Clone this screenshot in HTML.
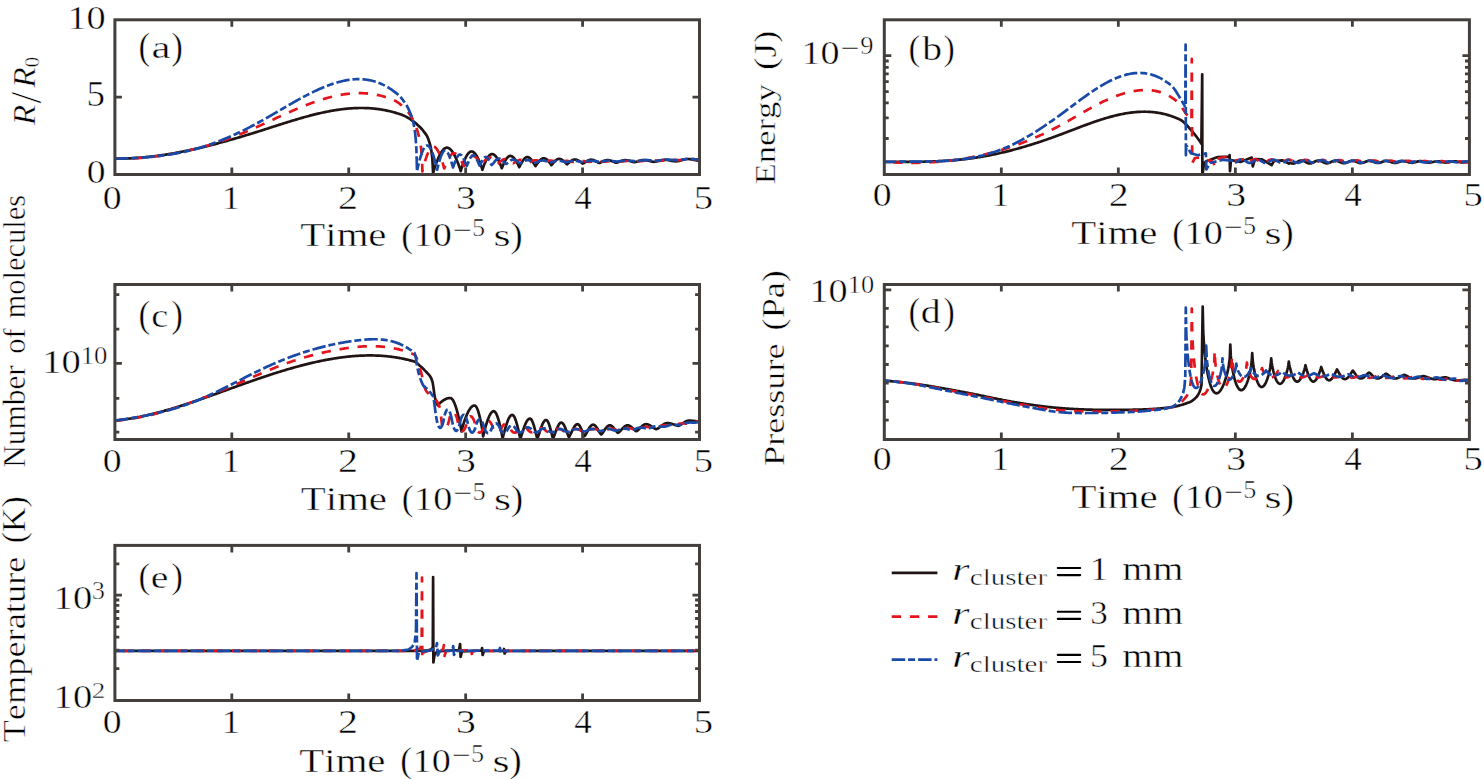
<!DOCTYPE html><html><head><meta charset="utf-8"><style>html,body{margin:0;padding:0;background:#fff;width:1484px;height:779px;overflow:hidden}text{font-family:"Liberation Serif",serif;font-kerning:none}</style></head><body><svg width="1484" height="779" viewBox="0 0 1484 779" style="position:absolute;left:0;top:0">
<rect width="1484" height="779" fill="#fff"/>
<defs>
<clipPath id="clipa"><rect x="114.9" y="19.8" width="584.6" height="154.7"/></clipPath>
<clipPath id="clipb"><rect x="884.3" y="19.8" width="585.1000000000001" height="154.7"/></clipPath>
<clipPath id="clipc"><rect x="114.9" y="284.5" width="584.6" height="155.0"/></clipPath>
<clipPath id="clipd"><rect x="884.3" y="284.5" width="585.1000000000001" height="155.0"/></clipPath>
<clipPath id="clipe"><rect x="114.9" y="545.4" width="584.6" height="155.10000000000002"/></clipPath>
</defs>
<path d="M114.90,158.69 L115.90,158.69 L116.90,158.69 L117.90,158.69 L118.90,158.68 L119.90,158.66 L120.90,158.65 L121.90,158.63 L122.90,158.60 L123.90,158.58 L124.90,158.55 L125.90,158.51 L126.90,158.48 L127.90,158.44 L128.90,158.39 L129.90,158.34 L130.90,158.29 L131.90,158.24 L132.90,158.18 L133.90,158.12 L134.90,158.06 L135.90,157.99 L136.90,157.92 L137.90,157.85 L138.90,157.77 L139.90,157.69 L140.90,157.61 L141.90,157.52 L142.90,157.43 L143.90,157.34 L144.90,157.24 L145.90,157.15 L146.90,157.04 L147.90,156.94 L148.90,156.83 L149.90,156.72 L150.90,156.61 L151.90,156.49 L152.90,156.37 L153.90,156.25 L154.90,156.13 L155.90,156.00 L156.90,155.87 L157.90,155.73 L158.90,155.60 L159.90,155.46 L160.90,155.32 L161.90,155.17 L162.90,155.02 L163.90,154.87 L164.90,154.72 L165.90,154.57 L166.90,154.41 L167.90,154.25 L168.90,154.09 L169.90,153.92 L170.90,153.75 L171.90,153.58 L172.90,153.41 L173.90,153.23 L174.90,153.05 L175.90,152.87 L176.90,152.69 L177.90,152.50 L178.90,152.32 L179.90,152.13 L180.90,151.93 L181.90,151.74 L182.90,151.54 L183.90,151.34 L184.90,151.14 L185.90,150.94 L186.90,150.73 L187.90,150.52 L188.90,150.31 L189.90,150.10 L190.90,149.88 L191.90,149.67 L192.90,149.45 L193.90,149.22 L194.90,149.00 L195.90,148.78 L196.90,148.55 L197.90,148.32 L198.90,148.09 L199.90,147.85 L200.90,147.62 L201.90,147.38 L202.90,147.14 L203.90,146.90 L204.90,146.66 L205.90,146.41 L206.90,146.17 L207.90,145.92 L208.90,145.67 L209.90,145.41 L210.90,145.16 L211.90,144.90 L212.90,144.65 L213.90,144.39 L214.90,144.13 L215.90,143.87 L216.90,143.60 L217.90,143.34 L218.90,143.07 L219.90,142.80 L220.90,142.53 L221.90,142.26 L222.90,141.98 L223.90,141.71 L224.90,141.43 L225.90,141.15 L226.90,140.88 L227.90,140.59 L228.90,140.31 L229.90,140.03 L230.90,139.74 L231.90,139.46 L232.90,139.17 L233.90,138.88 L234.90,138.59 L235.90,138.30 L236.90,138.01 L237.90,137.71 L238.90,137.42 L239.90,137.12 L240.90,136.83 L241.90,136.53 L242.90,136.23 L243.90,135.93 L244.90,135.63 L245.90,135.32 L246.90,135.02 L247.90,134.71 L248.90,134.41 L249.90,134.10 L250.90,133.79 L251.90,133.49 L252.90,133.18 L253.90,132.87 L254.90,132.55 L256.23,132.14 L257.57,131.72 L258.90,131.30 L259.90,130.99 L260.90,130.67 L261.90,130.35 L262.90,130.03 L263.90,129.72 L264.90,129.40 L265.90,129.08 L266.90,128.76 L267.90,128.44 L268.90,128.12 L269.90,127.79 L270.90,127.47 L271.90,127.15 L272.90,126.83 L273.90,126.51 L274.90,126.19 L275.90,125.87 L276.90,125.55 L277.90,125.23 L278.90,124.91 L279.90,124.59 L280.90,124.27 L281.90,123.95 L282.90,123.63 L283.90,123.32 L284.90,123.00 L285.90,122.69 L286.90,122.38 L287.90,122.06 L288.90,121.75 L289.90,121.44 L290.90,121.14 L291.90,120.83 L292.90,120.53 L293.90,120.22 L294.90,119.92 L295.90,119.62 L296.90,119.33 L297.90,119.03 L298.90,118.74 L299.90,118.45 L300.90,118.16 L301.90,117.87 L302.90,117.59 L303.90,117.30 L304.90,117.03 L305.90,116.75 L306.90,116.48 L307.90,116.20 L308.90,115.94 L309.90,115.67 L310.90,115.41 L311.90,115.15 L312.90,114.90 L313.90,114.64 L314.90,114.39 L315.90,114.15 L316.90,113.91 L317.90,113.67 L318.90,113.43 L319.90,113.20 L320.90,112.98 L321.90,112.75 L322.90,112.54 L323.90,112.32 L324.90,112.11 L325.90,111.90 L326.90,111.70 L327.90,111.50 L328.90,111.31 L329.90,111.12 L330.90,110.94 L331.90,110.76 L332.90,110.59 L333.90,110.42 L334.90,110.25 L335.90,110.09 L336.90,109.94 L337.90,109.79 L338.90,109.65 L339.90,109.51 L340.90,109.38 L341.90,109.25 L342.90,109.13 L343.90,109.01 L344.90,108.90 L345.90,108.80 L346.90,108.70 L347.90,108.61 L348.90,108.52 L349.90,108.44 L350.90,108.37 L351.90,108.30 L352.90,108.24 L353.90,108.19 L354.90,108.14 L355.90,108.10 L356.90,108.06 L357.90,108.04 L358.90,108.02 L359.90,108.00 L360.90,108.00 L361.90,108.00 L362.90,108.01 L363.90,108.02 L364.90,108.05 L365.90,108.08 L366.90,108.11 L367.90,108.16 L368.90,108.21 L369.90,108.27 L370.90,108.34 L371.90,108.42 L372.90,108.51 L373.90,108.60 L374.90,108.70 L375.90,108.81 L376.90,108.93 L377.90,109.06 L378.90,109.19 L379.90,109.34 L380.90,109.49 L381.90,109.65 L382.90,109.82 L383.90,110.00 L384.90,110.19 L385.90,110.38 L386.90,110.59 L387.90,110.81 L388.90,111.03 L389.90,111.27 L390.90,111.51 L391.90,111.76 L392.90,112.03 L393.90,112.30 L394.90,112.58 L395.90,112.88 L396.90,113.19 L397.90,113.50 L398.90,113.82 L400.03,114.19 L401.17,114.58 L402.30,114.99 L403.33,115.40 L404.35,115.85 L405.38,116.35 L406.41,116.89 L407.44,117.47 L408.46,118.08 L409.49,118.72 L410.52,119.39 L411.55,120.08 L412.57,120.78 L413.60,121.50 L414.60,122.25 L415.60,123.08 L416.60,123.96 L417.60,124.90 L418.60,125.86 L419.60,126.83 L420.60,127.80 L421.74,128.99 L422.88,130.34 L424.02,131.81 L425.16,133.34 L426.30,134.90 L427.35,136.73 L428.40,139.30 L429.45,142.49 L430.50,146.20 L431.40,151.03 L432.30,158.00 L433.10,173.10 L433.60,171.17 L434.10,169.50 L434.61,167.93 L435.11,166.43 L435.61,164.98 L436.11,163.58 L436.61,162.23 L437.11,160.94 L437.62,159.69 L438.12,158.50 L438.62,157.36 L439.12,156.27 L439.62,155.24 L440.13,154.27 L440.63,153.36 L441.13,152.51 L441.63,151.73 L442.13,151.01 L442.63,150.36 L443.14,149.78 L443.64,149.26 L444.14,148.82 L444.64,148.45 L445.14,148.16 L445.65,147.93 L446.15,147.78 L446.65,147.71 L447.15,147.71 L447.65,147.78 L448.15,147.92 L448.66,148.12 L449.16,148.40 L449.66,148.74 L450.16,149.15 L450.66,149.62 L451.17,150.16 L451.67,150.76 L452.17,151.43 L452.67,152.15 L453.17,152.94 L453.67,153.78 L454.18,154.68 L454.68,155.63 L455.18,156.63 L455.68,157.69 L456.18,158.79 L456.69,159.95 L457.19,161.15 L457.69,162.39 L458.19,163.69 L458.69,165.03 L459.19,166.42 L459.70,167.87 L460.20,169.41 L460.70,171.20 L461.20,169.32 L461.71,167.71 L462.21,166.19 L462.72,164.75 L463.22,163.37 L463.73,162.05 L464.23,160.81 L464.74,159.62 L465.24,158.51 L465.75,157.46 L466.25,156.50 L466.76,155.61 L467.26,154.80 L467.77,154.07 L468.27,153.43 L468.77,152.88 L469.28,152.42 L469.78,152.05 L470.29,151.77 L470.79,151.59 L471.30,151.51 L471.80,151.52 L472.31,151.61 L472.81,151.79 L473.32,152.06 L473.82,152.42 L474.33,152.85 L474.83,153.37 L475.33,153.97 L475.84,154.65 L476.34,155.40 L476.85,156.23 L477.35,157.13 L477.86,158.09 L478.36,159.12 L478.87,160.22 L479.37,161.37 L479.88,162.58 L480.38,163.85 L480.89,165.18 L481.39,166.58 L481.90,168.07 L482.40,169.80 L482.91,168.14 L483.42,166.70 L483.93,165.36 L484.44,164.10 L484.95,162.89 L485.46,161.75 L485.97,160.68 L486.48,159.68 L486.99,158.74 L487.51,157.89 L488.02,157.11 L488.53,156.42 L489.04,155.81 L489.55,155.30 L490.06,154.87 L490.57,154.53 L491.08,154.29 L491.59,154.15 L492.10,154.10 L492.61,154.14 L493.12,154.27 L493.63,154.49 L494.14,154.79 L494.65,155.17 L495.16,155.64 L495.67,156.18 L496.18,156.81 L496.69,157.50 L497.21,158.27 L497.72,159.11 L498.23,160.01 L498.74,160.97 L499.25,162.00 L499.76,163.08 L500.27,164.22 L500.78,165.42 L501.29,166.71 L501.80,168.20 L502.31,166.89 L502.83,165.67 L503.34,164.51 L503.86,163.40 L504.37,162.34 L504.89,161.35 L505.40,160.42 L505.92,159.56 L506.43,158.78 L506.95,158.08 L507.46,157.48 L507.98,156.96 L508.49,156.55 L509.01,156.23 L509.52,156.02 L510.04,155.91 L510.55,155.91 L511.06,156.00 L511.58,156.17 L512.09,156.42 L512.61,156.76 L513.12,157.18 L513.64,157.68 L514.15,158.25 L514.67,158.89 L515.18,159.60 L515.70,160.37 L516.21,161.20 L516.73,162.08 L517.24,163.01 L517.76,163.99 L518.27,165.00 L518.79,166.06 L519.30,167.20 L519.80,166.20 L520.31,165.22 L520.81,164.25 L521.31,163.31 L521.82,162.41 L522.32,161.56 L522.82,160.76 L523.32,160.02 L523.83,159.36 L524.33,158.77 L524.83,158.26 L525.34,157.84 L525.84,157.51 L526.34,157.28 L526.85,157.14 L527.35,157.10 L527.85,157.15 L528.36,157.29 L528.86,157.51 L529.36,157.82 L529.87,158.20 L530.37,158.66 L530.87,159.20 L531.38,159.80 L531.88,160.46 L532.38,161.17 L532.88,161.93 L533.39,162.74 L533.89,163.57 L534.39,164.44 L534.90,165.31 L535.40,166.20 L535.90,165.47 L536.40,164.75 L536.90,164.04 L537.40,163.35 L537.90,162.68 L538.40,162.04 L538.90,161.44 L539.40,160.88 L539.90,160.36 L540.40,159.90 L540.90,159.48 L541.40,159.13 L541.90,158.83 L542.40,158.60 L542.90,158.43 L543.40,158.33 L543.90,158.30 L544.40,158.34 L544.90,158.45 L545.40,158.64 L545.90,158.90 L546.40,159.22 L546.90,159.62 L547.40,160.07 L547.90,160.58 L548.40,161.14 L548.90,161.75 L549.40,162.39 L549.90,163.07 L550.40,163.77 L550.90,164.48 L551.40,165.20 L551.90,164.62 L552.41,164.01 L552.91,163.40 L553.41,162.80 L553.92,162.21 L554.42,161.66 L554.92,161.14 L555.43,160.66 L555.93,160.23 L556.43,159.85 L556.94,159.53 L557.44,159.28 L557.94,159.08 L558.45,158.96 L558.95,158.90 L559.45,158.91 L559.95,158.98 L560.46,159.11 L560.96,159.29 L561.46,159.52 L561.97,159.81 L562.47,160.14 L562.97,160.52 L563.48,160.93 L563.98,161.38 L564.48,161.86 L564.99,162.36 L565.49,162.87 L565.99,163.39 L566.50,163.91 L567.00,164.40 L567.51,164.01 L568.02,163.56 L568.53,163.10 L569.04,162.64 L569.55,162.19 L570.06,161.75 L570.57,161.34 L571.08,160.96 L571.59,160.62 L572.10,160.31 L572.61,160.05 L573.12,159.83 L573.63,159.67 L574.14,159.56 L574.65,159.51 L575.15,159.51 L575.66,159.55 L576.17,159.64 L576.68,159.78 L577.19,159.96 L577.70,160.18 L578.21,160.43 L578.72,160.72 L579.23,161.04 L579.74,161.39 L580.25,161.75 L580.76,162.13 L581.27,162.51 L581.78,162.90 L582.29,163.27 L582.80,163.60 L583.31,163.37 L583.82,163.08 L584.33,162.76 L584.84,162.43 L585.35,162.09 L585.86,161.76 L586.37,161.44 L586.88,161.13 L587.38,160.84 L587.89,160.58 L588.40,160.35 L588.91,160.14 L589.42,159.98 L589.93,159.85 L590.44,159.76 L590.95,159.71 L591.46,159.70 L591.97,159.74 L592.48,159.81 L592.99,159.93 L593.50,160.08 L594.01,160.27 L594.52,160.48 L595.02,160.73 L595.53,161.00 L596.04,161.29 L596.55,161.60 L597.06,161.90 L597.57,162.21 L598.08,162.51 L598.59,162.79 L599.10,163.00 L599.60,162.88 L600.10,162.71 L600.60,162.50 L601.10,162.27 L601.60,162.03 L602.10,161.78 L602.60,161.54 L603.10,161.30 L603.60,161.07 L604.10,160.86 L604.60,160.67 L605.10,160.50 L605.60,160.36 L606.10,160.25 L606.60,160.17 L607.10,160.12 L607.60,160.10 L608.10,160.11 L608.60,160.16 L609.10,160.23 L609.60,160.33 L610.10,160.46 L610.60,160.61 L611.10,160.78 L611.60,160.97 L612.10,161.17 L612.60,161.39 L613.10,161.61 L613.60,161.83 L614.10,162.04 L614.60,162.25 L615.10,162.44 L615.60,162.60 L616.10,162.70 L616.61,162.64 L617.11,162.52 L617.62,162.37 L618.12,162.20 L618.63,162.01 L619.13,161.82 L619.64,161.61 L620.14,161.41 L620.65,161.21 L621.16,161.02 L621.66,160.85 L622.17,160.69 L622.67,160.54 L623.18,160.42 L623.68,160.33 L624.19,160.26 L624.69,160.21 L625.20,160.20 L625.71,160.21 L626.21,160.24 L626.72,160.30 L627.22,160.37 L627.73,160.46 L628.23,160.57 L628.74,160.69 L629.24,160.83 L629.75,160.97 L630.26,161.12 L630.76,161.27 L631.27,161.43 L631.77,161.58 L632.28,161.72 L632.78,161.85 L633.29,161.96 L633.79,162.05 L634.30,162.10 L634.81,162.07 L635.32,162.00 L635.83,161.91 L636.34,161.79 L636.85,161.65 L637.36,161.51 L637.87,161.35 L638.38,161.18 L638.89,161.02 L639.41,160.85 L639.92,160.70 L640.43,160.55 L640.94,160.41 L641.45,160.29 L641.96,160.19 L642.47,160.11 L642.98,160.05 L643.49,160.01 L644.00,160.00 L644.51,160.01 L645.02,160.04 L645.53,160.09 L646.04,160.16 L646.55,160.25 L647.06,160.35 L647.57,160.47 L648.08,160.60 L648.59,160.73 L649.11,160.87 L649.62,161.01 L650.13,161.15 L650.64,161.29 L651.15,161.42 L651.66,161.53 L652.17,161.63 L652.68,161.72 L653.19,161.77 L653.70,161.80 L654.21,161.79 L654.72,161.75 L655.23,161.69 L655.74,161.61 L656.25,161.51 L656.76,161.40 L657.27,161.28 L657.77,161.15 L658.28,161.01 L658.79,160.87 L659.30,160.72 L659.81,160.58 L660.32,160.44 L660.83,160.31 L661.34,160.19 L661.85,160.08 L662.36,159.99 L662.87,159.92 L663.38,159.86 L663.89,159.82 L664.40,159.80 L664.90,159.80 L665.41,159.82 L665.92,159.85 L666.43,159.90 L666.94,159.95 L667.45,160.02 L667.96,160.11 L668.47,160.20 L668.98,160.29 L669.49,160.40 L670.00,160.50 L670.51,160.61 L671.02,160.72 L671.53,160.82 L672.03,160.92 L672.54,161.01 L673.05,161.09 L673.56,161.16 L674.07,161.22 L674.58,161.26 L675.09,161.29 L675.60,161.30 L676.11,161.29 L676.62,161.26 L677.13,161.21 L677.63,161.14 L678.14,161.05 L678.65,160.95 L679.16,160.83 L679.67,160.70 L680.18,160.56 L680.69,160.41 L681.19,160.26 L681.70,160.10 L682.21,159.95 L682.72,159.80 L683.23,159.66 L683.74,159.52 L684.24,159.40 L684.75,159.29 L685.26,159.20 L685.77,159.12 L686.28,159.06 L686.79,159.02 L687.30,159.00 L687.80,159.00 L688.31,159.02 L688.82,159.05 L689.33,159.09 L689.84,159.15 L690.35,159.21 L690.86,159.29 L691.36,159.38 L691.87,159.47 L692.38,159.57 L692.89,159.67 L693.40,159.78 L693.91,159.88 L694.41,159.99 L694.92,160.09 L695.43,160.19 L695.94,160.28 L696.45,160.36 L696.96,160.43 L697.47,160.49 L697.97,160.54 L698.48,160.57 L698.99,160.59 L699.50,160.60" fill="none" stroke="#201414" stroke-width="2.7" stroke-linejoin="round" clip-path="url(#clipa)"/>
<path d="M114.90,158.67 L115.90,158.68 L116.90,158.69 L117.90,158.70 L118.90,158.70 L119.90,158.70 L120.90,158.69 L121.90,158.69 L122.90,158.67 L123.90,158.66 L124.90,158.64 L125.90,158.62 L126.90,158.59 L127.90,158.57 L128.90,158.53 L129.90,158.50 L130.90,158.46 L131.90,158.42 L132.90,158.37 L133.90,158.32 L134.90,158.27 L135.90,158.22 L136.90,158.16 L137.90,158.10 L138.90,158.03 L139.90,157.96 L140.90,157.89 L141.90,157.82 L142.90,157.74 L143.90,157.66 L144.90,157.57 L145.90,157.48 L146.90,157.39 L147.90,157.29 L148.90,157.20 L149.90,157.09 L150.90,156.99 L151.90,156.88 L152.90,156.77 L153.90,156.65 L154.90,156.53 L155.90,156.41 L156.90,156.28 L157.90,156.16 L158.90,156.02 L159.90,155.89 L160.90,155.75 L161.90,155.61 L162.90,155.46 L163.90,155.31 L164.90,155.16 L165.90,155.01 L166.90,154.85 L167.90,154.68 L168.90,154.52 L169.90,154.35 L170.90,154.18 L171.90,154.00 L172.90,153.82 L173.90,153.64 L174.90,153.46 L175.90,153.27 L176.90,153.07 L177.90,152.88 L178.90,152.68 L179.90,152.48 L180.90,152.27 L181.90,152.06 L182.90,151.85 L183.90,151.64 L184.90,151.42 L185.90,151.19 L186.90,150.97 L187.90,150.74 L188.90,150.51 L189.90,150.27 L190.90,150.03 L191.90,149.79 L192.90,149.55 L193.90,149.30 L194.90,149.05 L195.90,148.79 L196.90,148.53 L197.90,148.27 L198.90,148.00 L199.90,147.73 L200.90,147.46 L201.90,147.19 L202.90,146.91 L203.90,146.63 L204.90,146.34 L205.90,146.05 L206.90,145.76 L207.90,145.47 L208.90,145.17 L209.90,144.87 L210.90,144.56 L211.90,144.25 L212.90,143.94 L213.90,143.63 L214.90,143.31 L215.90,142.99 L216.90,142.66 L217.90,142.33 L218.90,142.00 L219.90,141.67 L220.90,141.33 L221.90,140.99 L222.90,140.64 L223.90,140.29 L224.90,139.94 L225.90,139.59 L226.90,139.23 L227.90,138.87 L228.90,138.50 L229.90,138.13 L230.90,137.76 L231.90,137.39 L232.90,137.01 L233.90,136.63 L234.90,136.24 L235.90,135.86 L236.90,135.47 L237.90,135.07 L238.90,134.67 L239.90,134.27 L240.90,133.87 L241.90,133.46 L242.90,133.05 L243.90,132.64 L244.90,132.22 L245.90,131.80 L246.90,131.37 L247.90,130.95 L248.90,130.52 L249.90,130.08 L250.90,129.65 L251.90,129.21 L252.90,128.77 L253.90,128.33 L254.90,127.89 L256.23,127.29 L257.57,126.69 L258.90,126.09 L259.90,125.64 L260.90,125.18 L261.90,124.73 L262.90,124.27 L263.90,123.81 L264.90,123.35 L265.90,122.89 L266.90,122.43 L267.90,121.97 L268.90,121.51 L269.90,121.05 L270.90,120.58 L271.90,120.12 L272.90,119.66 L273.90,119.20 L274.90,118.73 L275.90,118.27 L276.90,117.81 L277.90,117.35 L278.90,116.89 L279.90,116.43 L280.90,115.98 L281.90,115.52 L282.90,115.06 L283.90,114.61 L284.90,114.16 L285.90,113.71 L286.90,113.26 L287.90,112.81 L288.90,112.36 L289.90,111.92 L290.90,111.48 L291.90,111.04 L292.90,110.60 L293.90,110.17 L294.90,109.74 L295.90,109.31 L296.90,108.88 L297.90,108.46 L298.90,108.04 L299.90,107.62 L300.90,107.21 L301.90,106.80 L302.90,106.39 L303.90,105.99 L304.90,105.59 L305.90,105.20 L306.90,104.81 L307.90,104.42 L308.90,104.04 L309.90,103.66 L310.90,103.29 L311.90,102.92 L312.90,102.56 L313.90,102.20 L314.90,101.85 L315.90,101.50 L316.90,101.16 L317.90,100.82 L318.90,100.49 L319.90,100.16 L320.90,99.84 L321.90,99.53 L322.90,99.22 L323.90,98.92 L324.90,98.62 L325.90,98.34 L326.90,98.05 L327.90,97.78 L328.90,97.51 L329.90,97.24 L330.90,96.99 L331.90,96.74 L332.90,96.50 L333.90,96.26 L334.90,96.04 L335.90,95.82 L336.90,95.61 L337.90,95.40 L338.90,95.21 L339.90,95.02 L340.90,94.84 L341.90,94.67 L342.90,94.51 L343.90,94.36 L344.90,94.21 L345.90,94.07 L346.90,93.95 L347.90,93.83 L348.90,93.72 L349.90,93.62 L350.90,93.53 L351.90,93.45 L352.90,93.37 L353.90,93.31 L354.90,93.26 L355.90,93.22 L356.90,93.19 L357.90,93.17 L358.90,93.15 L359.90,93.15 L360.90,93.16 L361.90,93.18 L362.90,93.22 L363.90,93.26 L364.90,93.31 L365.90,93.38 L366.90,93.45 L367.90,93.54 L368.90,93.64 L369.90,93.75 L370.90,93.87 L371.90,94.00 L372.90,94.15 L373.90,94.31 L374.90,94.48 L375.90,94.66 L376.90,94.86 L377.90,95.07 L378.90,95.29 L379.90,95.52 L380.90,95.77 L381.90,96.03 L382.90,96.30 L383.90,96.59 L384.90,96.89 L385.90,97.20 L386.90,97.53 L387.90,97.87 L388.90,98.23 L389.90,98.61 L390.90,98.98 L391.90,99.36 L392.90,99.77 L393.90,100.21 L394.90,100.65 L395.95,101.18 L397.01,101.81 L398.06,102.53 L399.12,103.33 L400.17,104.19 L401.23,105.11 L402.28,106.08 L403.34,107.08 L404.39,108.11 L405.45,109.15 L406.50,110.20 L407.51,111.30 L408.53,112.58 L409.54,114.01 L410.56,115.57 L411.57,117.23 L412.59,118.99 L413.60,120.80 L414.65,123.03 L415.70,125.78 L416.75,128.87 L417.80,132.10 L419.20,137.48 L420.60,144.80 L421.30,150.16 L422.00,157.40 L422.40,171.40 L422.91,169.05 L423.41,167.02 L423.92,165.12 L424.43,163.31 L424.93,161.58 L425.44,159.93 L425.95,158.36 L426.46,156.88 L426.96,155.48 L427.47,154.17 L427.98,152.95 L428.48,151.83 L428.99,150.81 L429.50,149.89 L430.00,149.08 L430.51,148.39 L431.02,147.80 L431.53,147.33 L432.03,146.97 L432.54,146.73 L433.05,146.61 L433.55,146.61 L434.06,146.72 L434.57,146.93 L435.07,147.24 L435.58,147.66 L436.09,148.18 L436.60,148.79 L437.10,149.51 L437.61,150.32 L438.12,151.22 L438.62,152.21 L439.13,153.28 L439.64,154.44 L440.14,155.68 L440.65,156.99 L441.16,158.37 L441.67,159.83 L442.17,161.35 L442.68,162.95 L443.19,164.63 L443.69,166.42 L444.20,168.50 L444.70,167.19 L445.21,165.94 L445.71,164.72 L446.21,163.54 L446.71,162.39 L447.22,161.29 L447.72,160.24 L448.22,159.24 L448.72,158.31 L449.23,157.44 L449.73,156.65 L450.23,155.93 L450.73,155.29 L451.24,154.73 L451.74,154.26 L452.24,153.88 L452.74,153.60 L453.25,153.41 L453.75,153.31 L454.25,153.31 L454.75,153.39 L455.26,153.55 L455.76,153.79 L456.26,154.10 L456.76,154.50 L457.27,154.96 L457.77,155.49 L458.27,156.10 L458.77,156.76 L459.28,157.49 L459.78,158.27 L460.28,159.10 L460.78,159.98 L461.29,160.90 L461.79,161.85 L462.29,162.84 L462.79,163.86 L463.30,164.91 L463.80,166.00 L464.31,165.18 L464.81,164.32 L465.32,163.45 L465.82,162.59 L466.33,161.74 L466.83,160.93 L467.34,160.15 L467.85,159.42 L468.35,158.74 L468.86,158.12 L469.36,157.56 L469.87,157.07 L470.37,156.66 L470.88,156.32 L471.39,156.07 L471.89,155.90 L472.40,155.81 L472.90,155.81 L473.41,155.89 L473.91,156.04 L474.42,156.27 L474.93,156.57 L475.43,156.95 L475.94,157.39 L476.44,157.89 L476.95,158.45 L477.45,159.06 L477.96,159.72 L478.47,160.43 L478.97,161.16 L479.48,161.92 L479.98,162.70 L480.49,163.48 L480.99,164.26 L481.50,165.00 L482.00,164.44 L482.50,163.80 L483.00,163.12 L483.50,162.44 L484.00,161.77 L484.50,161.12 L485.00,160.49 L485.50,159.91 L486.00,159.38 L486.50,158.90 L487.00,158.48 L487.50,158.14 L488.00,157.86 L488.50,157.66 L489.00,157.54 L489.50,157.50 L490.00,157.54 L490.50,157.64 L491.00,157.81 L491.50,158.05 L492.00,158.35 L492.50,158.71 L493.00,159.13 L493.50,159.59 L494.00,160.10 L494.50,160.63 L495.00,161.20 L495.50,161.78 L496.00,162.37 L496.50,162.96 L497.00,163.52 L497.50,164.00 L498.00,163.68 L498.50,163.26 L499.00,162.81 L499.50,162.35 L500.00,161.89 L500.50,161.44 L501.00,161.00 L501.50,160.59 L502.00,160.22 L502.50,159.89 L503.00,159.60 L503.50,159.37 L504.00,159.19 L504.50,159.07 L505.00,159.01 L505.50,159.01 L506.00,159.06 L506.50,159.16 L507.00,159.32 L507.50,159.52 L508.00,159.76 L508.50,160.05 L509.00,160.37 L509.50,160.72 L510.00,161.10 L510.50,161.49 L511.00,161.88 L511.50,162.28 L512.00,162.67 L512.50,163.02 L513.00,163.30 L513.50,163.10 L514.00,162.82 L514.50,162.51 L515.00,162.18 L515.50,161.85 L516.00,161.51 L516.50,161.20 L517.00,160.90 L517.50,160.62 L518.00,160.38 L518.50,160.18 L519.00,160.02 L519.50,159.90 L520.00,159.82 L520.50,159.80 L521.00,159.82 L521.50,159.88 L522.00,159.98 L522.50,160.12 L523.00,160.30 L523.50,160.51 L524.00,160.74 L524.50,161.00 L525.00,161.27 L525.50,161.55 L526.00,161.84 L526.50,162.12 L527.00,162.39 L527.50,162.63 L528.00,162.80 L528.50,162.68 L529.00,162.50 L529.50,162.28 L530.00,162.05 L530.50,161.81 L531.00,161.57 L531.50,161.34 L532.00,161.12 L532.50,160.92 L533.00,160.74 L533.50,160.59 L534.00,160.46 L534.50,160.37 L535.00,160.32 L535.50,160.30 L536.00,160.32 L536.50,160.36 L537.00,160.44 L537.50,160.55 L538.00,160.69 L538.50,160.84 L539.00,161.02 L539.50,161.22 L540.00,161.42 L540.50,161.63 L541.00,161.84 L541.50,162.04 L542.00,162.23 L542.50,162.39 L543.00,162.50 L543.50,162.42 L544.00,162.29 L544.50,162.14 L545.00,161.97 L545.50,161.79 L546.00,161.60 L546.50,161.42 L547.00,161.25 L547.50,161.09 L548.00,160.95 L548.50,160.83 L549.00,160.73 L549.50,160.66 L550.00,160.61 L550.50,160.60 L551.00,160.61 L551.50,160.65 L552.00,160.71 L552.50,160.79 L553.00,160.89 L553.50,161.01 L554.00,161.15 L554.50,161.29 L555.00,161.44 L555.50,161.60 L556.00,161.75 L556.50,161.90 L557.00,162.03 L557.50,162.13 L558.00,162.20 L558.50,162.15 L559.00,162.06 L559.50,161.96 L560.00,161.83 L560.50,161.70 L561.00,161.56 L561.50,161.43 L562.00,161.30 L562.50,161.18 L563.00,161.07 L563.50,160.98 L564.00,160.90 L564.50,160.85 L565.00,160.81 L565.50,160.80 L566.00,160.81 L566.50,160.84 L567.00,160.89 L567.50,160.95 L568.00,161.03 L568.50,161.12 L569.00,161.23 L569.50,161.34 L570.00,161.46 L570.50,161.57 L571.00,161.68 L571.50,161.79 L572.00,161.88 L572.50,161.96 L573.00,162.00 L573.50,161.97 L574.00,161.91 L574.50,161.84 L575.00,161.75 L575.50,161.66 L576.00,161.56 L576.50,161.46 L577.00,161.36 L577.50,161.26 L578.00,161.18 L578.50,161.10 L579.00,161.03 L579.50,160.97 L580.00,160.93 L580.50,160.91 L581.00,160.90 L581.50,160.91 L582.00,160.93 L582.50,160.96 L583.00,161.00 L583.50,161.06 L584.00,161.13 L584.50,161.20 L585.00,161.28 L585.50,161.36 L586.00,161.44 L586.50,161.52 L587.00,161.60 L587.50,161.67 L588.00,161.73 L588.50,161.78 L589.00,161.80 L589.50,161.78 L590.00,161.74 L590.50,161.68 L591.00,161.61 L591.50,161.54 L592.00,161.46 L592.50,161.37 L593.00,161.29 L593.50,161.21 L594.00,161.13 L594.50,161.07 L595.00,161.01 L595.50,160.96 L596.00,160.93 L596.50,160.91 L597.00,160.90 L597.50,160.91 L598.00,160.92 L598.50,160.95 L599.00,160.98 L599.50,161.03 L600.00,161.08 L600.50,161.14 L601.00,161.20 L601.50,161.27 L602.00,161.33 L602.50,161.40 L603.00,161.45 L603.50,161.51 L604.00,161.55 L604.50,161.58 L605.00,161.60 L605.50,161.59 L606.00,161.56 L606.50,161.51 L607.00,161.46 L607.50,161.40 L608.00,161.33 L608.50,161.26 L609.00,161.19 L609.50,161.12 L610.00,161.06 L610.50,160.99 L611.00,160.94 L611.50,160.89 L612.00,160.85 L612.50,160.82 L613.00,160.81 L613.50,160.80 L614.00,160.80 L614.50,160.82 L615.00,160.84 L615.50,160.87 L616.00,160.90 L616.50,160.95 L617.00,160.99 L617.50,161.04 L618.00,161.09 L618.50,161.15 L619.00,161.20 L619.50,161.25 L620.00,161.29 L620.50,161.33 L621.00,161.37 L621.50,161.39 L622.00,161.40 L622.50,161.39 L623.00,161.36 L623.50,161.33 L624.00,161.28 L624.50,161.23 L625.00,161.17 L625.50,161.10 L626.00,161.04 L626.50,160.97 L627.00,160.90 L627.50,160.84 L628.00,160.78 L628.50,160.73 L629.00,160.68 L629.50,160.65 L630.00,160.62 L630.50,160.61 L631.00,160.60 L631.50,160.60 L632.00,160.62 L632.50,160.64 L633.00,160.66 L633.50,160.70 L634.00,160.74 L634.50,160.78 L635.00,160.83 L635.50,160.88 L636.00,160.93 L636.50,160.98 L637.00,161.03 L637.50,161.07 L638.00,161.11 L638.50,161.15 L639.00,161.17 L639.50,161.19 L640.00,161.20 L640.50,161.19 L641.00,161.17 L641.50,161.13 L642.00,161.09 L642.50,161.03 L643.00,160.97 L643.50,160.90 L644.00,160.83 L644.50,160.75 L645.00,160.67 L645.50,160.60 L646.00,160.52 L646.50,160.46 L647.00,160.39 L647.50,160.34 L648.00,160.29 L648.50,160.25 L649.00,160.22 L649.50,160.21 L650.00,160.20 L650.50,160.20 L651.00,160.21 L651.50,160.23 L652.00,160.25 L652.50,160.28 L653.00,160.32 L653.50,160.35 L654.00,160.39 L654.50,160.44 L655.00,160.48 L655.50,160.53 L656.00,160.58 L656.50,160.62 L657.00,160.66 L657.50,160.70 L658.00,160.73 L658.50,160.76 L659.00,160.78 L659.50,160.79 L660.00,160.80 L660.50,160.79 L661.00,160.77 L661.50,160.73 L662.00,160.68 L662.50,160.61 L663.00,160.54 L663.50,160.46 L664.00,160.37 L664.50,160.28 L665.00,160.18 L665.50,160.09 L666.00,160.00 L666.50,159.92 L667.00,159.84 L667.50,159.77 L668.00,159.71 L668.50,159.66 L669.00,159.63 L669.50,159.61 L670.00,159.60 L670.50,159.60 L671.00,159.61 L671.50,159.63 L672.00,159.66 L672.50,159.68 L673.00,159.72 L673.50,159.76 L674.00,159.80 L674.50,159.85 L675.00,159.89 L675.50,159.94 L676.00,159.98 L676.50,160.03 L677.00,160.07 L677.50,160.11 L678.00,160.14 L678.50,160.16 L679.00,160.18 L679.50,160.20 L680.00,160.20 L680.50,160.19 L681.00,160.17 L681.50,160.13 L682.00,160.08 L682.50,160.02 L683.00,159.94 L683.50,159.86 L684.00,159.77 L684.50,159.67 L685.00,159.58 L685.50,159.48 L686.00,159.39 L686.50,159.30 L687.00,159.22 L687.50,159.15 L688.00,159.09 L688.50,159.05 L689.00,159.02 L689.50,159.00 L690.00,159.00 L690.50,159.01 L691.00,159.02 L691.50,159.04 L692.00,159.06 L692.50,159.09 L693.00,159.12 L693.50,159.16 L694.00,159.20 L694.50,159.24 L695.00,159.28 L695.50,159.32 L696.00,159.36 L696.50,159.39 L697.00,159.42 L697.50,159.45 L698.00,159.47 L698.50,159.49 L699.00,159.50 L699.50,159.50" fill="none" stroke="#e3141c" stroke-width="2.7" stroke-linejoin="round" stroke-dasharray="9.4 8.8" clip-path="url(#clipa)"/>
<path d="M114.90,158.68 L115.90,158.66 L116.90,158.64 L117.90,158.61 L118.90,158.58 L119.90,158.56 L120.90,158.53 L121.90,158.50 L122.90,158.47 L123.90,158.43 L124.90,158.40 L125.90,158.36 L126.90,158.32 L127.90,158.28 L128.90,158.24 L129.90,158.20 L130.90,158.15 L131.90,158.11 L132.90,158.06 L133.90,158.01 L134.90,157.95 L135.90,157.90 L136.90,157.84 L137.90,157.78 L138.90,157.72 L139.90,157.66 L140.90,157.59 L141.90,157.52 L142.90,157.45 L143.90,157.38 L144.90,157.30 L145.90,157.22 L146.90,157.14 L147.90,157.06 L148.90,156.97 L149.90,156.88 L150.90,156.79 L151.90,156.69 L152.90,156.60 L153.90,156.49 L154.90,156.39 L155.90,156.28 L156.90,156.17 L157.90,156.06 L158.90,155.94 L159.90,155.82 L160.90,155.70 L161.90,155.57 L162.90,155.44 L163.90,155.31 L164.90,155.17 L165.90,155.03 L166.90,154.88 L167.90,154.73 L168.90,154.58 L169.90,154.43 L170.90,154.27 L171.90,154.10 L172.90,153.93 L173.90,153.76 L174.90,153.59 L175.90,153.41 L176.90,153.22 L177.90,153.03 L178.90,152.84 L179.90,152.64 L180.90,152.44 L181.90,152.24 L182.90,152.03 L183.90,151.81 L184.90,151.59 L185.90,151.37 L186.90,151.14 L187.90,150.91 L188.90,150.67 L189.90,150.43 L190.90,150.18 L191.90,149.93 L192.90,149.67 L193.90,149.40 L194.90,149.14 L195.90,148.86 L196.90,148.59 L197.90,148.30 L198.90,148.01 L199.90,147.72 L200.90,147.42 L201.90,147.12 L202.90,146.81 L203.90,146.49 L204.90,146.17 L205.90,145.85 L206.90,145.52 L207.90,145.19 L208.90,144.85 L209.90,144.50 L210.90,144.15 L211.90,143.80 L212.90,143.44 L213.90,143.08 L214.90,142.71 L215.90,142.34 L216.90,141.96 L217.90,141.58 L218.90,141.19 L219.90,140.80 L220.90,140.40 L221.90,140.00 L222.90,139.60 L223.90,139.19 L224.90,138.77 L225.90,138.36 L226.90,137.93 L227.90,137.51 L228.90,137.07 L229.90,136.64 L230.90,136.20 L231.90,135.75 L232.90,135.31 L233.90,134.85 L234.90,134.40 L235.90,133.94 L236.90,133.47 L237.90,133.00 L238.90,132.53 L239.90,132.05 L240.90,131.57 L241.90,131.09 L242.90,130.60 L243.90,130.11 L244.90,129.61 L245.90,129.11 L246.90,128.61 L247.90,128.10 L248.90,127.59 L249.90,127.08 L250.90,126.56 L251.90,126.04 L252.90,125.51 L253.90,124.98 L254.90,124.45 L256.23,123.74 L257.57,123.02 L258.90,122.29 L259.90,121.74 L260.90,121.19 L261.90,120.63 L262.90,120.07 L263.90,119.51 L264.90,118.95 L265.90,118.38 L266.90,117.81 L267.90,117.24 L268.90,116.66 L269.90,116.09 L270.90,115.51 L271.90,114.93 L272.90,114.35 L273.90,113.77 L274.90,113.19 L275.90,112.61 L276.90,112.02 L277.90,111.44 L278.90,110.85 L279.90,110.27 L280.90,109.69 L281.90,109.10 L282.90,108.52 L283.90,107.94 L284.90,107.35 L285.90,106.77 L286.90,106.19 L287.90,105.61 L288.90,105.04 L289.90,104.46 L290.90,103.89 L291.90,103.31 L292.90,102.74 L293.90,102.18 L294.90,101.61 L295.90,101.05 L296.90,100.49 L297.90,99.94 L298.90,99.38 L299.90,98.83 L300.90,98.29 L301.90,97.75 L302.90,97.21 L303.90,96.67 L304.90,96.15 L305.90,95.62 L306.90,95.10 L307.90,94.58 L308.90,94.07 L309.90,93.57 L310.90,93.07 L311.90,92.58 L312.90,92.09 L313.90,91.61 L314.90,91.13 L315.90,90.66 L316.90,90.20 L317.90,89.74 L318.90,89.29 L319.90,88.84 L320.90,88.41 L321.90,87.98 L322.90,87.56 L323.90,87.14 L324.90,86.74 L325.90,86.34 L326.90,85.95 L327.90,85.57 L328.90,85.20 L329.90,84.84 L330.90,84.48 L331.90,84.13 L332.90,83.80 L333.90,83.47 L334.90,83.15 L335.90,82.85 L336.90,82.55 L337.90,82.26 L338.90,81.99 L339.90,81.72 L340.90,81.47 L341.90,81.23 L342.90,81.00 L343.90,80.78 L344.90,80.57 L345.90,80.38 L346.90,80.20 L347.90,80.03 L348.90,79.88 L349.90,79.74 L350.90,79.61 L351.90,79.50 L352.90,79.41 L353.90,79.32 L354.90,79.26 L355.90,79.21 L356.90,79.17 L357.90,79.15 L358.90,79.15 L359.90,79.16 L360.90,79.19 L361.90,79.24 L362.90,79.30 L363.90,79.38 L364.90,79.48 L365.90,79.60 L366.90,79.73 L367.90,79.89 L368.90,80.06 L369.90,80.25 L370.90,80.46 L371.90,80.69 L372.90,80.95 L373.90,81.22 L374.90,81.51 L375.90,81.82 L376.90,82.16 L377.90,82.51 L378.90,82.89 L379.90,83.29 L380.90,83.71 L381.90,84.15 L382.90,84.62 L383.90,85.10 L384.90,85.62 L385.90,86.15 L386.90,86.71 L387.90,87.29 L388.90,87.90 L389.90,88.54 L390.90,89.19 L391.90,89.88 L392.90,90.60 L393.90,91.33 L394.90,92.07 L395.90,92.84 L396.90,93.66 L397.90,94.51 L398.90,95.38 L399.99,96.43 L401.07,97.67 L402.16,99.06 L403.24,100.56 L404.33,102.12 L405.41,103.72 L406.50,105.30 L407.64,107.21 L408.78,109.56 L409.92,112.22 L411.06,115.08 L412.20,118.00 L413.60,123.48 L415.00,132.10 L415.70,139.05 L416.40,149.00 L417.00,171.40 L417.50,168.78 L418.00,166.52 L418.51,164.41 L419.01,162.40 L419.51,160.49 L420.01,158.68 L420.52,156.96 L421.02,155.35 L421.52,153.84 L422.02,152.44 L422.53,151.16 L423.03,150.00 L423.53,148.96 L424.04,148.06 L424.54,147.28 L425.04,146.64 L425.54,146.14 L426.05,145.79 L426.55,145.57 L427.05,145.50 L427.55,145.57 L428.06,145.77 L428.56,146.11 L429.06,146.57 L429.56,147.17 L430.06,147.90 L430.57,148.75 L431.07,149.72 L431.57,150.81 L432.08,152.01 L432.58,153.32 L433.08,154.74 L433.58,156.25 L434.09,157.86 L434.59,159.56 L435.09,161.36 L435.59,163.24 L436.10,165.22 L436.60,167.34 L437.10,169.80 L437.61,167.70 L438.13,165.72 L438.64,163.80 L439.15,161.96 L439.66,160.22 L440.18,158.58 L440.69,157.06 L441.20,155.67 L441.72,154.43 L442.23,153.34 L442.74,152.41 L443.25,151.66 L443.77,151.10 L444.28,150.72 L444.79,150.52 L445.31,150.52 L445.82,150.69 L446.33,151.03 L446.85,151.53 L447.36,152.19 L447.87,153.00 L448.38,153.96 L448.90,155.05 L449.41,156.28 L449.92,157.62 L450.44,159.06 L450.95,160.60 L451.46,162.22 L451.97,163.90 L452.49,165.65 L453.00,167.50 L453.51,166.12 L454.01,164.68 L454.52,163.26 L455.03,161.88 L455.54,160.57 L456.04,159.34 L456.55,158.23 L457.06,157.24 L457.57,156.39 L458.07,155.69 L458.58,155.16 L459.09,154.80 L459.60,154.62 L460.10,154.62 L460.61,154.78 L461.12,155.10 L461.63,155.57 L462.13,156.18 L462.64,156.93 L463.15,157.81 L463.66,158.79 L464.16,159.87 L464.67,161.04 L465.18,162.25 L465.69,163.51 L466.19,164.78 L466.70,166.00 L467.22,164.93 L467.73,163.73 L468.25,162.49 L468.76,161.27 L469.28,160.11 L469.80,159.03 L470.31,158.06 L470.83,157.21 L471.34,156.51 L471.86,155.97 L472.38,155.61 L472.89,155.42 L473.41,155.42 L473.92,155.60 L474.44,155.95 L474.96,156.47 L475.47,157.14 L475.99,157.96 L476.50,158.89 L477.02,159.93 L477.54,161.05 L478.05,162.22 L478.57,163.41 L479.08,164.57 L479.60,165.60 L480.10,164.81 L480.61,163.84 L481.11,162.82 L481.62,161.79 L482.12,160.80 L482.62,159.88 L483.13,159.05 L483.63,158.34 L484.14,157.76 L484.64,157.34 L485.15,157.09 L485.65,157.00 L486.15,157.08 L486.66,157.32 L487.16,157.71 L487.67,158.24 L488.17,158.91 L488.68,159.68 L489.18,160.54 L489.68,161.46 L490.19,162.41 L490.69,163.37 L491.20,164.27 L491.70,165.00 L492.21,164.58 L492.72,164.01 L493.23,163.39 L493.74,162.73 L494.25,162.08 L494.76,161.44 L495.27,160.84 L495.79,160.29 L496.30,159.80 L496.81,159.38 L497.32,159.04 L497.83,158.80 L498.34,158.65 L498.85,158.60 L499.36,158.64 L499.87,158.77 L500.38,158.97 L500.89,159.26 L501.40,159.61 L501.91,160.02 L502.43,160.49 L502.94,161.00 L503.45,161.54 L503.96,162.09 L504.47,162.64 L504.98,163.17 L505.49,163.65 L506.00,164.00 L506.50,163.75 L507.00,163.39 L507.50,162.97 L508.00,162.53 L508.50,162.08 L509.00,161.63 L509.50,161.21 L510.00,160.81 L510.50,160.46 L511.00,160.16 L511.50,159.92 L512.00,159.74 L512.50,159.64 L513.00,159.60 L513.50,159.63 L514.00,159.72 L514.50,159.87 L515.00,160.07 L515.50,160.33 L516.00,160.62 L516.50,160.95 L517.00,161.31 L517.50,161.68 L518.00,162.06 L518.50,162.44 L519.00,162.79 L519.50,163.09 L520.00,163.30 L520.50,163.16 L521.00,162.95 L521.50,162.69 L522.00,162.41 L522.50,162.11 L523.00,161.81 L523.50,161.52 L524.00,161.24 L524.50,160.99 L525.00,160.76 L525.50,160.56 L526.00,160.41 L526.50,160.29 L527.00,160.22 L527.50,160.20 L528.00,160.22 L528.50,160.28 L529.00,160.37 L529.50,160.51 L530.00,160.67 L530.50,160.86 L531.00,161.07 L531.50,161.31 L532.00,161.55 L532.50,161.80 L533.00,162.05 L533.50,162.29 L534.00,162.50 L534.50,162.69 L535.00,162.80 L535.50,162.71 L536.00,162.56 L536.50,162.38 L537.00,162.18 L537.50,161.96 L538.00,161.74 L538.50,161.52 L539.00,161.30 L539.50,161.11 L540.00,160.93 L540.50,160.78 L541.00,160.66 L541.50,160.57 L542.00,160.52 L542.50,160.50 L543.00,160.52 L543.50,160.56 L544.00,160.63 L544.50,160.73 L545.00,160.86 L545.50,161.00 L546.00,161.16 L546.50,161.34 L547.00,161.52 L547.50,161.70 L548.00,161.88 L548.50,162.05 L549.00,162.21 L549.50,162.33 L550.00,162.40 L550.50,162.35 L551.00,162.26 L551.50,162.14 L552.00,162.00 L552.50,161.86 L553.00,161.70 L553.50,161.55 L554.00,161.40 L554.50,161.25 L555.00,161.12 L555.50,161.00 L556.00,160.89 L556.50,160.81 L557.00,160.75 L557.50,160.71 L558.00,160.70 L558.50,160.71 L559.00,160.74 L559.50,160.79 L560.00,160.86 L560.50,160.94 L561.00,161.04 L561.50,161.15 L562.00,161.27 L562.50,161.40 L563.00,161.53 L563.50,161.65 L564.00,161.77 L564.50,161.89 L565.00,161.98 L565.50,162.06 L566.00,162.10 L566.50,162.07 L567.00,162.00 L567.50,161.92 L568.00,161.82 L568.50,161.71 L569.00,161.59 L569.50,161.47 L570.00,161.35 L570.50,161.24 L571.00,161.13 L571.50,161.04 L572.00,160.95 L572.50,160.89 L573.00,160.84 L573.50,160.81 L574.00,160.80 L574.50,160.81 L575.00,160.83 L575.50,160.87 L576.00,160.93 L576.50,161.00 L577.00,161.08 L577.50,161.17 L578.00,161.27 L578.50,161.37 L579.00,161.47 L579.50,161.57 L580.00,161.66 L580.50,161.75 L581.00,161.82 L581.50,161.87 L582.00,161.90 L582.50,161.88 L583.00,161.83 L583.50,161.77 L584.00,161.70 L584.50,161.61 L585.00,161.52 L585.50,161.42 L586.00,161.33 L586.50,161.23 L587.00,161.14 L587.50,161.06 L588.00,160.98 L588.50,160.92 L589.00,160.87 L589.50,160.83 L590.00,160.81 L590.50,160.80 L591.00,160.81 L591.50,160.83 L592.00,160.86 L592.50,160.90 L593.00,160.95 L593.50,161.01 L594.00,161.08 L594.50,161.15 L595.00,161.23 L595.50,161.31 L596.00,161.39 L596.50,161.46 L597.00,161.53 L597.50,161.59 L598.00,161.65 L598.50,161.68 L599.00,161.70 L599.50,161.69 L600.00,161.65 L600.50,161.60 L601.00,161.54 L601.50,161.47 L602.00,161.40 L602.50,161.32 L603.00,161.23 L603.50,161.15 L604.00,161.07 L604.50,160.99 L605.00,160.92 L605.50,160.86 L606.00,160.80 L606.50,160.76 L607.00,160.73 L607.50,160.71 L608.00,160.70 L608.50,160.71 L609.00,160.72 L609.50,160.75 L610.00,160.78 L610.50,160.82 L611.00,160.88 L611.50,160.93 L612.00,160.99 L612.50,161.06 L613.00,161.13 L613.50,161.19 L614.00,161.26 L614.50,161.32 L615.00,161.37 L615.50,161.42 L616.00,161.46 L616.50,161.49 L617.00,161.50 L617.50,161.49 L618.00,161.46 L618.50,161.42 L619.00,161.37 L619.50,161.31 L620.00,161.24 L620.50,161.16 L621.00,161.08 L621.50,161.00 L622.00,160.92 L622.50,160.85 L623.00,160.77 L623.50,160.71 L624.00,160.65 L624.50,160.60 L625.00,160.55 L625.50,160.52 L626.00,160.51 L626.50,160.50 L627.00,160.50 L627.50,160.52 L628.00,160.54 L628.50,160.57 L629.00,160.60 L629.50,160.64 L630.00,160.69 L630.50,160.74 L631.00,160.80 L631.50,160.85 L632.00,160.91 L632.50,160.96 L633.00,161.02 L633.50,161.06 L634.00,161.11 L634.50,161.14 L635.00,161.17 L635.50,161.19 L636.00,161.20 L636.50,161.19 L637.00,161.17 L637.50,161.13 L638.00,161.08 L638.50,161.02 L639.00,160.95 L639.50,160.87 L640.00,160.79 L640.50,160.71 L641.00,160.62 L641.50,160.54 L642.00,160.46 L642.50,160.38 L643.00,160.31 L643.50,160.25 L644.00,160.20 L644.50,160.16 L645.00,160.13 L645.50,160.11 L646.00,160.10 L646.50,160.10 L647.00,160.12 L647.50,160.14 L648.00,160.16 L648.50,160.20 L649.00,160.24 L649.50,160.28 L650.00,160.33 L650.50,160.38 L651.00,160.43 L651.50,160.49 L652.00,160.54 L652.50,160.59 L653.00,160.64 L653.50,160.68 L654.00,160.72 L654.50,160.75 L655.00,160.78 L655.50,160.79 L656.00,160.80 L656.50,160.79 L657.00,160.77 L657.50,160.73 L658.00,160.69 L658.50,160.63 L659.00,160.56 L659.50,160.49 L660.00,160.40 L660.50,160.32 L661.00,160.23 L661.50,160.14 L662.00,160.05 L662.50,159.97 L663.00,159.89 L663.50,159.82 L664.00,159.76 L664.50,159.70 L665.00,159.66 L665.50,159.63 L666.00,159.61 L666.50,159.60 L667.00,159.60 L667.50,159.61 L668.00,159.63 L668.50,159.65 L669.00,159.68 L669.50,159.71 L670.00,159.75 L670.50,159.78 L671.00,159.83 L671.50,159.87 L672.00,159.91 L672.50,159.96 L673.00,160.00 L673.50,160.04 L674.00,160.08 L674.50,160.11 L675.00,160.14 L675.50,160.17 L676.00,160.18 L676.50,160.20 L677.00,160.20 L677.50,160.19 L678.00,160.18 L678.50,160.15 L679.00,160.11 L679.50,160.06 L680.00,160.00 L680.50,159.94 L681.00,159.86 L681.50,159.79 L682.00,159.70 L682.50,159.62 L683.00,159.54 L683.50,159.45 L684.00,159.38 L684.50,159.30 L685.00,159.23 L685.50,159.17 L686.00,159.11 L686.50,159.07 L687.00,159.04 L687.50,159.01 L688.00,159.00 L688.50,159.00 L689.00,159.00 L689.50,159.01 L690.00,159.02 L690.50,159.04 L691.00,159.06 L691.50,159.08 L692.00,159.10 L692.50,159.13 L693.00,159.15 L693.50,159.18 L694.00,159.21 L694.50,159.23 L695.00,159.26 L695.50,159.29 L696.00,159.31 L696.50,159.33 L697.00,159.35 L697.50,159.37 L698.00,159.38 L698.50,159.39 L699.00,159.40 L699.50,159.40" fill="none" stroke="#1a4aa8" stroke-width="2.7" stroke-linejoin="round" stroke-dasharray="13.5 2.9 7 3" clip-path="url(#clipa)"/>
<path d="M884.30,161.89 L885.30,161.90 L886.30,161.90 L887.30,161.91 L888.30,161.91 L889.30,161.92 L890.30,161.92 L891.30,161.92 L892.30,161.93 L893.30,161.93 L894.30,161.93 L895.30,161.94 L896.30,161.94 L897.30,161.94 L898.30,161.94 L899.30,161.94 L900.30,161.94 L901.30,161.94 L902.30,161.94 L903.30,161.94 L904.30,161.94 L905.30,161.94 L906.30,161.93 L907.30,161.93 L908.30,161.93 L909.30,161.92 L910.30,161.91 L911.30,161.91 L912.30,161.90 L913.30,161.89 L914.30,161.88 L915.30,161.86 L916.30,161.85 L917.30,161.84 L918.30,161.82 L919.30,161.81 L920.30,161.79 L921.30,161.77 L922.30,161.75 L923.30,161.73 L924.30,161.70 L925.30,161.68 L926.30,161.65 L927.30,161.63 L928.30,161.60 L929.30,161.57 L930.30,161.53 L931.30,161.50 L932.30,161.46 L933.30,161.43 L934.30,161.39 L935.30,161.34 L936.30,161.30 L937.30,161.26 L938.30,161.21 L939.30,161.16 L940.30,161.11 L941.30,161.06 L942.30,161.00 L943.30,160.94 L944.30,160.88 L945.30,160.82 L946.30,160.76 L947.30,160.69 L948.30,160.62 L949.30,160.55 L950.30,160.48 L951.30,160.40 L952.30,160.32 L953.30,160.24 L954.30,160.16 L955.30,160.07 L956.30,159.98 L957.30,159.89 L958.30,159.80 L959.30,159.70 L960.30,159.60 L961.30,159.50 L962.30,159.40 L963.30,159.29 L964.30,159.18 L965.30,159.06 L966.30,158.94 L967.30,158.82 L968.30,158.70 L969.30,158.58 L970.30,158.45 L971.30,158.31 L972.30,158.18 L973.30,158.04 L974.30,157.90 L975.30,157.75 L976.30,157.60 L977.30,157.45 L978.30,157.29 L979.30,157.13 L980.30,156.97 L981.30,156.80 L982.30,156.63 L983.30,156.46 L984.30,156.28 L985.30,156.10 L986.30,155.92 L987.30,155.74 L988.30,155.55 L989.30,155.35 L990.30,155.16 L991.30,154.96 L992.30,154.76 L993.30,154.55 L994.30,154.34 L995.30,154.13 L996.30,153.92 L997.30,153.70 L998.30,153.48 L999.30,153.25 L1000.30,153.03 L1001.30,152.80 L1002.30,152.56 L1003.30,152.33 L1004.30,152.09 L1005.30,151.85 L1006.30,151.60 L1007.30,151.35 L1008.30,151.10 L1009.30,150.85 L1010.30,150.59 L1011.30,150.33 L1012.30,150.07 L1013.30,149.81 L1014.30,149.54 L1015.30,149.27 L1016.30,149.00 L1017.30,148.72 L1018.30,148.44 L1019.30,148.16 L1020.30,147.88 L1021.30,147.59 L1022.30,147.31 L1023.30,147.02 L1024.30,146.72 L1025.30,146.43 L1026.30,146.13 L1027.30,145.83 L1028.30,145.52 L1029.30,145.22 L1030.30,144.91 L1031.30,144.60 L1032.30,144.28 L1033.30,143.97 L1034.30,143.65 L1035.30,143.33 L1036.30,143.00 L1037.30,142.68 L1038.30,142.35 L1039.30,142.02 L1040.30,141.69 L1041.30,141.36 L1042.30,141.02 L1043.30,140.68 L1044.30,140.34 L1045.30,140.00 L1046.30,139.65 L1047.30,139.30 L1048.30,138.96 L1049.30,138.60 L1050.30,138.25 L1051.30,137.90 L1052.30,137.54 L1053.30,137.18 L1054.30,136.82 L1055.30,136.45 L1056.30,136.09 L1057.30,135.72 L1058.30,135.35 L1059.30,134.98 L1060.30,134.61 L1061.30,134.23 L1062.30,133.86 L1063.30,133.48 L1064.30,133.10 L1065.30,132.72 L1066.30,132.34 L1067.30,131.96 L1068.30,131.58 L1069.30,131.19 L1070.30,130.81 L1071.30,130.43 L1072.30,130.04 L1073.30,129.66 L1074.30,129.28 L1075.30,128.89 L1076.30,128.51 L1077.30,128.13 L1078.30,127.75 L1079.30,127.37 L1080.30,126.99 L1081.30,126.61 L1082.30,126.24 L1083.30,125.86 L1084.30,125.49 L1085.30,125.12 L1086.30,124.75 L1087.30,124.38 L1088.30,124.02 L1089.30,123.66 L1090.30,123.30 L1091.30,122.94 L1092.30,122.59 L1093.30,122.23 L1094.30,121.89 L1095.30,121.54 L1096.30,121.20 L1097.30,120.86 L1098.30,120.53 L1099.30,120.20 L1100.30,119.87 L1101.30,119.55 L1102.30,119.23 L1103.30,118.92 L1104.30,118.61 L1105.30,118.31 L1106.30,118.01 L1107.30,117.72 L1108.30,117.43 L1109.30,117.14 L1110.30,116.86 L1111.30,116.59 L1112.30,116.33 L1113.30,116.07 L1114.30,115.81 L1115.30,115.56 L1116.30,115.32 L1117.30,115.09 L1118.30,114.86 L1119.30,114.64 L1120.30,114.42 L1121.30,114.21 L1122.30,114.01 L1123.30,113.82 L1124.30,113.63 L1125.30,113.45 L1126.30,113.28 L1127.30,113.12 L1128.30,112.97 L1129.30,112.82 L1130.30,112.68 L1131.30,112.56 L1132.30,112.43 L1133.30,112.32 L1134.30,112.22 L1135.30,112.13 L1136.30,112.04 L1137.30,111.97 L1138.30,111.90 L1139.30,111.85 L1140.30,111.80 L1141.30,111.77 L1142.30,111.74 L1143.30,111.73 L1144.30,111.72 L1145.30,111.73 L1146.30,111.75 L1147.30,111.77 L1148.30,111.81 L1149.30,111.86 L1150.30,111.92 L1151.30,112.00 L1152.30,112.08 L1153.30,112.18 L1154.30,112.28 L1155.30,112.40 L1156.30,112.54 L1157.30,112.68 L1158.30,112.84 L1159.30,113.01 L1160.30,113.19 L1161.30,113.39 L1162.30,113.59 L1163.30,113.82 L1164.30,114.05 L1165.30,114.30 L1166.30,114.56 L1167.30,114.84 L1168.30,115.13 L1169.30,115.43 L1170.30,115.75 L1171.30,116.08 L1172.30,116.43 L1173.30,116.80 L1174.30,117.18 L1175.30,117.57 L1176.30,117.97 L1177.53,118.47 L1178.77,119.01 L1180.00,119.61 L1181.07,120.22 L1182.13,120.94 L1183.20,121.77 L1184.27,122.69 L1185.33,123.69 L1186.40,124.77 L1187.47,125.90 L1188.53,127.08 L1189.60,128.31 L1190.67,129.56 L1191.73,130.82 L1192.80,132.10 L1193.88,133.40 L1194.95,134.74 L1196.03,136.12 L1197.10,137.53 L1198.17,139.00 L1199.25,140.51 L1200.33,142.08 L1201.40,143.70 L1202.20,74.30 L1202.40,176.00 L1204.00,163.00 L1207.00,160.90 L1217.70,157.10 L1229.30,156.60 L1229.60,155.00 L1230.00,171.10 L1231.00,160.00 L1240.40,162.00 L1251.70,157.60 L1252.80,166.30 L1255.00,159.00 L1262.00,159.30 L1271.60,165.20 L1274.00,161.00 L1282.40,160.30 L1288.90,163.60 L1290.00,162.77 L1291.00,163.22 L1292.00,163.50 L1293.00,163.58 L1294.00,163.44 L1295.00,163.12 L1296.00,162.64 L1297.00,162.08 L1298.00,161.51 L1299.00,161.02 L1300.00,160.66 L1301.00,160.48 L1302.00,160.50 L1303.00,160.73 L1304.00,161.13 L1305.00,161.63 L1306.00,162.19 L1307.00,162.71 L1308.00,163.13 L1309.00,163.39 L1310.00,163.47 L1311.00,163.34 L1312.00,163.03 L1313.00,162.59 L1314.00,162.07 L1315.00,161.54 L1316.00,161.07 L1317.00,160.74 L1318.00,160.57 L1319.00,160.60 L1320.00,160.81 L1321.00,161.18 L1322.00,161.65 L1323.00,162.16 L1324.00,162.65 L1325.00,163.04 L1326.00,163.28 L1327.00,163.35 L1328.00,163.23 L1329.00,162.95 L1330.00,162.54 L1331.00,162.05 L1332.00,161.56 L1333.00,161.13 L1334.00,160.82 L1335.00,160.67 L1336.00,160.69 L1337.00,160.89 L1338.00,161.23 L1339.00,161.66 L1340.00,162.14 L1341.00,162.59 L1342.00,162.95 L1343.00,163.18 L1344.00,163.24 L1345.00,163.13 L1346.00,162.86 L1347.00,162.48 L1348.00,162.04 L1349.00,161.58 L1350.00,161.19 L1351.00,160.90 L1352.00,160.76 L1353.00,160.78 L1354.00,160.96 L1355.00,161.28 L1356.00,161.68 L1357.00,162.12 L1358.00,162.53 L1359.00,162.86 L1360.00,163.07 L1361.00,163.12 L1362.00,163.02 L1363.00,162.78 L1364.00,162.43 L1365.00,162.02 L1366.00,161.61 L1367.00,161.24 L1368.00,160.98 L1369.00,160.85 L1370.00,160.87 L1371.00,161.04 L1372.00,161.33 L1373.00,161.70 L1374.00,162.09 L1375.00,162.47 L1376.00,162.77 L1377.00,162.96 L1378.00,163.01 L1379.00,162.92 L1380.00,162.70 L1381.00,162.38 L1382.00,162.01 L1383.00,161.63 L1384.00,161.30 L1385.00,161.06 L1386.00,160.95 L1387.00,160.97 L1388.00,161.12 L1389.00,161.38 L1390.00,161.71 L1391.00,162.07 L1392.00,162.41 L1393.00,162.68 L1394.00,162.85 L1395.00,162.90 L1396.00,162.81 L1397.00,162.61 L1398.00,162.33 L1399.00,161.99 L1400.00,161.65 L1401.00,161.36 L1402.00,161.14 L1403.00,161.04 L1404.00,161.06 L1405.00,161.19 L1406.00,161.43 L1407.00,161.73 L1408.00,162.05 L1409.00,162.35 L1410.00,162.59 L1411.00,162.74 L1412.00,162.78 L1413.00,162.71 L1414.00,162.53 L1415.00,162.27 L1416.00,161.97 L1417.00,161.67 L1418.00,161.41 L1419.00,161.22 L1420.00,161.13 L1421.00,161.15 L1422.00,161.27 L1423.00,161.48 L1424.00,161.74 L1425.00,162.03 L1426.00,162.29 L1427.00,162.50 L1428.00,162.64 L1429.00,162.67 L1430.00,162.60 L1431.00,162.45 L1432.00,162.22 L1433.00,161.96 L1434.00,161.70 L1435.00,161.47 L1436.00,161.31 L1437.00,161.23 L1438.00,161.24 L1439.00,161.35 L1440.00,161.53 L1441.00,161.76 L1442.00,162.00 L1443.00,162.23 L1444.00,162.42 L1445.00,162.53 L1446.00,162.56 L1447.00,162.50 L1448.00,162.36 L1449.00,162.17 L1450.00,161.94 L1451.00,161.72 L1452.00,161.53 L1453.00,161.39 L1454.00,161.32 L1455.00,161.33 L1456.00,161.42 L1457.00,161.58 L1458.00,161.77 L1459.00,161.98 L1460.00,162.17 L1461.00,162.33 L1462.00,162.42 L1463.00,162.44 L1464.00,162.39 L1465.00,162.28 L1466.00,162.12 L1467.00,161.93 L1468.00,161.74 L1469.00,161.58" fill="none" stroke="#201414" stroke-width="2.7" stroke-linejoin="round" clip-path="url(#clipb)"/>
<path d="M884.30,161.89 L885.30,161.96 L886.30,162.02 L887.30,162.09 L888.30,162.15 L889.30,162.21 L890.30,162.27 L891.30,162.33 L892.30,162.38 L893.30,162.43 L894.30,162.48 L895.30,162.52 L896.30,162.57 L897.30,162.60 L898.30,162.64 L899.30,162.68 L900.30,162.71 L901.30,162.74 L902.30,162.76 L903.30,162.78 L904.30,162.80 L905.30,162.82 L906.30,162.84 L907.30,162.85 L908.30,162.86 L909.30,162.86 L910.30,162.87 L911.30,162.87 L912.30,162.87 L913.30,162.86 L914.30,162.85 L915.30,162.84 L916.30,162.83 L917.30,162.81 L918.30,162.79 L919.30,162.77 L920.30,162.75 L921.30,162.72 L922.30,162.69 L923.30,162.65 L924.30,162.62 L925.30,162.58 L926.30,162.53 L927.30,162.49 L928.30,162.44 L929.30,162.39 L930.30,162.33 L931.30,162.27 L932.30,162.21 L933.30,162.15 L934.30,162.08 L935.30,162.01 L936.30,161.94 L937.30,161.86 L938.30,161.78 L939.30,161.70 L940.30,161.61 L941.30,161.52 L942.30,161.43 L943.30,161.33 L944.30,161.23 L945.30,161.13 L946.30,161.03 L947.30,160.92 L948.30,160.81 L949.30,160.69 L950.30,160.57 L951.30,160.45 L952.30,160.33 L953.30,160.20 L954.30,160.07 L955.30,159.94 L956.30,159.80 L957.30,159.66 L958.30,159.51 L959.30,159.36 L960.30,159.21 L961.30,159.06 L962.30,158.90 L963.30,158.74 L964.30,158.58 L965.30,158.41 L966.30,158.24 L967.30,158.06 L968.30,157.88 L969.30,157.70 L970.30,157.52 L971.30,157.33 L972.30,157.13 L973.30,156.94 L974.30,156.74 L975.30,156.54 L976.30,156.33 L977.30,156.12 L978.30,155.91 L979.30,155.69 L980.30,155.47 L981.30,155.25 L982.30,155.02 L983.30,154.79 L984.30,154.55 L985.30,154.31 L986.30,154.07 L987.30,153.83 L988.30,153.58 L989.30,153.32 L990.30,153.07 L991.30,152.81 L992.30,152.54 L993.30,152.28 L994.30,152.00 L995.30,151.73 L996.30,151.45 L997.30,151.17 L998.30,150.88 L999.30,150.59 L1000.30,150.30 L1001.30,150.00 L1002.30,149.70 L1003.30,149.39 L1004.30,149.08 L1005.30,148.77 L1006.30,148.45 L1007.30,148.13 L1008.30,147.81 L1009.30,147.48 L1010.30,147.15 L1011.30,146.81 L1012.30,146.47 L1013.30,146.13 L1014.30,145.78 L1015.30,145.43 L1016.30,145.07 L1017.30,144.71 L1018.30,144.35 L1019.30,143.98 L1020.30,143.61 L1021.30,143.23 L1022.30,142.85 L1023.30,142.47 L1024.30,142.08 L1025.30,141.69 L1026.30,141.29 L1027.30,140.89 L1028.30,140.49 L1029.30,140.08 L1030.30,139.67 L1031.30,139.25 L1032.30,138.83 L1033.30,138.41 L1034.30,137.98 L1035.30,137.54 L1036.30,137.11 L1037.30,136.67 L1038.30,136.22 L1039.30,135.77 L1040.30,135.32 L1041.30,134.86 L1042.30,134.40 L1043.30,133.93 L1044.30,133.46 L1045.30,132.98 L1046.30,132.51 L1047.30,132.02 L1048.30,131.53 L1049.30,131.04 L1050.30,130.55 L1051.30,130.04 L1052.30,129.54 L1053.30,129.03 L1054.30,128.52 L1055.30,128.00 L1056.30,127.48 L1057.30,126.95 L1058.30,126.42 L1059.30,125.88 L1060.30,125.34 L1061.30,124.80 L1062.30,124.25 L1063.30,123.70 L1064.30,123.14 L1065.30,122.58 L1066.30,122.02 L1067.30,121.45 L1068.30,120.89 L1069.30,120.32 L1070.30,119.74 L1071.30,119.17 L1072.30,118.60 L1073.30,118.02 L1074.30,117.44 L1075.30,116.87 L1076.30,116.29 L1077.30,115.71 L1078.30,115.14 L1079.30,114.56 L1080.30,113.98 L1081.30,113.41 L1082.30,112.84 L1083.30,112.26 L1084.30,111.69 L1085.30,111.13 L1086.30,110.56 L1087.30,110.00 L1088.30,109.44 L1089.30,108.88 L1090.30,108.33 L1091.30,107.78 L1092.30,107.23 L1093.30,106.69 L1094.30,106.15 L1095.30,105.62 L1096.30,105.09 L1097.30,104.57 L1098.30,104.06 L1099.30,103.55 L1100.30,103.04 L1101.30,102.55 L1102.30,102.05 L1103.30,101.57 L1104.30,101.09 L1105.30,100.62 L1106.30,100.16 L1107.30,99.71 L1108.30,99.26 L1109.30,98.82 L1110.30,98.39 L1111.30,97.97 L1112.30,97.55 L1113.30,97.15 L1114.30,96.75 L1115.30,96.37 L1116.30,95.99 L1117.30,95.62 L1118.30,95.26 L1119.30,94.92 L1120.30,94.58 L1121.30,94.25 L1122.30,93.93 L1123.30,93.63 L1124.30,93.33 L1125.30,93.05 L1126.30,92.78 L1127.30,92.51 L1128.30,92.26 L1129.30,92.03 L1130.30,91.80 L1131.30,91.59 L1132.30,91.39 L1133.30,91.20 L1134.30,91.03 L1135.30,90.86 L1136.30,90.72 L1137.30,90.58 L1138.30,90.46 L1139.30,90.35 L1140.30,90.26 L1141.30,90.18 L1142.30,90.12 L1143.30,90.07 L1144.30,90.04 L1145.30,90.02 L1146.30,90.02 L1147.30,90.04 L1148.30,90.07 L1149.30,90.13 L1150.30,90.20 L1151.30,90.30 L1152.30,90.41 L1153.30,90.55 L1154.30,90.71 L1155.30,90.89 L1156.30,91.09 L1157.30,91.32 L1158.30,91.57 L1159.30,91.84 L1160.30,92.14 L1161.30,92.47 L1162.30,92.82 L1163.30,93.20 L1164.30,93.61 L1165.30,94.04 L1166.30,94.51 L1167.30,95.00 L1168.30,95.53 L1169.30,96.08 L1170.30,96.67 L1171.30,97.29 L1172.30,97.93 L1173.30,98.63 L1174.30,99.36 L1175.30,100.11 L1176.30,100.87 L1177.53,101.82 L1178.77,102.86 L1180.00,104.08 L1181.03,105.51 L1182.05,107.32 L1183.07,109.23 L1184.10,110.90 L1185.16,112.39 L1186.21,113.86 L1187.27,115.31 L1188.33,116.71 L1189.39,118.06 L1190.44,119.36 L1191.50,120.60 L1191.80,58.90 L1192.20,163.00 L1195.00,158.00 L1199.40,157.60 L1207.00,160.00 L1212.00,161.00 L1215.60,166.30 L1219.00,158.00 L1226.00,157.00 L1235.00,160.50 L1244.00,159.00 L1246.00,162.80 L1247.00,162.72 L1248.00,162.41 L1249.00,161.92 L1250.00,161.30 L1251.00,160.66 L1252.00,160.06 L1253.00,159.60 L1254.00,159.34 L1255.00,159.30 L1256.00,159.50 L1257.00,159.90 L1258.00,160.46 L1259.00,161.09 L1260.00,161.71 L1261.00,162.24 L1262.00,162.61 L1263.00,162.77 L1264.00,162.69 L1265.00,162.40 L1266.00,161.94 L1267.00,161.36 L1268.00,160.75 L1269.00,160.19 L1270.00,159.75 L1271.00,159.50 L1272.00,159.47 L1273.00,159.65 L1274.00,160.04 L1275.00,160.56 L1276.00,161.16 L1277.00,161.74 L1278.00,162.24 L1279.00,162.59 L1280.00,162.74 L1281.00,162.67 L1282.00,162.39 L1283.00,161.95 L1284.00,161.41 L1285.00,160.83 L1286.00,160.31 L1287.00,159.90 L1288.00,159.66 L1289.00,159.63 L1290.00,159.81 L1291.00,160.17 L1292.00,160.66 L1293.00,161.22 L1294.00,161.77 L1295.00,162.24 L1296.00,162.57 L1297.00,162.70 L1298.00,162.64 L1299.00,162.38 L1300.00,161.97 L1301.00,161.46 L1302.00,160.92 L1303.00,160.43 L1304.00,160.05 L1305.00,159.83 L1306.00,159.80 L1307.00,159.97 L1308.00,160.30 L1309.00,160.76 L1310.00,161.29 L1311.00,161.80 L1312.00,162.24 L1313.00,162.55 L1314.00,162.67 L1315.00,162.61 L1316.00,162.37 L1317.00,161.99 L1318.00,161.51 L1319.00,161.01 L1320.00,160.55 L1321.00,160.20 L1322.00,159.99 L1323.00,159.97 L1324.00,160.12 L1325.00,160.44 L1326.00,160.87 L1327.00,161.36 L1328.00,161.83 L1329.00,162.24 L1330.00,162.52 L1331.00,162.64 L1332.00,162.59 L1333.00,162.37 L1334.00,162.01 L1335.00,161.57 L1336.00,161.10 L1337.00,160.67 L1338.00,160.35 L1339.00,160.16 L1340.00,160.13 L1341.00,160.28 L1342.00,160.57 L1343.00,160.97 L1344.00,161.42 L1345.00,161.87 L1346.00,162.24 L1347.00,162.50 L1348.00,162.61 L1349.00,162.56 L1350.00,162.36 L1351.00,162.03 L1352.00,161.62 L1353.00,161.19 L1354.00,160.80 L1355.00,160.49 L1356.00,160.32 L1357.00,160.30 L1358.00,160.43 L1359.00,160.70 L1360.00,161.07 L1361.00,161.49 L1362.00,161.90 L1363.00,162.24 L1364.00,162.48 L1365.00,162.58 L1366.00,162.54 L1367.00,162.35 L1368.00,162.05 L1369.00,161.67 L1370.00,161.28 L1371.00,160.92 L1372.00,160.64 L1373.00,160.49 L1374.00,160.47 L1375.00,160.59 L1376.00,160.84 L1377.00,161.17 L1378.00,161.55 L1379.00,161.93 L1380.00,162.24 L1381.00,162.46 L1382.00,162.55 L1383.00,162.51 L1384.00,162.34 L1385.00,162.06 L1386.00,161.72 L1387.00,161.37 L1388.00,161.04 L1389.00,160.79 L1390.00,160.65 L1391.00,160.63 L1392.00,160.75 L1393.00,160.97 L1394.00,161.28 L1395.00,161.62 L1396.00,161.96 L1397.00,162.24 L1398.00,162.44 L1399.00,162.52 L1400.00,162.48 L1401.00,162.33 L1402.00,162.08 L1403.00,161.78 L1404.00,161.46 L1405.00,161.16 L1406.00,160.94 L1407.00,160.81 L1408.00,160.80 L1409.00,160.90 L1410.00,161.10 L1411.00,161.38 L1412.00,161.69 L1413.00,161.99 L1414.00,162.24 L1415.00,162.42 L1416.00,162.49 L1417.00,162.46 L1418.00,162.32 L1419.00,162.10 L1420.00,161.83 L1421.00,161.54 L1422.00,161.29 L1423.00,161.09 L1424.00,160.98 L1425.00,160.97 L1426.00,161.06 L1427.00,161.24 L1428.00,161.48 L1429.00,161.75 L1430.00,162.02 L1431.00,162.24 L1432.00,162.40 L1433.00,162.46 L1434.00,162.43 L1435.00,162.31 L1436.00,162.12 L1437.00,161.88 L1438.00,161.63 L1439.00,161.41 L1440.00,161.24 L1441.00,161.14 L1442.00,161.13 L1443.00,161.21 L1444.00,161.37 L1445.00,161.58 L1446.00,161.82 L1447.00,162.05 L1448.00,162.24 L1449.00,162.38 L1450.00,162.43 L1451.00,162.41 L1452.00,162.30 L1453.00,162.14 L1454.00,161.93 L1455.00,161.72 L1456.00,161.53 L1457.00,161.39 L1458.00,161.31 L1459.00,161.30 L1460.00,161.37 L1461.00,161.51 L1462.00,161.68 L1463.00,161.89 L1464.00,162.08 L1465.00,162.24 L1466.00,162.36 L1467.00,162.40 L1468.00,162.38 L1469.00,162.29" fill="none" stroke="#e3141c" stroke-width="2.7" stroke-linejoin="round" stroke-dasharray="9.4 8.8" stroke-dashoffset="9.40" clip-path="url(#clipb)"/>
<path d="M884.30,161.90 L885.30,161.88 L886.30,161.86 L887.30,161.84 L888.30,161.82 L889.30,161.81 L890.30,161.79 L891.30,161.78 L892.30,161.77 L893.30,161.76 L894.30,161.75 L895.30,161.74 L896.30,161.74 L897.30,161.73 L898.30,161.73 L899.30,161.72 L900.30,161.72 L901.30,161.72 L902.30,161.72 L903.30,161.71 L904.30,161.71 L905.30,161.71 L906.30,161.71 L907.30,161.71 L908.30,161.71 L909.30,161.71 L910.30,161.71 L911.30,161.71 L912.30,161.70 L913.30,161.70 L914.30,161.70 L915.30,161.70 L916.30,161.69 L917.30,161.69 L918.30,161.68 L919.30,161.67 L920.30,161.67 L921.30,161.66 L922.30,161.65 L923.30,161.63 L924.30,161.62 L925.30,161.61 L926.30,161.59 L927.30,161.57 L928.30,161.55 L929.30,161.53 L930.30,161.51 L931.30,161.48 L932.30,161.46 L933.30,161.43 L934.30,161.39 L935.30,161.36 L936.30,161.32 L937.30,161.28 L938.30,161.24 L939.30,161.20 L940.30,161.15 L941.30,161.10 L942.30,161.04 L943.30,160.99 L944.30,160.93 L945.30,160.87 L946.30,160.80 L947.30,160.73 L948.30,160.66 L949.30,160.58 L950.30,160.50 L951.30,160.41 L952.30,160.33 L953.30,160.23 L954.30,160.14 L955.30,160.04 L956.30,159.93 L957.30,159.83 L958.30,159.71 L959.30,159.59 L960.30,159.47 L961.30,159.35 L962.30,159.21 L963.30,159.08 L964.30,158.94 L965.30,158.79 L966.30,158.64 L967.30,158.48 L968.30,158.32 L969.30,158.16 L970.30,157.98 L971.30,157.80 L972.30,157.62 L973.30,157.43 L974.30,157.24 L975.30,157.04 L976.30,156.83 L977.30,156.62 L978.30,156.40 L979.30,156.17 L980.30,155.94 L981.30,155.71 L982.30,155.46 L983.30,155.21 L984.30,154.95 L985.30,154.69 L986.30,154.42 L987.30,154.14 L988.30,153.86 L989.30,153.56 L990.30,153.27 L991.30,152.96 L992.30,152.65 L993.30,152.33 L994.30,152.00 L995.30,151.66 L996.30,151.32 L997.30,150.97 L998.30,150.61 L999.30,150.24 L1000.30,149.86 L1001.30,149.48 L1002.30,149.09 L1003.30,148.69 L1004.30,148.28 L1005.30,147.87 L1006.30,147.44 L1007.30,147.01 L1008.30,146.57 L1009.30,146.12 L1010.30,145.66 L1011.30,145.20 L1012.30,144.72 L1013.30,144.24 L1014.30,143.75 L1015.30,143.26 L1016.30,142.76 L1017.30,142.25 L1018.30,141.73 L1019.30,141.21 L1020.30,140.67 L1021.30,140.14 L1022.30,139.59 L1023.30,139.04 L1024.30,138.48 L1025.30,137.92 L1026.30,137.35 L1027.30,136.77 L1028.30,136.19 L1029.30,135.60 L1030.30,135.00 L1031.30,134.40 L1032.30,133.79 L1033.30,133.18 L1034.30,132.56 L1035.30,131.94 L1036.30,131.31 L1037.30,130.67 L1038.30,130.03 L1039.30,129.39 L1040.30,128.74 L1041.30,128.08 L1042.30,127.42 L1043.30,126.75 L1044.30,126.08 L1045.30,125.41 L1046.30,124.73 L1047.30,124.05 L1048.30,123.36 L1049.30,122.67 L1050.30,121.97 L1051.30,121.27 L1052.30,120.57 L1053.30,119.86 L1054.30,119.15 L1055.30,118.43 L1056.30,117.71 L1057.30,116.99 L1058.30,116.26 L1059.30,115.54 L1060.30,114.80 L1061.30,114.07 L1062.30,113.33 L1063.30,112.59 L1064.30,111.85 L1065.30,111.10 L1066.30,110.35 L1067.30,109.61 L1068.30,108.86 L1069.30,108.11 L1070.30,107.36 L1071.30,106.61 L1072.30,105.87 L1073.30,105.12 L1074.30,104.37 L1075.30,103.63 L1076.30,102.88 L1077.30,102.14 L1078.30,101.40 L1079.30,100.67 L1080.30,99.93 L1081.30,99.20 L1082.30,98.47 L1083.30,97.75 L1084.30,97.03 L1085.30,96.32 L1086.30,95.61 L1087.30,94.90 L1088.30,94.20 L1089.30,93.51 L1090.30,92.82 L1091.30,92.14 L1092.30,91.46 L1093.30,90.79 L1094.30,90.13 L1095.30,89.48 L1096.30,88.83 L1097.30,88.20 L1098.30,87.57 L1099.30,86.95 L1100.30,86.34 L1101.30,85.74 L1102.30,85.14 L1103.30,84.56 L1104.30,83.99 L1105.30,83.43 L1106.30,82.88 L1107.30,82.34 L1108.30,81.82 L1109.30,81.30 L1110.30,80.80 L1111.30,80.31 L1112.30,79.83 L1113.30,79.37 L1114.30,78.92 L1115.30,78.48 L1116.30,78.06 L1117.30,77.65 L1118.30,77.25 L1119.30,76.88 L1120.30,76.51 L1121.30,76.16 L1122.30,75.83 L1123.30,75.52 L1124.30,75.22 L1125.30,74.94 L1126.30,74.67 L1127.30,74.43 L1128.30,74.20 L1129.30,73.98 L1130.30,73.79 L1131.30,73.62 L1132.30,73.46 L1133.30,73.33 L1134.30,73.21 L1135.30,73.12 L1136.30,73.04 L1137.30,72.98 L1138.30,72.95 L1139.30,72.94 L1140.30,72.95 L1141.30,72.98 L1142.30,73.03 L1143.30,73.11 L1144.30,73.20 L1145.30,73.32 L1146.30,73.47 L1147.30,73.64 L1148.30,73.83 L1149.30,74.05 L1150.30,74.29 L1151.30,74.56 L1152.30,74.85 L1153.30,75.17 L1154.30,75.51 L1155.30,75.88 L1156.30,76.28 L1157.30,76.70 L1158.30,77.15 L1159.30,77.63 L1160.30,78.13 L1161.30,78.66 L1162.30,79.23 L1163.30,79.82 L1164.30,80.44 L1165.30,81.09 L1166.30,81.79 L1167.30,82.50 L1168.30,83.21 L1169.30,83.92 L1170.30,84.67 L1171.30,85.50 L1172.30,86.48 L1173.40,87.76 L1174.50,89.23 L1175.60,90.84 L1176.70,92.55 L1177.80,94.34 L1178.90,96.17 L1180.00,98.00 L1181.06,99.75 L1182.12,101.51 L1183.18,103.30 L1184.24,105.12 L1185.30,107.00 L1185.60,44.50 L1185.90,155.20 L1186.50,145.60 L1191.00,153.30 L1198.00,155.20 L1205.90,153.30 L1206.30,169.50 L1210.00,163.00 L1223.00,159.80 L1235.00,161.00 L1236.00,162.28 L1237.00,161.64 L1238.00,160.95 L1239.00,160.30 L1240.00,159.79 L1241.00,159.50 L1242.00,159.47 L1243.00,159.71 L1244.00,160.18 L1245.00,160.80 L1246.00,161.48 L1247.00,162.12 L1248.00,162.62 L1249.00,162.91 L1250.00,162.94 L1251.00,162.71 L1252.00,162.27 L1253.00,161.67 L1254.00,161.01 L1255.00,160.40 L1256.00,159.91 L1257.00,159.64 L1258.00,159.62 L1259.00,159.84 L1260.00,160.28 L1261.00,160.87 L1262.00,161.51 L1263.00,162.12 L1264.00,162.59 L1265.00,162.86 L1266.00,162.89 L1267.00,162.68 L1268.00,162.26 L1269.00,161.69 L1270.00,161.07 L1271.00,160.49 L1272.00,160.04 L1273.00,159.78 L1274.00,159.76 L1275.00,159.97 L1276.00,160.39 L1277.00,160.94 L1278.00,161.55 L1279.00,162.12 L1280.00,162.56 L1281.00,162.82 L1282.00,162.85 L1283.00,162.65 L1284.00,162.25 L1285.00,161.72 L1286.00,161.13 L1287.00,160.59 L1288.00,160.16 L1289.00,159.92 L1290.00,159.90 L1291.00,160.10 L1292.00,160.49 L1293.00,161.01 L1294.00,161.58 L1295.00,162.12 L1296.00,162.53 L1297.00,162.77 L1298.00,162.80 L1299.00,162.61 L1300.00,162.24 L1301.00,161.74 L1302.00,161.20 L1303.00,160.69 L1304.00,160.29 L1305.00,160.06 L1306.00,160.04 L1307.00,160.23 L1308.00,160.60 L1309.00,161.08 L1310.00,161.62 L1311.00,162.12 L1312.00,162.50 L1313.00,162.73 L1314.00,162.75 L1315.00,162.58 L1316.00,162.23 L1317.00,161.77 L1318.00,161.26 L1319.00,160.78 L1320.00,160.41 L1321.00,160.20 L1322.00,160.19 L1323.00,160.36 L1324.00,160.70 L1325.00,161.16 L1326.00,161.65 L1327.00,162.11 L1328.00,162.48 L1329.00,162.68 L1330.00,162.71 L1331.00,162.54 L1332.00,162.22 L1333.00,161.79 L1334.00,161.32 L1335.00,160.88 L1336.00,160.54 L1337.00,160.35 L1338.00,160.33 L1339.00,160.49 L1340.00,160.81 L1341.00,161.23 L1342.00,161.68 L1343.00,162.11 L1344.00,162.45 L1345.00,162.64 L1346.00,162.66 L1347.00,162.51 L1348.00,162.21 L1349.00,161.82 L1350.00,161.38 L1351.00,160.98 L1352.00,160.66 L1353.00,160.49 L1354.00,160.47 L1355.00,160.62 L1356.00,160.91 L1357.00,161.30 L1358.00,161.72 L1359.00,162.11 L1360.00,162.42 L1361.00,162.59 L1362.00,162.61 L1363.00,162.47 L1364.00,162.20 L1365.00,161.84 L1366.00,161.44 L1367.00,161.07 L1368.00,160.79 L1369.00,160.63 L1370.00,160.62 L1371.00,160.75 L1372.00,161.02 L1373.00,161.37 L1374.00,161.75 L1375.00,162.11 L1376.00,162.39 L1377.00,162.55 L1378.00,162.56 L1379.00,162.44 L1380.00,162.19 L1381.00,161.86 L1382.00,161.51 L1383.00,161.17 L1384.00,160.91 L1385.00,160.77 L1386.00,160.76 L1387.00,160.88 L1388.00,161.12 L1389.00,161.44 L1390.00,161.79 L1391.00,162.11 L1392.00,162.36 L1393.00,162.50 L1394.00,162.52 L1395.00,162.40 L1396.00,162.18 L1397.00,161.89 L1398.00,161.57 L1399.00,161.27 L1400.00,161.04 L1401.00,160.91 L1402.00,160.90 L1403.00,161.01 L1404.00,161.23 L1405.00,161.51 L1406.00,161.82 L1407.00,162.11 L1408.00,162.33 L1409.00,162.46 L1410.00,162.47 L1411.00,162.37 L1412.00,162.17 L1413.00,161.91 L1414.00,161.63 L1415.00,161.37 L1416.00,161.16 L1417.00,161.05 L1418.00,161.04 L1419.00,161.15 L1420.00,161.34 L1421.00,161.58 L1422.00,161.86 L1423.00,162.11 L1424.00,162.30 L1425.00,162.41 L1426.00,162.42 L1427.00,162.34 L1428.00,162.16 L1429.00,161.94 L1430.00,161.69 L1431.00,161.46 L1432.00,161.29 L1433.00,161.19 L1434.00,161.19 L1435.00,161.28 L1436.00,161.44 L1437.00,161.66 L1438.00,161.89 L1439.00,162.11 L1440.00,162.27 L1441.00,162.37 L1442.00,162.38 L1443.00,162.30 L1444.00,162.15 L1445.00,161.96 L1446.00,161.75 L1447.00,161.56 L1448.00,161.41 L1449.00,161.33 L1450.00,161.33 L1451.00,161.41 L1452.00,161.55 L1453.00,161.73 L1454.00,161.92 L1455.00,162.11 L1456.00,162.24 L1457.00,162.32 L1458.00,162.33 L1459.00,162.27 L1460.00,162.14 L1461.00,161.99 L1462.00,161.81 L1463.00,161.66 L1464.00,161.54 L1465.00,161.47 L1466.00,161.47 L1467.00,161.54 L1468.00,161.65 L1469.00,161.80" fill="none" stroke="#1a4aa8" stroke-width="2.7" stroke-linejoin="round" stroke-dasharray="13.5 2.9 7 3" stroke-dashoffset="1.53" clip-path="url(#clipb)"/>
<path d="M114.90,420.61 L115.90,420.51 L116.90,420.40 L117.90,420.29 L118.90,420.18 L119.90,420.06 L120.90,419.94 L121.90,419.81 L122.90,419.68 L123.90,419.54 L124.90,419.40 L125.90,419.26 L126.90,419.11 L127.90,418.95 L128.90,418.79 L129.90,418.63 L130.90,418.47 L131.90,418.29 L132.90,418.12 L133.90,417.94 L134.90,417.76 L135.90,417.57 L136.90,417.38 L137.90,417.19 L138.90,416.99 L139.90,416.79 L140.90,416.58 L141.90,416.38 L142.90,416.16 L143.90,415.95 L144.90,415.73 L145.90,415.50 L146.90,415.28 L147.90,415.05 L148.90,414.81 L149.90,414.58 L150.90,414.34 L151.90,414.10 L152.90,413.85 L153.90,413.60 L154.90,413.35 L155.90,413.09 L156.90,412.83 L157.90,412.57 L158.90,412.31 L159.90,412.04 L160.90,411.77 L161.90,411.50 L162.90,411.22 L163.90,410.95 L164.90,410.67 L165.90,410.38 L166.90,410.10 L167.90,409.81 L168.90,409.52 L169.90,409.23 L170.90,408.93 L171.90,408.63 L172.90,408.33 L173.90,408.03 L174.90,407.73 L175.90,407.42 L176.90,407.11 L177.90,406.80 L178.90,406.49 L179.90,406.17 L180.90,405.86 L181.90,405.54 L182.90,405.22 L183.90,404.89 L184.90,404.57 L185.90,404.24 L186.90,403.92 L187.90,403.59 L188.90,403.26 L189.90,402.93 L190.90,402.59 L191.90,402.26 L192.90,401.92 L193.90,401.58 L194.90,401.24 L195.90,400.90 L196.90,400.56 L197.90,400.22 L198.90,399.87 L199.90,399.52 L200.90,399.18 L201.90,398.83 L202.90,398.48 L203.90,398.13 L204.90,397.78 L205.90,397.43 L206.90,397.08 L207.90,396.72 L208.90,396.37 L209.90,396.01 L210.90,395.66 L211.90,395.30 L212.90,394.94 L213.90,394.59 L214.90,394.23 L215.90,393.87 L216.90,393.51 L217.90,393.15 L218.90,392.79 L219.90,392.43 L220.90,392.07 L221.90,391.71 L222.90,391.35 L223.90,390.99 L224.90,390.63 L225.90,390.26 L226.90,389.90 L227.90,389.54 L228.90,389.18 L229.90,388.82 L230.90,388.46 L231.90,388.10 L232.90,387.74 L233.90,387.38 L234.90,387.01 L235.90,386.65 L236.90,386.29 L237.90,385.94 L238.90,385.58 L239.90,385.22 L240.90,384.86 L241.90,384.50 L242.90,384.15 L243.90,383.79 L244.90,383.44 L245.90,383.08 L246.90,382.73 L247.90,382.37 L248.90,382.02 L249.90,381.67 L250.90,381.32 L251.90,380.97 L252.90,380.62 L253.90,380.27 L254.90,379.93 L256.23,379.47 L257.57,379.01 L258.90,378.55 L259.90,378.21 L260.90,377.87 L261.90,377.53 L262.90,377.20 L263.90,376.86 L264.90,376.53 L265.90,376.19 L266.90,375.86 L267.90,375.53 L268.90,375.20 L269.90,374.87 L270.90,374.55 L271.90,374.22 L272.90,373.90 L273.90,373.58 L274.90,373.26 L275.90,372.94 L276.90,372.63 L277.90,372.31 L278.90,372.00 L279.90,371.69 L280.90,371.38 L281.90,371.08 L282.90,370.77 L283.90,370.47 L284.90,370.17 L285.90,369.87 L286.90,369.57 L287.90,369.28 L288.90,368.98 L289.90,368.69 L290.90,368.41 L291.90,368.12 L292.90,367.84 L293.90,367.55 L294.90,367.28 L295.90,367.00 L296.90,366.72 L297.90,366.45 L298.90,366.18 L299.90,365.92 L300.90,365.65 L301.90,365.39 L302.90,365.13 L303.90,364.87 L304.90,364.62 L305.90,364.37 L306.90,364.12 L307.90,363.87 L308.90,363.63 L309.90,363.39 L310.90,363.15 L311.90,362.92 L312.90,362.69 L313.90,362.46 L314.90,362.23 L315.90,362.01 L316.90,361.79 L317.90,361.57 L318.90,361.36 L319.90,361.15 L320.90,360.94 L321.90,360.73 L322.90,360.53 L323.90,360.34 L324.90,360.14 L325.90,359.95 L326.90,359.76 L327.90,359.58 L328.90,359.40 L329.90,359.22 L330.90,359.05 L331.90,358.87 L332.90,358.71 L333.90,358.54 L334.90,358.38 L335.90,358.23 L336.90,358.08 L337.90,357.93 L338.90,357.78 L339.90,357.64 L340.90,357.50 L341.90,357.37 L342.90,357.24 L343.90,357.11 L344.90,356.99 L345.90,356.88 L346.90,356.76 L347.90,356.65 L348.90,356.55 L349.90,356.45 L350.90,356.35 L351.90,356.26 L352.90,356.18 L353.90,356.09 L354.90,356.02 L355.90,355.94 L356.90,355.87 L357.90,355.81 L358.90,355.75 L359.90,355.70 L360.90,355.65 L361.90,355.60 L362.90,355.56 L363.90,355.53 L364.90,355.50 L365.90,355.48 L366.90,355.46 L367.90,355.45 L368.90,355.44 L369.90,355.43 L370.90,355.44 L371.90,355.45 L372.90,355.46 L373.90,355.48 L374.90,355.50 L375.90,355.53 L376.90,355.57 L377.90,355.61 L378.90,355.66 L379.90,355.71 L380.90,355.77 L381.90,355.84 L382.90,355.91 L383.90,355.99 L384.90,356.07 L385.90,356.16 L386.90,356.26 L387.90,356.36 L388.90,356.47 L389.90,356.58 L390.90,356.71 L391.90,356.83 L392.90,356.97 L393.90,357.11 L394.90,357.26 L395.90,357.41 L396.90,357.57 L397.90,357.74 L398.90,357.92 L399.90,358.10 L400.90,358.29 L401.90,358.48 L402.90,358.69 L403.90,358.90 L404.90,359.11 L405.90,359.34 L406.90,359.57 L407.90,359.81 L408.90,360.06 L409.90,360.32 L410.90,360.57 L412.10,360.87 L413.30,361.20 L414.50,361.57 L415.68,362.15 L416.86,363.00 L418.04,364.03 L419.22,365.14 L420.40,366.20 L421.42,367.11 L422.45,368.07 L423.48,369.07 L424.50,370.11 L425.52,371.17 L426.55,372.25 L427.58,373.33 L428.60,374.40 L429.62,375.57 L430.65,377.14 L431.68,379.39 L432.70,382.60 L433.50,387.86 L434.30,393.90 L435.05,397.99 L435.80,401.50 L437.80,405.30 L438.30,404.69 L438.81,404.16 L439.31,403.66 L439.82,403.18 L440.32,402.73 L440.83,402.29 L441.33,401.87 L441.83,401.47 L442.34,401.08 L442.84,400.72 L443.35,400.37 L443.85,400.05 L444.36,399.75 L444.86,399.46 L445.36,399.21 L445.87,398.97 L446.37,398.76 L446.88,398.58 L447.38,398.42 L447.89,398.28 L448.39,398.17 L448.89,398.09 L449.40,398.03 L449.90,398.00 L450.41,398.01 L450.91,398.15 L451.41,398.43 L451.92,398.86 L452.42,399.43 L452.93,400.15 L453.43,401.01 L453.94,402.00 L454.44,403.13 L454.94,404.40 L455.45,405.78 L455.95,407.30 L456.46,408.93 L456.96,410.67 L457.47,412.52 L457.97,414.48 L458.47,416.54 L458.98,418.70 L459.48,420.96 L459.99,423.32 L460.49,425.80 L461.00,428.44 L461.50,431.50 L462.00,429.17 L462.51,427.27 L463.01,425.51 L463.52,423.86 L464.02,422.28 L464.53,420.78 L465.03,419.34 L465.54,417.97 L466.04,416.66 L466.55,415.42 L467.05,414.24 L467.56,413.13 L468.06,412.09 L468.57,411.12 L469.07,410.22 L469.57,409.40 L470.08,408.65 L470.58,407.98 L471.09,407.39 L471.59,406.87 L472.10,406.44 L472.60,406.09 L473.11,405.82 L473.61,405.63 L474.12,405.52 L474.62,405.51 L475.13,405.67 L475.63,406.05 L476.13,406.65 L476.64,407.47 L477.14,408.49 L477.65,409.72 L478.15,411.15 L478.66,412.78 L479.16,414.60 L479.67,416.60 L480.17,418.77 L480.68,421.12 L481.18,423.64 L481.69,426.33 L482.19,429.23 L482.70,432.39 L483.20,436.30 L483.71,433.97 L484.22,431.89 L484.73,429.91 L485.24,428.02 L485.75,426.21 L486.26,424.48 L486.77,422.83 L487.28,421.27 L487.79,419.81 L488.31,418.44 L488.82,417.18 L489.33,416.03 L489.84,414.99 L490.35,414.07 L490.86,413.27 L491.37,412.60 L491.88,412.06 L492.39,411.64 L492.90,411.37 L493.41,411.22 L493.92,411.22 L494.43,411.41 L494.94,411.80 L495.45,412.40 L495.96,413.19 L496.47,414.17 L496.98,415.34 L497.49,416.69 L498.01,418.21 L498.52,419.90 L499.03,421.73 L499.54,423.71 L500.05,425.83 L500.56,428.07 L501.07,430.43 L501.58,432.92 L502.09,435.54 L502.60,438.50 L503.11,436.47 L503.61,434.50 L504.12,432.57 L504.62,430.70 L505.13,428.88 L505.63,427.13 L506.14,425.46 L506.65,423.88 L507.15,422.41 L507.66,421.04 L508.16,419.80 L508.67,418.68 L509.17,417.69 L509.68,416.85 L510.19,416.15 L510.69,415.60 L511.20,415.21 L511.70,414.98 L512.21,414.90 L512.71,415.02 L513.22,415.36 L513.73,415.93 L514.23,416.72 L514.74,417.72 L515.24,418.92 L515.75,420.31 L516.25,421.88 L516.76,423.62 L517.27,425.50 L517.77,427.52 L518.28,429.65 L518.78,431.88 L519.29,434.18 L519.79,436.55 L520.30,439.00 L520.80,437.51 L521.30,435.94 L521.80,434.36 L522.30,432.78 L522.80,431.22 L523.30,429.71 L523.80,428.25 L524.30,426.86 L524.80,425.55 L525.30,424.33 L525.80,423.20 L526.30,422.18 L526.80,421.28 L527.30,420.50 L527.80,419.85 L528.30,419.33 L528.80,418.94 L529.30,418.70 L529.80,418.60 L530.30,418.68 L530.80,418.99 L531.30,419.53 L531.80,420.31 L532.30,421.30 L532.80,422.50 L533.30,423.89 L533.80,425.45 L534.30,427.16 L534.80,428.99 L535.30,430.93 L535.80,432.95 L536.30,435.00 L536.80,437.05 L537.30,439.00 L537.81,437.68 L538.31,436.16 L538.82,434.58 L539.33,432.99 L539.83,431.41 L540.34,429.87 L540.85,428.38 L541.35,426.97 L541.86,425.66 L542.36,424.45 L542.87,423.37 L543.38,422.42 L543.88,421.62 L544.39,420.97 L544.90,420.48 L545.40,420.16 L545.91,420.01 L546.42,420.05 L546.92,420.36 L547.43,420.93 L547.94,421.75 L548.44,422.82 L548.95,424.11 L549.45,425.60 L549.96,427.26 L550.47,429.05 L550.97,430.95 L551.48,432.92 L551.99,434.89 L552.49,436.81 L553.00,438.50 L553.51,437.46 L554.03,436.18 L554.54,434.80 L555.05,433.39 L555.56,431.98 L556.08,430.60 L556.59,429.26 L557.10,428.01 L557.62,426.85 L558.13,425.80 L558.64,424.88 L559.15,424.10 L559.67,423.48 L560.18,423.01 L560.69,422.72 L561.21,422.60 L561.72,422.66 L562.23,422.91 L562.75,423.35 L563.26,423.96 L563.77,424.74 L564.28,425.67 L564.80,426.74 L565.31,427.93 L565.82,429.21 L566.34,430.57 L566.85,431.97 L567.36,433.38 L567.87,434.76 L568.39,436.05 L568.90,437.10 L569.40,436.42 L569.91,435.51 L570.41,434.50 L570.91,433.44 L571.42,432.36 L571.92,431.28 L572.42,430.22 L572.93,429.21 L573.43,428.25 L573.93,427.37 L574.44,426.58 L574.94,425.88 L575.44,425.30 L575.95,424.83 L576.45,424.49 L576.95,424.28 L577.45,424.20 L577.96,424.28 L578.46,424.54 L578.96,424.98 L579.47,425.59 L579.97,426.35 L580.47,427.26 L580.98,428.28 L581.48,429.40 L581.98,430.59 L582.49,431.81 L582.99,433.03 L583.49,434.21 L584.00,435.29 L584.50,436.10 L585.01,435.58 L585.51,434.82 L586.02,433.96 L586.52,433.04 L587.03,432.09 L587.54,431.12 L588.04,430.17 L588.55,429.25 L589.05,428.39 L589.56,427.58 L590.07,426.85 L590.57,426.22 L591.08,425.68 L591.58,425.26 L592.09,424.95 L592.60,424.76 L593.10,424.70 L593.61,424.76 L594.12,424.94 L594.62,425.24 L595.13,425.65 L595.63,426.16 L596.14,426.76 L596.65,427.45 L597.15,428.20 L597.66,429.02 L598.16,429.86 L598.67,430.73 L599.18,431.60 L599.68,432.44 L600.19,433.23 L600.69,433.92 L601.20,434.40 L601.71,434.04 L602.21,433.48 L602.72,432.82 L603.22,432.11 L603.73,431.35 L604.24,430.58 L604.74,429.81 L605.25,429.07 L605.75,428.36 L606.26,427.69 L606.77,427.09 L607.27,426.57 L607.78,426.12 L608.28,425.77 L608.79,425.51 L609.30,425.35 L609.80,425.30 L610.31,425.35 L610.82,425.50 L611.32,425.74 L611.83,426.06 L612.33,426.48 L612.84,426.96 L613.35,427.51 L613.85,428.11 L614.36,428.75 L614.86,429.42 L615.37,430.09 L615.88,430.76 L616.38,431.40 L616.89,431.98 L617.39,432.48 L617.90,432.80 L618.41,432.58 L618.92,432.22 L619.43,431.77 L619.94,431.27 L620.46,430.73 L620.97,430.17 L621.48,429.60 L621.99,429.03 L622.50,428.47 L623.01,427.94 L623.52,427.43 L624.03,426.96 L624.54,426.54 L625.06,426.17 L625.57,425.86 L626.08,425.62 L626.59,425.44 L627.10,425.33 L627.61,425.30 L628.12,425.34 L628.63,425.44 L629.14,425.62 L629.66,425.86 L630.17,426.16 L630.68,426.52 L631.19,426.92 L631.70,427.36 L632.21,427.83 L632.72,428.32 L633.23,428.82 L633.74,429.32 L634.26,429.81 L634.77,430.26 L635.28,430.66 L635.79,431.00 L636.30,431.20 L636.81,431.02 L637.32,430.71 L637.83,430.32 L638.34,429.87 L638.85,429.38 L639.36,428.86 L639.87,428.33 L640.38,427.79 L640.89,427.27 L641.40,426.75 L641.91,426.27 L642.42,425.82 L642.93,425.41 L643.44,425.06 L643.95,424.76 L644.46,424.52 L644.97,424.34 L645.48,424.24 L645.99,424.20 L646.51,424.22 L647.02,424.29 L647.53,424.40 L648.04,424.55 L648.55,424.74 L649.06,424.97 L649.57,425.23 L650.08,425.52 L650.59,425.83 L651.10,426.16 L651.61,426.51 L652.12,426.86 L652.63,427.22 L653.14,427.57 L653.65,427.91 L654.16,428.23 L654.67,428.53 L655.18,428.78 L655.69,428.99 L656.20,429.10 L656.70,429.00 L657.20,428.81 L657.71,428.56 L658.21,428.27 L658.71,427.95 L659.21,427.60 L659.72,427.23 L660.22,426.84 L660.72,426.45 L661.22,426.06 L661.73,425.67 L662.23,425.30 L662.73,424.94 L663.23,424.60 L663.73,424.29 L664.24,424.01 L664.74,423.76 L665.24,423.55 L665.74,423.37 L666.25,423.24 L666.75,423.15 L667.25,423.11 L667.75,423.10 L668.25,423.12 L668.76,423.17 L669.26,423.23 L669.76,423.32 L670.26,423.42 L670.77,423.55 L671.27,423.68 L671.77,423.84 L672.27,424.00 L672.77,424.17 L673.28,424.35 L673.78,424.53 L674.28,424.72 L674.78,424.90 L675.29,425.08 L675.79,425.25 L676.29,425.40 L676.79,425.54 L677.30,425.66 L677.80,425.75 L678.30,425.80 L678.80,425.72 L679.31,425.56 L679.81,425.34 L680.32,425.07 L680.82,424.78 L681.33,424.45 L681.83,424.11 L682.34,423.75 L682.84,423.39 L683.35,423.03 L683.85,422.67 L684.36,422.33 L684.86,422.01 L685.37,421.71 L685.87,421.44 L686.38,421.20 L686.88,420.99 L687.39,420.83 L687.89,420.71 L688.40,420.63 L688.90,420.60 L689.40,420.60 L689.91,420.61 L690.41,420.63 L690.92,420.66 L691.42,420.69 L691.93,420.73 L692.43,420.78 L692.94,420.83 L693.44,420.89 L693.95,420.95 L694.45,421.01 L694.96,421.07 L695.46,421.14 L695.97,421.20 L696.47,421.26 L696.98,421.32 L697.48,421.37 L697.99,421.42 L698.49,421.46 L699.00,421.49 L699.50,421.50" fill="none" stroke="#201414" stroke-width="2.7" stroke-linejoin="round" clip-path="url(#clipc)"/>
<path d="M114.90,420.59 L115.90,420.52 L116.90,420.44 L117.90,420.35 L118.90,420.26 L119.90,420.16 L120.90,420.06 L121.90,419.95 L122.90,419.84 L123.90,419.73 L124.90,419.61 L125.90,419.48 L126.90,419.35 L127.90,419.21 L128.90,419.07 L129.90,418.92 L130.90,418.77 L131.90,418.62 L132.90,418.46 L133.90,418.29 L134.90,418.12 L135.90,417.95 L136.90,417.77 L137.90,417.59 L138.90,417.40 L139.90,417.21 L140.90,417.02 L141.90,416.82 L142.90,416.61 L143.90,416.40 L144.90,416.19 L145.90,415.97 L146.90,415.75 L147.90,415.53 L148.90,415.30 L149.90,415.06 L150.90,414.83 L151.90,414.58 L152.90,414.34 L153.90,414.09 L154.90,413.84 L155.90,413.58 L156.90,413.32 L157.90,413.06 L158.90,412.79 L159.90,412.52 L160.90,412.24 L161.90,411.97 L162.90,411.68 L163.90,411.40 L164.90,411.11 L165.90,410.82 L166.90,410.52 L167.90,410.22 L168.90,409.92 L169.90,409.62 L170.90,409.31 L171.90,409.00 L172.90,408.68 L173.90,408.37 L174.90,408.04 L175.90,407.72 L176.90,407.39 L177.90,407.07 L178.90,406.73 L179.90,406.40 L180.90,406.06 L181.90,405.72 L182.90,405.38 L183.90,405.03 L184.90,404.68 L185.90,404.33 L186.90,403.98 L187.90,403.62 L188.90,403.26 L189.90,402.90 L190.90,402.54 L191.90,402.17 L192.90,401.80 L193.90,401.43 L194.90,401.06 L195.90,400.69 L196.90,400.31 L197.90,399.93 L198.90,399.55 L199.90,399.17 L200.90,398.78 L201.90,398.39 L202.90,398.01 L203.90,397.61 L204.90,397.22 L205.90,396.83 L206.90,396.43 L207.90,396.03 L208.90,395.63 L209.90,395.23 L210.90,394.83 L211.90,394.42 L212.90,394.02 L213.90,393.61 L214.90,393.20 L215.90,392.79 L216.90,392.38 L217.90,391.97 L218.90,391.55 L219.90,391.14 L220.90,390.72 L221.90,390.30 L222.90,389.88 L223.90,389.46 L224.90,389.04 L225.90,388.62 L226.90,388.20 L227.90,387.77 L228.90,387.35 L229.90,386.92 L230.90,386.50 L231.90,386.07 L232.90,385.64 L233.90,385.21 L234.90,384.78 L235.90,384.35 L236.90,383.92 L237.90,383.49 L238.90,383.06 L239.90,382.63 L240.90,382.20 L241.90,381.76 L242.90,381.33 L243.90,380.90 L244.90,380.46 L245.90,380.03 L246.90,379.59 L247.90,379.16 L248.90,378.73 L249.90,378.29 L250.90,377.86 L251.90,377.42 L252.90,376.99 L253.90,376.56 L254.90,376.13 L256.23,375.55 L257.57,374.98 L258.90,374.41 L259.90,373.98 L260.90,373.55 L261.90,373.13 L262.90,372.71 L263.90,372.28 L264.90,371.86 L265.90,371.44 L266.90,371.03 L267.90,370.61 L268.90,370.20 L269.90,369.79 L270.90,369.38 L271.90,368.97 L272.90,368.56 L273.90,368.16 L274.90,367.76 L275.90,367.36 L276.90,366.97 L277.90,366.57 L278.90,366.19 L279.90,365.80 L280.90,365.41 L281.90,365.03 L282.90,364.66 L283.90,364.28 L284.90,363.91 L285.90,363.54 L286.90,363.18 L287.90,362.82 L288.90,362.46 L289.90,362.11 L290.90,361.76 L291.90,361.42 L292.90,361.08 L293.90,360.74 L294.90,360.41 L295.90,360.08 L296.90,359.76 L297.90,359.43 L298.90,359.12 L299.90,358.80 L300.90,358.49 L301.90,358.19 L302.90,357.89 L303.90,357.59 L304.90,357.30 L305.90,357.01 L306.90,356.72 L307.90,356.44 L308.90,356.16 L309.90,355.88 L310.90,355.61 L311.90,355.34 L312.90,355.08 L313.90,354.81 L314.90,354.56 L315.90,354.30 L316.90,354.05 L317.90,353.80 L318.90,353.56 L319.90,353.32 L320.90,353.08 L321.90,352.85 L322.90,352.62 L323.90,352.40 L324.90,352.17 L325.90,351.95 L326.90,351.74 L327.90,351.52 L328.90,351.31 L329.90,351.11 L330.90,350.90 L331.90,350.70 L332.90,350.51 L333.90,350.31 L334.90,350.12 L335.90,349.94 L336.90,349.75 L337.90,349.57 L338.90,349.40 L339.90,349.22 L340.90,349.05 L341.90,348.88 L342.90,348.72 L343.90,348.56 L344.90,348.41 L345.90,348.26 L346.90,348.11 L347.90,347.97 L348.90,347.83 L349.90,347.70 L350.90,347.57 L351.90,347.45 L352.90,347.33 L353.90,347.21 L354.90,347.11 L355.90,347.00 L356.90,346.91 L357.90,346.82 L358.90,346.73 L359.90,346.65 L360.90,346.58 L361.90,346.51 L362.90,346.45 L363.90,346.39 L364.90,346.34 L365.90,346.30 L366.90,346.27 L367.90,346.24 L368.90,346.22 L369.90,346.20 L370.90,346.19 L371.90,346.19 L372.90,346.20 L373.90,346.22 L374.90,346.24 L375.90,346.27 L376.90,346.31 L377.90,346.36 L378.90,346.41 L379.90,346.47 L380.90,346.55 L381.90,346.63 L382.90,346.72 L383.90,346.81 L384.90,346.92 L385.90,347.04 L386.90,347.16 L387.90,347.30 L388.90,347.44 L389.90,347.59 L390.90,347.76 L391.90,347.93 L392.90,348.11 L393.90,348.31 L394.90,348.51 L395.90,348.72 L396.90,348.94 L397.90,349.18 L398.90,349.42 L399.90,349.68 L400.90,349.95 L401.90,350.22 L402.90,350.51 L403.90,350.81 L404.90,351.12 L405.90,351.45 L406.90,351.78 L407.90,352.13 L408.90,352.50 L409.90,352.87 L410.90,353.24 L412.10,353.68 L413.30,354.17 L414.50,354.71 L415.65,355.98 L416.80,358.41 L417.95,361.70 L419.10,365.52 L420.25,369.56 L421.40,373.50 L422.42,377.61 L423.45,382.45 L424.48,386.89 L425.50,389.80 L426.62,391.51 L427.75,392.85 L428.88,393.97 L430.00,395.00 L431.00,395.86 L432.00,396.64 L433.00,397.38 L434.00,398.15 L435.00,399.00 L436.00,400.00 L437.00,401.38 L438.00,403.25 L439.00,405.50 L440.00,408.00 L442.00,424.73 L443.00,427.08 L444.00,428.46 L445.00,428.83 L446.00,428.21 L447.00,426.64 L448.00,424.19 L449.00,420.57 L450.00,416.40 L451.00,413.92 L452.00,412.35 L453.00,411.72 L454.00,412.03 L455.00,413.27 L456.00,415.38 L457.00,418.31 L458.00,422.82 L459.00,426.38 L460.00,428.86 L461.00,430.48 L462.00,431.22 L463.00,431.07 L464.00,430.06 L465.00,428.26 L466.00,425.69 L467.00,421.69 L468.00,419.08 L469.00,417.33 L470.00,416.37 L471.00,416.24 L472.00,416.93 L473.00,418.38 L474.00,420.54 L475.00,423.44 L476.00,427.34 L477.00,429.79 L478.00,431.47 L479.00,432.42 L480.00,432.62 L481.00,432.10 L482.00,430.92 L483.00,429.14 L484.00,426.58 L485.00,423.70 L486.00,422.03 L487.00,421.01 L488.00,420.64 L489.00,420.91 L490.00,421.78 L491.00,423.19 L492.00,425.10 L493.00,427.98 L494.00,430.19 L495.00,431.70 L496.00,432.64 L497.00,433.02 L498.00,432.86 L499.00,432.18 L500.00,431.04 L501.00,429.46 L502.00,427.07 L503.00,425.52 L504.00,424.51 L505.00,423.97 L506.00,423.91 L507.00,424.30 L508.00,425.12 L509.00,426.32 L510.00,427.90 L511.00,430.01 L512.00,431.30 L513.00,432.16 L514.00,432.61 L515.00,432.67 L516.00,432.35 L517.00,431.69 L518.00,430.73 L519.00,429.39 L520.00,427.90 L521.00,427.04 L522.00,426.53 L523.00,426.34 L524.00,426.48 L525.00,426.92 L526.00,427.62 L527.00,428.56 L528.00,429.96 L529.00,431.03 L530.00,431.75 L531.00,432.19 L532.00,432.37 L533.00,432.28 L534.00,431.96 L535.00,431.42 L536.00,430.67 L537.00,429.54 L538.00,428.81 L539.00,428.32 L540.00,428.05 L541.00,428.01 L542.00,428.19 L543.00,428.58 L544.00,429.15 L545.00,429.93 L546.00,430.97 L547.00,431.62 L548.00,432.07 L549.00,432.31 L550.00,432.34 L551.00,432.18 L552.00,431.83 L553.00,431.32 L554.00,430.57 L555.00,429.73 L556.00,429.22 L557.00,428.89 L558.00,428.74 L559.00,428.77 L560.00,428.98 L561.00,429.35 L562.00,429.86 L563.00,430.68 L564.00,431.30 L565.00,431.73 L566.00,431.99 L567.00,432.09 L568.00,432.02 L569.00,431.79 L570.00,431.41 L571.00,430.89 L572.00,430.11 L573.00,429.59 L574.00,429.23 L575.00,429.01 L576.00,428.94 L577.00,429.03 L578.00,429.26 L579.00,429.61 L580.00,430.11 L581.00,430.80 L582.00,431.22 L583.00,431.50 L584.00,431.64 L585.00,431.65 L586.00,431.51 L587.00,431.24 L588.00,430.85 L589.00,430.31 L590.00,429.69 L591.00,429.30 L592.00,429.04 L593.00,428.90 L594.00,428.90 L595.00,429.02 L596.00,429.26 L597.00,429.62 L598.00,430.19 L599.00,430.62 L600.00,430.92 L601.00,431.09 L602.00,431.15 L603.00,431.08 L604.00,430.89 L605.00,430.60 L606.00,430.20 L607.00,429.60 L608.00,429.19 L609.00,428.90 L610.00,428.72 L611.00,428.65 L612.00,428.69 L613.00,428.84 L614.00,429.09 L615.00,429.45 L616.00,429.95 L617.00,430.25 L618.00,430.44 L619.00,430.53 L620.00,430.51 L621.00,430.39 L622.00,430.17 L623.00,429.85 L624.00,429.41 L625.00,428.92 L626.00,428.59 L627.00,428.36 L628.00,428.22 L629.00,428.18 L630.00,428.23 L631.00,428.36 L632.00,428.58 L633.00,428.95 L634.00,429.23 L635.00,429.39 L636.00,429.46 L637.00,429.44 L638.00,429.33 L639.00,429.13 L640.00,428.85 L641.00,428.49 L642.00,427.98 L643.00,427.61 L644.00,427.32 L645.00,427.12 L646.00,427.00 L647.00,426.96 L648.00,427.00 L649.00,427.11 L650.00,427.30 L651.00,427.60 L652.00,427.75 L653.00,427.81 L654.00,427.81 L655.00,427.72 L656.00,427.56 L657.00,427.33 L658.00,427.03 L659.00,426.64 L660.00,426.21 L661.00,425.91 L662.00,425.67 L663.00,425.51 L664.00,425.42 L665.00,425.39 L666.00,425.44 L667.00,425.54 L668.00,425.76 L669.00,425.90 L670.00,425.97 L671.00,425.97 L672.00,425.89 L673.00,425.75 L674.00,425.54 L675.00,425.27 L676.00,424.94 L677.00,424.49 L678.00,424.15 L679.00,423.87 L680.00,423.65 L681.00,423.50 L682.00,423.40 L683.00,423.37 L684.00,423.40 L685.00,423.48 L686.00,423.65 L687.00,423.71 L688.00,423.70 L689.00,423.63 L690.00,423.50 L691.00,423.31 L692.00,423.06 L693.00,422.75 L694.00,422.36 L695.00,421.93 L696.00,421.61 L697.00,421.34 L698.00,421.13 L699.00,420.99" fill="none" stroke="#e3141c" stroke-width="2.7" stroke-linejoin="round" stroke-dasharray="9.4 8.8" clip-path="url(#clipc)"/>
<path d="M114.90,420.61 L115.90,420.47 L116.90,420.33 L117.90,420.20 L118.90,420.05 L119.90,419.91 L120.90,419.77 L121.90,419.62 L122.90,419.48 L123.90,419.33 L124.90,419.18 L125.90,419.03 L126.90,418.88 L127.90,418.72 L128.90,418.56 L129.90,418.40 L130.90,418.24 L131.90,418.08 L132.90,417.91 L133.90,417.75 L134.90,417.58 L135.90,417.40 L136.90,417.23 L137.90,417.05 L138.90,416.87 L139.90,416.69 L140.90,416.51 L141.90,416.32 L142.90,416.13 L143.90,415.94 L144.90,415.74 L145.90,415.55 L146.90,415.35 L147.90,415.14 L148.90,414.94 L149.90,414.73 L150.90,414.52 L151.90,414.30 L152.90,414.08 L153.90,413.86 L154.90,413.64 L155.90,413.41 L156.90,413.18 L157.90,412.94 L158.90,412.70 L159.90,412.46 L160.90,412.22 L161.90,411.97 L162.90,411.72 L163.90,411.46 L164.90,411.20 L165.90,410.94 L166.90,410.67 L167.90,410.40 L168.90,410.13 L169.90,409.85 L170.90,409.56 L171.90,409.28 L172.90,408.99 L173.90,408.69 L174.90,408.39 L175.90,408.09 L176.90,407.78 L177.90,407.47 L178.90,407.15 L179.90,406.83 L180.90,406.50 L181.90,406.17 L182.90,405.84 L183.90,405.50 L184.90,405.15 L185.90,404.80 L186.90,404.45 L187.90,404.09 L188.90,403.73 L189.90,403.36 L190.90,402.99 L191.90,402.61 L192.90,402.22 L193.90,401.83 L194.90,401.44 L195.90,401.04 L196.90,400.64 L197.90,400.23 L198.90,399.81 L199.90,399.39 L200.90,398.97 L201.90,398.54 L202.90,398.11 L203.90,397.67 L204.90,397.23 L205.90,396.79 L206.90,396.34 L207.90,395.88 L208.90,395.43 L209.90,394.97 L210.90,394.50 L211.90,394.03 L212.90,393.56 L213.90,393.09 L214.90,392.62 L215.90,392.14 L216.90,391.65 L217.90,391.17 L218.90,390.68 L219.90,390.19 L220.90,389.70 L221.90,389.21 L222.90,388.71 L223.90,388.22 L224.90,387.72 L225.90,387.22 L226.90,386.72 L227.90,386.21 L228.90,385.71 L229.90,385.20 L230.90,384.70 L231.90,384.19 L232.90,383.68 L233.90,383.17 L234.90,382.66 L235.90,382.15 L236.90,381.64 L237.90,381.13 L238.90,380.62 L239.90,380.11 L240.90,379.60 L241.90,379.09 L242.90,378.58 L243.90,378.07 L244.90,377.56 L245.90,377.06 L246.90,376.55 L247.90,376.04 L248.90,375.54 L249.90,375.04 L250.90,374.54 L251.90,374.04 L252.90,373.54 L253.90,373.04 L254.90,372.55 L256.23,371.89 L257.57,371.24 L258.90,370.59 L259.90,370.11 L260.90,369.63 L261.90,369.15 L262.90,368.68 L263.90,368.21 L264.90,367.74 L265.90,367.27 L266.90,366.81 L267.90,366.35 L268.90,365.90 L269.90,365.45 L270.90,365.00 L271.90,364.56 L272.90,364.12 L273.90,363.68 L274.90,363.25 L275.90,362.82 L276.90,362.39 L277.90,361.97 L278.90,361.55 L279.90,361.14 L280.90,360.73 L281.90,360.32 L282.90,359.92 L283.90,359.52 L284.90,359.12 L285.90,358.73 L286.90,358.34 L287.90,357.95 L288.90,357.57 L289.90,357.19 L290.90,356.82 L291.90,356.45 L292.90,356.08 L293.90,355.72 L294.90,355.36 L295.90,355.00 L296.90,354.65 L297.90,354.30 L298.90,353.96 L299.90,353.62 L300.90,353.28 L301.90,352.95 L302.90,352.62 L303.90,352.29 L304.90,351.97 L305.90,351.65 L306.90,351.34 L307.90,351.03 L308.90,350.72 L309.90,350.42 L310.90,350.12 L311.90,349.82 L312.90,349.53 L313.90,349.24 L314.90,348.96 L315.90,348.68 L316.90,348.40 L317.90,348.13 L318.90,347.86 L319.90,347.60 L320.90,347.33 L321.90,347.08 L322.90,346.82 L323.90,346.57 L324.90,346.33 L325.90,346.08 L326.90,345.84 L327.90,345.61 L328.90,345.38 L329.90,345.15 L330.90,344.93 L331.90,344.71 L332.90,344.49 L333.90,344.28 L334.90,344.07 L335.90,343.87 L336.90,343.67 L337.90,343.47 L338.90,343.28 L339.90,343.09 L340.90,342.91 L341.90,342.73 L342.90,342.55 L343.90,342.38 L344.90,342.21 L345.90,342.04 L346.90,341.88 L347.90,341.72 L348.90,341.57 L349.90,341.42 L350.90,341.28 L351.90,341.13 L352.90,341.00 L353.90,340.86 L354.90,340.73 L355.90,340.61 L356.90,340.48 L357.90,340.37 L358.90,340.25 L359.90,340.14 L360.90,340.03 L361.90,339.93 L362.90,339.84 L363.90,339.74 L364.90,339.66 L365.90,339.58 L366.90,339.51 L367.90,339.44 L368.90,339.39 L369.90,339.34 L370.90,339.30 L371.90,339.27 L372.90,339.25 L373.90,339.24 L374.90,339.24 L375.90,339.25 L376.90,339.27 L377.90,339.31 L378.90,339.36 L379.90,339.42 L380.90,339.49 L381.90,339.58 L382.90,339.68 L383.90,339.79 L384.90,339.93 L385.90,340.08 L386.90,340.24 L387.90,340.42 L388.90,340.62 L389.90,340.83 L390.90,341.06 L391.90,341.31 L392.90,341.58 L393.90,341.88 L394.90,342.18 L395.90,342.51 L396.90,342.86 L397.90,343.24 L398.90,343.63 L399.90,344.04 L400.90,344.48 L401.90,344.95 L402.90,345.43 L403.90,345.94 L404.90,346.47 L405.90,347.03 L406.90,347.62 L407.90,348.23 L408.90,348.89 L409.90,349.55 L410.90,350.22 L412.10,351.02 L413.30,351.90 L414.50,352.93 L415.77,357.47 L417.03,365.45 L418.30,372.00 L419.34,375.43 L420.38,378.71 L421.42,381.64 L422.46,384.03 L423.50,385.70 L424.60,386.85 L425.70,387.77 L426.80,388.62 L427.90,389.58 L429.00,390.80 L430.12,392.24 L431.25,393.72 L432.38,395.29 L433.50,397.00 L436.00,416.00 L437.00,421.38 L438.00,424.84 L439.00,427.04 L440.00,427.92 L441.00,427.49 L442.00,425.81 L443.00,422.96 L444.00,418.40 L445.00,413.91 L446.00,411.22 L447.00,409.73 L448.00,409.47 L449.00,410.44 L450.00,412.57 L451.00,415.78 L452.00,420.59 L453.00,425.30 L454.00,428.31 L455.00,430.20 L456.00,430.93 L457.00,430.51 L458.00,429.00 L459.00,426.49 L460.00,422.51 L461.00,418.62 L462.00,416.29 L463.00,415.00 L464.00,414.77 L465.00,415.59 L466.00,417.40 L467.00,420.11 L468.00,424.14 L469.00,428.08 L470.00,430.56 L471.00,432.09 L472.00,432.64 L473.00,432.22 L474.00,430.92 L475.00,428.81 L476.00,425.52 L477.00,422.35 L478.00,420.49 L479.00,419.49 L480.00,419.35 L481.00,420.05 L482.00,421.51 L483.00,423.65 L484.00,426.79 L485.00,429.80 L486.00,431.66 L487.00,432.77 L488.00,433.14 L489.00,432.80 L490.00,431.80 L491.00,430.23 L492.00,427.82 L493.00,425.52 L494.00,424.18 L495.00,423.45 L496.00,423.34 L497.00,423.82 L498.00,424.83 L499.00,426.31 L500.00,428.50 L501.00,430.61 L502.00,431.90 L503.00,432.66 L504.00,432.90 L505.00,432.62 L506.00,431.87 L507.00,430.71 L508.00,428.94 L509.00,427.24 L510.00,426.24 L511.00,425.70 L512.00,425.60 L513.00,425.94 L514.00,426.67 L515.00,427.75 L516.00,429.34 L517.00,430.86 L518.00,431.79 L519.00,432.34 L520.00,432.50 L521.00,432.30 L522.00,431.77 L523.00,430.95 L524.00,429.70 L525.00,428.50 L526.00,427.81 L527.00,427.43 L528.00,427.36 L529.00,427.60 L530.00,428.12 L531.00,428.88 L532.00,430.00 L533.00,431.07 L534.00,431.74 L535.00,432.13 L536.00,432.25 L537.00,432.12 L538.00,431.74 L539.00,431.15 L540.00,430.24 L541.00,429.35 L542.00,428.81 L543.00,428.50 L544.00,428.43 L545.00,428.59 L546.00,428.97 L547.00,429.54 L548.00,430.40 L549.00,431.24 L550.00,431.76 L551.00,432.06 L552.00,432.16 L553.00,432.04 L554.00,431.73 L555.00,431.24 L556.00,430.49 L557.00,429.75 L558.00,429.30 L559.00,429.04 L560.00,428.97 L561.00,429.08 L562.00,429.37 L563.00,429.81 L564.00,430.49 L565.00,431.16 L566.00,431.57 L567.00,431.80 L568.00,431.87 L569.00,431.76 L570.00,431.49 L571.00,431.08 L572.00,430.45 L573.00,429.84 L574.00,429.45 L575.00,429.22 L576.00,429.15 L577.00,429.23 L578.00,429.45 L579.00,429.81 L580.00,430.37 L581.00,430.91 L582.00,431.24 L583.00,431.43 L584.00,431.47 L585.00,431.37 L586.00,431.14 L587.00,430.79 L588.00,430.25 L589.00,429.72 L590.00,429.39 L591.00,429.18 L592.00,429.11 L593.00,429.16 L594.00,429.34 L595.00,429.63 L596.00,430.10 L597.00,430.55 L598.00,430.83 L599.00,430.98 L600.00,431.01 L601.00,430.92 L602.00,430.71 L603.00,430.40 L604.00,429.92 L605.00,429.45 L606.00,429.15 L607.00,428.96 L608.00,428.89 L609.00,428.93 L610.00,429.07 L611.00,429.32 L612.00,429.72 L613.00,430.11 L614.00,430.34 L615.00,430.47 L616.00,430.49 L617.00,430.40 L618.00,430.21 L619.00,429.92 L620.00,429.50 L621.00,429.08 L622.00,428.81 L623.00,428.63 L624.00,428.54 L625.00,428.56 L626.00,428.66 L627.00,428.85 L628.00,429.16 L629.00,429.47 L630.00,429.63 L631.00,429.71 L632.00,429.68 L633.00,429.56 L634.00,429.35 L635.00,429.06 L636.00,428.64 L637.00,428.23 L638.00,427.94 L639.00,427.74 L640.00,427.62 L641.00,427.59 L642.00,427.64 L643.00,427.76 L644.00,427.99 L645.00,428.22 L646.00,428.32 L647.00,428.35 L648.00,428.29 L649.00,428.15 L650.00,427.94 L651.00,427.65 L652.00,427.26 L653.00,426.87 L654.00,426.59 L655.00,426.39 L656.00,426.26 L657.00,426.21 L658.00,426.23 L659.00,426.32 L660.00,426.50 L661.00,426.68 L662.00,426.75 L663.00,426.76 L664.00,426.69 L665.00,426.54 L666.00,426.33 L667.00,426.06 L668.00,425.68 L669.00,425.32 L670.00,425.04 L671.00,424.83 L672.00,424.69 L673.00,424.61 L674.00,424.59 L675.00,424.63 L676.00,424.76 L677.00,424.88 L678.00,424.91 L679.00,424.88 L680.00,424.78 L681.00,424.62 L682.00,424.39 L683.00,424.10 L684.00,423.73 L685.00,423.35 L686.00,423.07 L687.00,422.84 L688.00,422.67 L689.00,422.56 L690.00,422.52 L691.00,422.52 L692.00,422.61 L693.00,422.70 L694.00,422.70 L695.00,422.65 L696.00,422.53 L697.00,422.35 L698.00,422.11 L699.00,421.81" fill="none" stroke="#1a4aa8" stroke-width="2.7" stroke-linejoin="round" stroke-dasharray="13.5 2.9 7 3" clip-path="url(#clipc)"/>
<path d="M884.30,380.60 L885.30,380.68 L886.31,380.77 L887.31,380.85 L888.31,380.94 L889.31,381.02 L890.32,381.11 L891.32,381.20 L892.32,381.29 L893.32,381.38 L894.33,381.48 L895.33,381.57 L896.33,381.67 L897.33,381.77 L898.34,381.87 L899.34,381.97 L900.34,382.07 L901.34,382.18 L902.35,382.28 L903.35,382.39 L904.35,382.50 L905.36,382.62 L906.36,382.73 L907.36,382.85 L908.36,382.97 L909.37,383.09 L910.37,383.21 L911.37,383.34 L912.37,383.47 L913.38,383.60 L914.38,383.73 L915.38,383.87 L916.38,384.01 L917.39,384.15 L918.39,384.29 L919.39,384.44 L920.39,384.59 L921.40,384.74 L922.40,384.90 L923.41,385.06 L924.41,385.22 L925.42,385.38 L926.43,385.54 L927.44,385.70 L928.44,385.87 L929.45,386.03 L930.46,386.20 L931.46,386.36 L932.47,386.53 L933.48,386.70 L934.49,386.87 L935.49,387.04 L936.50,387.21 L937.51,387.38 L938.51,387.55 L939.52,387.73 L940.53,387.90 L941.54,388.08 L942.54,388.25 L943.55,388.43 L944.56,388.61 L945.56,388.79 L946.57,388.97 L947.58,389.15 L948.59,389.33 L949.59,389.51 L950.60,389.69 L951.61,389.87 L952.61,390.06 L953.62,390.24 L954.63,390.42 L955.64,390.61 L956.64,390.79 L957.65,390.98 L958.66,391.17 L959.66,391.36 L960.67,391.54 L961.68,391.73 L962.69,391.92 L963.69,392.11 L964.70,392.30 L965.71,392.49 L966.72,392.68 L967.73,392.88 L968.74,393.08 L969.75,393.27 L970.76,393.47 L971.77,393.67 L972.78,393.87 L973.79,394.07 L974.80,394.28 L975.80,394.48 L976.81,394.69 L977.82,394.89 L978.83,395.10 L979.84,395.30 L980.85,395.51 L981.86,395.72 L982.87,395.93 L983.88,396.13 L984.89,396.34 L985.90,396.55 L986.91,396.76 L987.92,396.97 L988.93,397.18 L989.94,397.38 L990.95,397.59 L991.96,397.80 L992.97,398.00 L993.98,398.21 L994.99,398.42 L996.00,398.62 L997.00,398.82 L998.01,399.03 L999.02,399.23 L1000.03,399.43 L1001.04,399.63 L1002.05,399.83 L1003.06,400.03 L1004.07,400.22 L1005.08,400.42 L1006.09,400.61 L1007.10,400.80 L1008.11,400.99 L1009.12,401.18 L1010.13,401.36 L1011.14,401.55 L1012.15,401.73 L1013.16,401.91 L1014.17,402.09 L1015.18,402.26 L1016.19,402.44 L1017.20,402.61 L1018.20,402.78 L1019.21,402.95 L1020.22,403.11 L1021.23,403.28 L1022.24,403.44 L1023.25,403.60 L1024.26,403.76 L1025.27,403.92 L1026.28,404.07 L1027.29,404.22 L1028.30,404.37 L1029.31,404.52 L1030.32,404.67 L1031.33,404.82 L1032.34,404.96 L1033.35,405.10 L1034.36,405.24 L1035.37,405.38 L1036.38,405.51 L1037.39,405.65 L1038.40,405.78 L1039.40,405.91 L1040.41,406.04 L1041.42,406.16 L1042.43,406.29 L1043.44,406.41 L1044.45,406.53 L1045.46,406.65 L1046.47,406.76 L1047.48,406.88 L1048.49,406.99 L1049.50,407.10 L1050.51,407.21 L1051.52,407.31 L1052.53,407.42 L1053.54,407.52 L1054.55,407.61 L1055.56,407.71 L1056.57,407.80 L1057.58,407.89 L1058.59,407.97 L1059.60,408.06 L1060.60,408.14 L1061.61,408.22 L1062.62,408.30 L1063.63,408.37 L1064.64,408.44 L1065.65,408.51 L1066.66,408.58 L1067.67,408.65 L1068.68,408.71 L1069.69,408.77 L1070.70,408.83 L1071.71,408.89 L1072.72,408.95 L1073.73,409.00 L1074.74,409.05 L1075.75,409.10 L1076.76,409.15 L1077.77,409.20 L1078.78,409.24 L1079.79,409.29 L1080.80,409.33 L1081.80,409.37 L1082.81,409.41 L1083.82,409.45 L1084.83,409.48 L1085.84,409.52 L1086.85,409.55 L1087.86,409.58 L1088.87,409.61 L1089.88,409.64 L1090.89,409.67 L1091.90,409.70 L1092.91,409.73 L1093.91,409.75 L1094.92,409.77 L1095.93,409.79 L1096.94,409.81 L1097.94,409.83 L1098.95,409.85 L1099.96,409.86 L1100.96,409.88 L1101.97,409.89 L1102.98,409.90 L1103.99,409.91 L1104.99,409.92 L1106.00,409.92 L1107.01,409.93 L1108.01,409.93 L1109.02,409.94 L1110.03,409.94 L1111.04,409.94 L1112.04,409.94 L1113.05,409.94 L1114.06,409.93 L1115.06,409.93 L1116.07,409.93 L1117.08,409.92 L1118.09,409.91 L1119.09,409.91 L1120.10,409.90 L1121.11,409.89 L1122.11,409.88 L1123.12,409.87 L1124.13,409.85 L1125.14,409.84 L1126.14,409.83 L1127.15,409.81 L1128.16,409.80 L1129.16,409.78 L1130.17,409.77 L1131.18,409.75 L1132.19,409.74 L1133.19,409.72 L1134.20,409.70 L1135.21,409.68 L1136.21,409.66 L1137.22,409.64 L1138.22,409.61 L1139.23,409.59 L1140.23,409.56 L1141.24,409.53 L1142.24,409.49 L1143.25,409.46 L1144.25,409.42 L1145.26,409.38 L1146.26,409.34 L1147.27,409.29 L1148.27,409.25 L1149.28,409.20 L1150.28,409.14 L1151.29,409.09 L1152.29,409.03 L1153.30,408.96 L1154.31,408.90 L1155.31,408.83 L1156.32,408.76 L1157.32,408.68 L1158.33,408.60 L1159.33,408.52 L1160.34,408.44 L1161.34,408.35 L1162.35,408.25 L1163.35,408.16 L1164.36,408.06 L1165.36,407.95 L1166.37,407.84 L1167.37,407.73 L1168.38,407.61 L1169.38,407.49 L1170.39,407.36 L1171.39,407.23 L1172.40,407.10 L1173.50,406.93 L1174.60,406.71 L1175.70,406.47 L1176.80,406.20 L1177.90,405.91 L1179.00,405.61 L1180.10,405.30 L1181.20,405.00 L1182.30,404.69 L1183.40,404.36 L1184.50,404.00 L1185.60,403.62 L1186.70,403.23 L1187.80,402.83 L1188.90,402.42 L1190.00,402.00 L1191.00,401.53 L1192.00,400.91 L1193.00,400.17 L1194.00,399.35 L1195.00,398.49 L1196.00,397.60 L1197.17,396.26 L1198.33,394.36 L1199.50,392.00 L1200.50,389.06 L1201.50,385.00 L1202.70,306.50 L1203.20,330.93 L1203.70,340.03 L1204.21,346.80 L1204.71,352.34 L1205.21,357.09 L1205.71,361.25 L1206.21,364.95 L1206.71,368.27 L1207.22,371.27 L1207.72,373.99 L1208.22,376.46 L1208.72,378.70 L1209.22,380.74 L1209.73,382.59 L1210.23,384.25 L1210.73,385.75 L1211.23,387.10 L1211.73,388.29 L1212.23,389.34 L1212.74,390.26 L1213.24,391.04 L1213.74,391.70 L1214.24,392.24 L1214.74,392.67 L1215.25,392.98 L1215.75,393.19 L1216.25,393.29 L1216.75,393.29 L1217.25,393.19 L1217.75,393.00 L1218.26,392.71 L1218.76,392.34 L1219.26,391.87 L1219.76,391.32 L1220.26,390.69 L1220.77,389.97 L1221.27,389.18 L1221.77,388.30 L1222.27,387.34 L1222.77,386.30 L1223.27,385.18 L1223.78,383.98 L1224.28,382.70 L1224.78,381.32 L1225.28,379.85 L1225.78,378.28 L1226.29,376.59 L1226.79,374.77 L1227.29,372.80 L1227.79,370.63 L1228.29,368.21 L1228.79,365.43 L1229.30,362.06 L1229.80,357.53 L1230.30,344.60 L1230.81,355.89 L1231.32,361.01 L1231.83,364.98 L1232.34,368.32 L1232.85,371.22 L1233.36,373.78 L1233.87,376.08 L1234.37,378.14 L1234.88,379.99 L1235.39,381.66 L1235.90,383.16 L1236.41,384.49 L1236.92,385.67 L1237.43,386.70 L1237.94,387.59 L1238.45,388.35 L1238.96,388.97 L1239.47,389.46 L1239.98,389.82 L1240.49,390.07 L1241.00,390.19 L1241.50,390.19 L1242.01,390.07 L1242.52,389.83 L1243.03,389.48 L1243.54,389.02 L1244.05,388.44 L1244.56,387.75 L1245.07,386.94 L1245.58,386.02 L1246.09,384.99 L1246.60,383.83 L1247.11,382.55 L1247.62,381.15 L1248.13,379.60 L1248.63,377.91 L1249.14,376.05 L1249.65,373.99 L1250.16,371.70 L1250.67,369.08 L1251.18,365.99 L1251.69,362.01 L1252.20,353.10 L1252.70,360.31 L1253.20,364.23 L1253.70,367.40 L1254.20,370.13 L1254.70,372.54 L1255.20,374.70 L1255.70,376.63 L1256.20,378.37 L1256.70,379.92 L1257.20,381.31 L1257.70,382.53 L1258.20,383.60 L1258.70,384.52 L1259.20,385.29 L1259.70,385.91 L1260.20,386.39 L1260.70,386.73 L1261.20,386.93 L1261.70,387.00 L1262.20,386.93 L1262.70,386.73 L1263.20,386.41 L1263.70,385.95 L1264.20,385.36 L1264.70,384.65 L1265.20,383.81 L1265.70,382.84 L1266.20,381.75 L1266.70,380.53 L1267.20,379.18 L1267.70,377.68 L1268.20,376.05 L1268.70,374.24 L1269.20,372.25 L1269.70,370.01 L1270.20,367.44 L1270.70,364.28 L1271.20,358.40 L1271.70,363.00 L1272.21,365.94 L1272.71,368.42 L1273.21,370.61 L1273.71,372.58 L1274.22,374.36 L1274.72,375.97 L1275.22,377.42 L1275.73,378.71 L1276.23,379.85 L1276.73,380.84 L1277.23,381.69 L1277.74,382.39 L1278.24,382.95 L1278.74,383.37 L1279.25,383.64 L1279.75,383.78 L1280.25,383.78 L1280.75,383.65 L1281.26,383.38 L1281.76,382.97 L1282.26,382.44 L1282.77,381.77 L1283.27,380.98 L1283.77,380.07 L1284.27,379.03 L1284.78,377.87 L1285.28,376.58 L1285.78,375.16 L1286.29,373.61 L1286.79,371.91 L1287.29,370.04 L1287.79,367.94 L1288.30,365.48 L1288.80,361.60 L1289.31,364.72 L1289.81,367.03 L1290.32,369.07 L1290.82,370.91 L1291.33,372.59 L1291.84,374.12 L1292.34,375.50 L1292.85,376.74 L1293.35,377.85 L1293.86,378.81 L1294.37,379.64 L1294.87,380.32 L1295.38,380.87 L1295.88,381.28 L1296.39,381.55 L1296.90,381.68 L1297.40,381.68 L1297.91,381.55 L1298.42,381.29 L1298.92,380.90 L1299.43,380.39 L1299.93,379.77 L1300.44,379.03 L1300.95,378.18 L1301.45,377.22 L1301.96,376.16 L1302.46,375.01 L1302.97,373.76 L1303.48,372.41 L1303.98,370.95 L1304.49,369.37 L1304.99,367.60 L1305.50,365.20 L1306.01,367.37 L1306.51,369.21 L1307.02,370.91 L1307.53,372.48 L1308.03,373.94 L1308.54,375.29 L1309.05,376.52 L1309.55,377.62 L1310.06,378.60 L1310.56,379.45 L1311.07,380.15 L1311.58,380.72 L1312.08,381.15 L1312.59,381.44 L1313.10,381.58 L1313.60,381.58 L1314.11,381.44 L1314.62,381.16 L1315.12,380.75 L1315.63,380.20 L1316.14,379.53 L1316.64,378.74 L1317.15,377.84 L1317.65,376.83 L1318.16,375.72 L1318.67,374.52 L1319.17,373.23 L1319.68,371.86 L1320.19,370.40 L1320.69,368.84 L1321.20,367.00 L1321.71,368.48 L1322.22,369.88 L1322.73,371.24 L1323.24,372.52 L1323.75,373.74 L1324.26,374.88 L1324.77,375.92 L1325.28,376.87 L1325.79,377.71 L1326.30,378.44 L1326.81,379.05 L1327.32,379.54 L1327.83,379.91 L1328.34,380.16 L1328.85,380.28 L1329.35,380.28 L1329.86,380.16 L1330.37,379.93 L1330.88,379.58 L1331.39,379.12 L1331.90,378.56 L1332.41,377.92 L1332.92,377.18 L1333.43,376.37 L1333.94,375.50 L1334.45,374.57 L1334.96,373.59 L1335.47,372.58 L1335.98,371.54 L1336.49,370.48 L1337.00,369.40 L1337.51,370.27 L1338.02,371.21 L1338.53,372.16 L1339.04,373.08 L1339.55,373.98 L1340.06,374.84 L1340.57,375.63 L1341.08,376.37 L1341.59,377.02 L1342.10,377.60 L1342.61,378.09 L1343.12,378.49 L1343.63,378.79 L1344.14,378.99 L1344.65,379.09 L1345.15,379.09 L1345.66,378.99 L1346.17,378.79 L1346.68,378.50 L1347.19,378.13 L1347.70,377.67 L1348.21,377.14 L1348.72,376.53 L1349.23,375.88 L1349.74,375.17 L1350.25,374.42 L1350.76,373.65 L1351.27,372.86 L1351.78,372.07 L1352.29,371.30 L1352.80,370.60 L1353.31,371.19 L1353.82,371.89 L1354.33,372.62 L1354.84,373.36 L1355.35,374.08 L1355.86,374.78 L1356.37,375.43 L1356.88,376.05 L1357.38,376.60 L1357.89,377.09 L1358.40,377.52 L1358.91,377.87 L1359.42,378.15 L1359.93,378.34 L1360.44,378.46 L1360.95,378.50 L1361.46,378.46 L1361.97,378.35 L1362.48,378.16 L1362.99,377.91 L1363.50,377.60 L1364.01,377.23 L1364.52,376.82 L1365.02,376.36 L1365.53,375.87 L1366.04,375.36 L1366.55,374.84 L1367.06,374.31 L1367.57,373.80 L1368.08,373.30 L1368.59,372.85 L1369.10,372.50 L1369.60,372.84 L1370.10,373.29 L1370.60,373.78 L1371.10,374.29 L1371.60,374.80 L1372.10,375.31 L1372.60,375.81 L1373.10,376.28 L1373.60,376.72 L1374.10,377.12 L1374.60,377.47 L1375.10,377.78 L1375.60,378.04 L1376.10,378.24 L1376.60,378.38 L1377.10,378.47 L1377.60,378.50 L1378.10,378.47 L1378.60,378.39 L1379.10,378.25 L1379.60,378.06 L1380.10,377.83 L1380.60,377.55 L1381.10,377.24 L1381.60,376.89 L1382.10,376.52 L1382.60,376.14 L1383.10,375.74 L1383.60,375.34 L1384.10,374.95 L1384.60,374.57 L1385.10,374.22 L1385.60,373.91 L1386.10,373.70 L1386.61,373.92 L1387.11,374.22 L1387.62,374.57 L1388.12,374.95 L1388.63,375.33 L1389.13,375.72 L1389.64,376.11 L1390.14,376.48 L1390.65,376.83 L1391.16,377.16 L1391.66,377.46 L1392.17,377.73 L1392.67,377.96 L1393.18,378.15 L1393.68,378.31 L1394.19,378.41 L1394.69,378.48 L1395.20,378.50 L1395.71,378.48 L1396.21,378.42 L1396.72,378.31 L1397.22,378.18 L1397.73,378.00 L1398.23,377.80 L1398.74,377.57 L1399.24,377.32 L1399.75,377.06 L1400.26,376.78 L1400.76,376.49 L1401.27,376.21 L1401.77,375.93 L1402.28,375.66 L1402.78,375.41 L1403.29,375.19 L1403.79,375.01 L1404.30,374.90 L1404.81,375.03 L1405.32,375.23 L1405.83,375.47 L1406.34,375.73 L1406.85,376.00 L1407.36,376.28 L1407.87,376.55 L1408.38,376.83 L1408.89,377.09 L1409.41,377.34 L1409.92,377.57 L1410.43,377.78 L1410.94,377.97 L1411.45,378.13 L1411.96,378.26 L1412.47,378.37 L1412.98,378.44 L1413.49,378.49 L1414.00,378.50 L1414.51,378.49 L1415.02,378.44 L1415.53,378.37 L1416.04,378.28 L1416.55,378.17 L1417.06,378.03 L1417.57,377.88 L1418.08,377.71 L1418.59,377.54 L1419.11,377.36 L1419.62,377.17 L1420.13,376.99 L1420.64,376.81 L1421.15,376.64 L1421.66,376.48 L1422.17,376.34 L1422.68,376.23 L1423.19,376.14 L1423.70,376.10 L1424.21,376.18 L1424.72,376.32 L1425.23,376.47 L1425.74,376.65 L1426.25,376.84 L1426.76,377.04 L1427.27,377.25 L1427.77,377.45 L1428.28,377.66 L1428.79,377.86 L1429.30,378.05 L1429.81,378.23 L1430.32,378.39 L1430.83,378.54 L1431.34,378.68 L1431.85,378.80 L1432.36,378.90 L1432.87,378.98 L1433.38,379.04 L1433.89,379.08 L1434.40,379.10 L1434.90,379.10 L1435.41,379.08 L1435.92,379.04 L1436.43,378.99 L1436.94,378.92 L1437.45,378.84 L1437.96,378.74 L1438.47,378.63 L1438.98,378.52 L1439.49,378.40 L1440.00,378.28 L1440.51,378.15 L1441.02,378.02 L1441.53,377.90 L1442.03,377.78 L1442.54,377.67 L1443.05,377.57 L1443.56,377.48 L1444.07,377.40 L1444.58,377.35 L1445.09,377.31 L1445.60,377.30 L1446.11,377.40 L1446.61,377.54 L1447.12,377.70 L1447.63,377.88 L1448.13,378.08 L1448.64,378.28 L1449.14,378.48 L1449.65,378.69 L1450.16,378.90 L1450.66,379.10 L1451.17,379.29 L1451.68,379.47 L1452.18,379.64 L1452.69,379.80 L1453.20,379.94 L1453.70,380.07 L1454.21,380.18 L1454.71,380.27 L1455.22,380.35 L1455.73,380.41 L1456.23,380.46 L1456.74,380.48 L1457.25,380.50 L1457.75,380.50 L1458.26,380.49 L1458.77,380.46 L1459.27,380.43 L1459.78,380.39 L1460.29,380.34 L1460.79,380.29 L1461.30,380.23 L1461.80,380.17 L1462.31,380.12 L1462.82,380.06 L1463.32,380.01 L1463.83,379.97 L1464.34,379.93 L1464.84,379.89 L1465.35,379.87 L1465.86,379.85 L1466.36,379.84 L1466.87,379.85 L1467.37,379.86 L1467.88,379.88 L1468.39,379.91 L1468.89,379.95 L1469.40,380.00" fill="none" stroke="#201414" stroke-width="2.7" stroke-linejoin="round" clip-path="url(#clipd)"/>
<path d="M884.30,380.60 L885.30,380.69 L886.31,380.78 L887.31,380.87 L888.31,380.97 L889.31,381.06 L890.32,381.16 L891.32,381.25 L892.32,381.35 L893.32,381.45 L894.33,381.55 L895.33,381.65 L896.33,381.75 L897.33,381.86 L898.34,381.96 L899.34,382.07 L900.34,382.18 L901.34,382.30 L902.35,382.41 L903.35,382.53 L904.35,382.65 L905.36,382.77 L906.36,382.89 L907.36,383.02 L908.36,383.15 L909.37,383.28 L910.37,383.41 L911.37,383.55 L912.37,383.69 L913.38,383.84 L914.38,383.99 L915.38,384.14 L916.38,384.29 L917.39,384.45 L918.39,384.61 L919.39,384.78 L920.39,384.95 L921.40,385.12 L922.40,385.30 L923.41,385.48 L924.41,385.66 L925.42,385.84 L926.43,386.03 L927.44,386.21 L928.44,386.39 L929.45,386.58 L930.46,386.76 L931.46,386.95 L932.47,387.13 L933.48,387.32 L934.49,387.51 L935.49,387.69 L936.50,387.88 L937.51,388.07 L938.51,388.26 L939.52,388.45 L940.53,388.64 L941.54,388.83 L942.54,389.02 L943.55,389.21 L944.56,389.40 L945.56,389.59 L946.57,389.78 L947.58,389.98 L948.59,390.17 L949.59,390.36 L950.60,390.55 L951.61,390.75 L952.61,390.94 L953.62,391.14 L954.63,391.33 L955.64,391.53 L956.64,391.72 L957.65,391.92 L958.66,392.12 L959.66,392.31 L960.67,392.51 L961.68,392.71 L962.69,392.90 L963.69,393.10 L964.70,393.30 L965.71,393.50 L966.72,393.70 L967.73,393.90 L968.74,394.10 L969.75,394.30 L970.76,394.50 L971.77,394.70 L972.78,394.90 L973.79,395.11 L974.80,395.31 L975.80,395.51 L976.81,395.71 L977.82,395.92 L978.83,396.12 L979.84,396.32 L980.85,396.53 L981.86,396.73 L982.87,396.93 L983.88,397.14 L984.89,397.34 L985.90,397.55 L986.91,397.75 L987.92,397.95 L988.93,398.16 L989.94,398.36 L990.95,398.57 L991.96,398.77 L992.97,398.97 L993.98,399.18 L994.99,399.38 L996.00,399.58 L997.00,399.79 L998.01,399.99 L999.02,400.19 L1000.03,400.39 L1001.04,400.60 L1002.05,400.80 L1003.06,401.00 L1004.07,401.20 L1005.08,401.40 L1006.09,401.60 L1007.10,401.80 L1008.11,402.00 L1009.12,402.20 L1010.13,402.39 L1011.14,402.59 L1012.15,402.78 L1013.16,402.98 L1014.17,403.17 L1015.18,403.36 L1016.19,403.55 L1017.20,403.74 L1018.20,403.92 L1019.21,404.11 L1020.22,404.29 L1021.23,404.48 L1022.24,404.66 L1023.25,404.84 L1024.26,405.02 L1025.27,405.19 L1026.28,405.37 L1027.29,405.54 L1028.30,405.72 L1029.31,405.89 L1030.32,406.06 L1031.33,406.23 L1032.34,406.40 L1033.35,406.56 L1034.36,406.73 L1035.37,406.89 L1036.38,407.05 L1037.39,407.21 L1038.40,407.37 L1039.40,407.52 L1040.41,407.68 L1041.42,407.83 L1042.43,407.98 L1043.44,408.13 L1044.45,408.28 L1045.46,408.43 L1046.47,408.57 L1047.48,408.72 L1048.49,408.86 L1049.50,409.00 L1050.51,409.14 L1051.52,409.27 L1052.53,409.39 L1053.54,409.52 L1054.55,409.63 L1055.56,409.75 L1056.57,409.85 L1057.58,409.96 L1058.59,410.06 L1059.60,410.15 L1060.60,410.24 L1061.61,410.33 L1062.62,410.41 L1063.63,410.49 L1064.64,410.56 L1065.65,410.63 L1066.66,410.70 L1067.67,410.77 L1068.68,410.83 L1069.69,410.88 L1070.70,410.94 L1071.71,410.99 L1072.72,411.04 L1073.73,411.08 L1074.74,411.12 L1075.75,411.16 L1076.76,411.20 L1077.77,411.23 L1078.78,411.27 L1079.79,411.30 L1080.80,411.32 L1081.80,411.35 L1082.81,411.37 L1083.82,411.39 L1084.83,411.41 L1085.84,411.43 L1086.85,411.44 L1087.86,411.46 L1088.87,411.47 L1089.88,411.48 L1090.89,411.49 L1091.90,411.50 L1092.91,411.51 L1093.91,411.51 L1094.92,411.52 L1095.93,411.52 L1096.94,411.52 L1097.94,411.53 L1098.95,411.53 L1099.96,411.52 L1100.96,411.52 L1101.97,411.52 L1102.98,411.51 L1103.99,411.51 L1104.99,411.50 L1106.00,411.49 L1107.01,411.48 L1108.01,411.47 L1109.02,411.46 L1110.03,411.45 L1111.04,411.43 L1112.04,411.42 L1113.05,411.40 L1114.06,411.38 L1115.06,411.36 L1116.07,411.34 L1117.08,411.32 L1118.09,411.30 L1119.09,411.28 L1120.10,411.25 L1121.11,411.23 L1122.11,411.20 L1123.12,411.17 L1124.13,411.15 L1125.14,411.12 L1126.14,411.08 L1127.15,411.05 L1128.16,411.02 L1129.16,410.99 L1130.17,410.95 L1131.18,410.91 L1132.19,410.88 L1133.19,410.84 L1134.20,410.80 L1135.23,410.76 L1136.26,410.71 L1137.30,410.66 L1138.33,410.61 L1139.36,410.55 L1140.39,410.49 L1141.42,410.43 L1142.46,410.36 L1143.49,410.30 L1144.52,410.23 L1145.55,410.15 L1146.58,410.08 L1147.62,410.00 L1148.65,409.92 L1149.68,409.84 L1150.71,409.76 L1151.74,409.68 L1152.78,409.60 L1153.81,409.51 L1154.84,409.43 L1155.87,409.34 L1156.90,409.26 L1157.94,409.17 L1158.97,409.09 L1160.00,409.00 L1161.03,408.90 L1162.07,408.79 L1163.10,408.66 L1164.13,408.51 L1165.17,408.35 L1166.20,408.17 L1167.23,407.99 L1168.27,407.79 L1169.30,407.58 L1170.33,407.36 L1171.37,407.13 L1172.40,406.90 L1173.49,406.58 L1174.57,406.15 L1175.66,405.61 L1176.74,405.01 L1177.83,404.35 L1178.91,403.68 L1180.00,403.00 L1181.00,402.29 L1182.00,401.40 L1183.00,400.39 L1184.00,399.29 L1185.00,398.15 L1186.00,397.00 L1187.17,395.19 L1188.33,392.48 L1189.50,389.00 L1190.35,384.62 L1191.20,378.00 L1191.80,308.60 L1192.31,335.15 L1192.82,345.03 L1193.33,352.35 L1193.84,358.30 L1194.34,363.35 L1194.85,367.72 L1195.36,371.56 L1195.87,374.95 L1196.38,377.96 L1196.89,380.63 L1197.40,382.99 L1197.91,385.08 L1198.42,386.92 L1198.92,388.53 L1199.43,389.91 L1199.94,391.08 L1200.45,392.07 L1200.96,392.86 L1201.47,393.48 L1201.98,393.94 L1202.49,394.24 L1203.00,394.38 L1203.50,394.38 L1204.01,394.24 L1204.52,393.97 L1205.03,393.57 L1205.54,393.05 L1206.05,392.41 L1206.56,391.66 L1207.07,390.79 L1207.58,389.82 L1208.08,388.74 L1208.59,387.56 L1209.10,386.27 L1209.61,384.87 L1210.12,383.37 L1210.63,381.74 L1211.14,379.98 L1211.65,378.07 L1212.16,375.98 L1212.66,373.64 L1213.17,370.97 L1213.68,367.76 L1214.19,363.44 L1214.70,351.00 L1215.21,361.33 L1215.72,366.01 L1216.23,369.61 L1216.74,372.61 L1217.24,375.19 L1217.75,377.44 L1218.26,379.41 L1218.77,381.13 L1219.28,382.64 L1219.79,383.93 L1220.30,385.04 L1220.81,385.96 L1221.31,386.70 L1221.82,387.28 L1222.33,387.68 L1222.84,387.92 L1223.35,388.00 L1223.86,387.92 L1224.37,387.69 L1224.88,387.30 L1225.39,386.75 L1225.89,386.05 L1226.40,385.20 L1226.91,384.18 L1227.42,383.01 L1227.93,381.67 L1228.44,380.15 L1228.95,378.44 L1229.46,376.52 L1229.96,374.33 L1230.47,371.81 L1230.98,368.81 L1231.49,364.94 L1232.00,356.30 L1232.51,362.72 L1233.03,366.21 L1233.54,369.01 L1234.06,371.37 L1234.57,373.40 L1235.08,375.16 L1235.60,376.68 L1236.11,377.98 L1236.62,379.07 L1237.14,379.96 L1237.65,380.66 L1238.17,381.17 L1238.68,381.51 L1239.19,381.68 L1239.71,381.68 L1240.22,381.52 L1240.73,381.20 L1241.25,380.73 L1241.76,380.10 L1242.28,379.34 L1242.79,378.42 L1243.30,377.37 L1243.82,376.17 L1244.33,374.81 L1244.84,373.29 L1245.36,371.57 L1245.87,369.58 L1246.39,367.14 L1246.90,362.60 L1247.40,365.97 L1247.91,368.14 L1248.41,369.95 L1248.91,371.52 L1249.42,372.91 L1249.92,374.13 L1250.42,375.20 L1250.93,376.12 L1251.43,376.91 L1251.93,377.56 L1252.44,378.09 L1252.94,378.49 L1253.44,378.78 L1253.95,378.95 L1254.45,379.00 L1254.95,378.95 L1255.46,378.79 L1255.96,378.53 L1256.46,378.18 L1256.97,377.74 L1257.47,377.21 L1257.97,376.61 L1258.48,375.92 L1258.98,375.16 L1259.48,374.32 L1259.99,373.41 L1260.49,372.41 L1260.99,371.31 L1261.50,370.02 L1262.00,368.00 L1262.50,369.60 L1263.00,370.80 L1263.50,371.85 L1264.00,372.80 L1264.50,373.65 L1265.00,374.43 L1265.50,375.12 L1266.00,375.74 L1266.50,376.28 L1267.00,376.74 L1267.50,377.13 L1268.00,377.45 L1268.50,377.69 L1269.00,377.86 L1269.50,377.97 L1270.00,378.00 L1270.50,377.97 L1271.00,377.87 L1271.50,377.71 L1272.00,377.50 L1272.50,377.22 L1273.00,376.90 L1273.50,376.52 L1274.00,376.10 L1274.50,375.64 L1275.00,375.14 L1275.50,374.59 L1276.00,374.01 L1276.50,373.39 L1277.00,372.73 L1277.50,371.99 L1278.00,371.00 L1278.50,371.84 L1279.00,372.57 L1279.50,373.23 L1280.00,373.85 L1280.50,374.42 L1281.00,374.95 L1281.50,375.43 L1282.00,375.86 L1282.50,376.24 L1283.00,376.58 L1283.50,376.86 L1284.00,377.09 L1284.50,377.27 L1285.00,377.40 L1285.50,377.47 L1286.00,377.50 L1286.50,377.48 L1287.00,377.40 L1287.50,377.28 L1288.00,377.12 L1288.50,376.91 L1289.00,376.66 L1289.50,376.38 L1290.00,376.06 L1290.50,375.71 L1291.00,375.33 L1291.50,374.93 L1292.00,374.50 L1292.50,374.05 L1293.00,373.58 L1293.50,373.08 L1294.00,372.50 L1294.50,373.01 L1295.00,373.50 L1295.50,373.98 L1296.00,374.43 L1296.50,374.86 L1297.00,375.27 L1297.50,375.64 L1298.00,375.98 L1298.50,376.28 L1299.00,376.55 L1299.50,376.78 L1300.00,376.97 L1300.50,377.11 L1301.00,377.22 L1301.50,377.28 L1302.00,377.30 L1302.50,377.28 L1303.00,377.22 L1303.50,377.12 L1304.00,376.99 L1304.50,376.82 L1305.00,376.61 L1305.50,376.38 L1306.00,376.12 L1306.50,375.84 L1307.00,375.54 L1307.50,375.22 L1308.00,374.89 L1308.50,374.55 L1309.00,374.20 L1309.50,373.85 L1310.00,373.50 L1310.50,373.81 L1311.00,374.14 L1311.50,374.48 L1312.00,374.82 L1312.50,375.15 L1313.00,375.46 L1313.50,375.76 L1314.00,376.04 L1314.50,376.29 L1315.00,376.52 L1315.50,376.73 L1316.00,376.90 L1316.50,377.04 L1317.00,377.16 L1317.50,377.24 L1318.00,377.28 L1318.50,377.30 L1319.00,377.28 L1319.50,377.24 L1320.00,377.16 L1320.50,377.06 L1321.00,376.92 L1321.50,376.77 L1322.00,376.59 L1322.50,376.38 L1323.00,376.17 L1323.50,375.93 L1324.00,375.69 L1324.50,375.44 L1325.00,375.18 L1325.50,374.92 L1326.00,374.66 L1326.50,374.42 L1327.00,374.20 L1327.50,374.42 L1328.00,374.68 L1328.50,374.96 L1329.00,375.24 L1329.50,375.52 L1330.00,375.79 L1330.50,376.04 L1331.00,376.29 L1331.50,376.51 L1332.00,376.71 L1332.50,376.89 L1333.00,377.05 L1333.50,377.17 L1334.00,377.27 L1334.50,377.34 L1335.00,377.39 L1335.50,377.40 L1336.00,377.39 L1336.50,377.35 L1337.00,377.28 L1337.50,377.19 L1338.00,377.07 L1338.50,376.94 L1339.00,376.79 L1339.50,376.62 L1340.00,376.44 L1340.50,376.25 L1341.00,376.06 L1341.50,375.86 L1342.00,375.66 L1342.50,375.47 L1343.00,375.29 L1343.50,375.13 L1344.00,375.00 L1344.50,375.14 L1345.00,375.33 L1345.50,375.54 L1346.00,375.76 L1346.50,375.99 L1347.00,376.21 L1347.50,376.42 L1348.00,376.63 L1348.50,376.82 L1349.00,376.99 L1349.50,377.15 L1350.00,377.28 L1350.50,377.40 L1351.00,377.49 L1351.50,377.55 L1352.00,377.59 L1352.50,377.60 L1353.00,377.59 L1353.50,377.55 L1354.00,377.49 L1354.50,377.41 L1355.00,377.30 L1355.50,377.18 L1356.00,377.04 L1356.50,376.89 L1357.00,376.73 L1357.50,376.56 L1358.00,376.39 L1358.50,376.21 L1359.00,376.04 L1359.50,375.87 L1360.00,375.72 L1360.50,375.59 L1361.00,375.50 L1361.50,375.61 L1362.00,375.76 L1362.50,375.94 L1363.00,376.13 L1363.50,376.32 L1364.00,376.52 L1364.50,376.71 L1365.00,376.90 L1365.50,377.07 L1366.00,377.23 L1366.50,377.38 L1367.00,377.51 L1367.50,377.61 L1368.00,377.69 L1368.50,377.75 L1369.00,377.79 L1369.50,377.80 L1370.00,377.79 L1370.50,377.75 L1371.00,377.70 L1371.50,377.62 L1372.00,377.53 L1372.50,377.41 L1373.00,377.29 L1373.50,377.15 L1374.00,377.01 L1374.50,376.86 L1375.00,376.71 L1375.50,376.56 L1376.00,376.41 L1376.50,376.28 L1377.00,376.16 L1377.50,376.06 L1378.00,376.00 L1378.50,376.07 L1379.00,376.18 L1379.50,376.31 L1380.00,376.45 L1380.50,376.61 L1381.00,376.77 L1381.50,376.93 L1382.00,377.09 L1382.50,377.24 L1383.00,377.39 L1383.50,377.52 L1384.00,377.64 L1384.50,377.75 L1385.00,377.84 L1385.50,377.91 L1386.00,377.96 L1386.50,377.99 L1387.00,378.00 L1387.50,377.99 L1388.00,377.96 L1388.50,377.91 L1389.00,377.84 L1389.50,377.76 L1390.00,377.66 L1390.50,377.55 L1391.00,377.43 L1391.50,377.30 L1392.00,377.17 L1392.50,377.03 L1393.00,376.89 L1393.50,376.76 L1394.00,376.64 L1394.50,376.52 L1395.00,376.42 L1395.50,376.34 L1396.00,376.30 L1396.50,376.36 L1397.00,376.46 L1397.50,376.59 L1398.00,376.73 L1398.50,376.89 L1399.00,377.05 L1399.50,377.21 L1400.00,377.37 L1400.50,377.53 L1401.00,377.68 L1401.50,377.81 L1402.00,377.94 L1402.50,378.05 L1403.00,378.14 L1403.50,378.21 L1404.00,378.26 L1404.50,378.29 L1405.00,378.30 L1405.50,378.29 L1406.00,378.26 L1406.50,378.21 L1407.00,378.15 L1407.50,378.07 L1408.00,377.97 L1408.50,377.87 L1409.00,377.75 L1409.50,377.63 L1410.00,377.51 L1410.50,377.39 L1411.00,377.26 L1411.50,377.15 L1412.00,377.05 L1412.50,376.95 L1413.00,376.88 L1413.50,376.82 L1414.00,376.80 L1414.50,376.86 L1415.00,376.95 L1415.50,377.08 L1416.00,377.22 L1416.50,377.37 L1417.00,377.53 L1417.50,377.69 L1418.00,377.86 L1418.50,378.02 L1419.00,378.17 L1419.50,378.31 L1420.00,378.43 L1420.50,378.54 L1421.00,378.63 L1421.50,378.71 L1422.00,378.76 L1422.50,378.79 L1423.00,378.80 L1423.50,378.79 L1424.00,378.76 L1424.50,378.71 L1425.00,378.65 L1425.50,378.57 L1426.00,378.48 L1426.50,378.38 L1427.00,378.28 L1427.50,378.17 L1428.00,378.06 L1428.50,377.95 L1429.00,377.84 L1429.50,377.75 L1430.00,377.66 L1430.50,377.59 L1431.00,377.54 L1431.50,377.51 L1432.00,377.50 L1432.50,377.56 L1433.00,377.66 L1433.50,377.78 L1434.00,377.93 L1434.50,378.09 L1435.00,378.26 L1435.50,378.43 L1436.00,378.60 L1436.50,378.77 L1437.00,378.93 L1437.50,379.08 L1438.00,379.21 L1438.50,379.33 L1439.00,379.43 L1439.50,379.50 L1440.00,379.56 L1440.50,379.59 L1441.00,379.60 L1441.50,379.59 L1442.00,379.56 L1442.50,379.51 L1443.00,379.45 L1443.50,379.37 L1444.00,379.29 L1444.50,379.19 L1445.00,379.10 L1445.50,379.00 L1446.00,378.90 L1446.50,378.81 L1447.00,378.72 L1447.50,378.65 L1448.00,378.58 L1448.50,378.53 L1449.00,378.50 L1449.50,378.49 L1450.00,378.50 L1450.51,378.58 L1451.02,378.69 L1451.53,378.83 L1452.04,378.99 L1452.55,379.16 L1453.06,379.34 L1453.57,379.52 L1454.08,379.70 L1454.59,379.88 L1455.11,380.05 L1455.62,380.20 L1456.13,380.34 L1456.64,380.47 L1457.15,380.57 L1457.66,380.66 L1458.17,380.72 L1458.68,380.77 L1459.19,380.79 L1459.70,380.80 L1460.21,380.79 L1460.72,380.77 L1461.23,380.74 L1461.74,380.70 L1462.25,380.65 L1462.76,380.60 L1463.27,380.54 L1463.78,380.49 L1464.29,380.45 L1464.81,380.41 L1465.32,380.38 L1465.83,380.36 L1466.34,380.35 L1466.85,380.35 L1467.36,380.36 L1467.87,380.38 L1468.38,380.41 L1468.89,380.45 L1469.40,380.50" fill="none" stroke="#e3141c" stroke-width="2.7" stroke-linejoin="round" stroke-dasharray="9.4 8.8" stroke-dashoffset="7.72" clip-path="url(#clipd)"/>
<path d="M884.30,380.60 L885.30,380.70 L886.31,380.80 L887.31,380.90 L888.31,381.00 L889.31,381.10 L890.32,381.20 L891.32,381.30 L892.32,381.41 L893.32,381.51 L894.33,381.62 L895.33,381.73 L896.33,381.84 L897.33,381.95 L898.34,382.06 L899.34,382.17 L900.34,382.29 L901.34,382.41 L902.35,382.53 L903.35,382.66 L904.35,382.78 L905.36,382.91 L906.36,383.05 L907.36,383.18 L908.36,383.32 L909.37,383.46 L910.37,383.61 L911.37,383.76 L912.37,383.91 L913.38,384.07 L914.38,384.24 L915.38,384.40 L916.38,384.57 L917.39,384.75 L918.39,384.93 L919.39,385.11 L920.39,385.30 L921.40,385.50 L922.40,385.70 L923.41,385.90 L924.41,386.11 L925.42,386.31 L926.43,386.52 L927.44,386.72 L928.44,386.93 L929.45,387.13 L930.46,387.34 L931.46,387.54 L932.47,387.75 L933.48,387.95 L934.49,388.16 L935.49,388.36 L936.50,388.56 L937.51,388.77 L938.51,388.97 L939.52,389.18 L940.53,389.38 L941.54,389.59 L942.54,389.79 L943.55,390.00 L944.56,390.20 L945.56,390.41 L946.57,390.61 L947.58,390.82 L948.59,391.02 L949.59,391.23 L950.60,391.43 L951.61,391.64 L952.61,391.84 L953.62,392.05 L954.63,392.25 L955.64,392.46 L956.64,392.66 L957.65,392.87 L958.66,393.07 L959.66,393.28 L960.67,393.48 L961.68,393.69 L962.69,393.89 L963.69,394.10 L964.70,394.30 L965.71,394.50 L966.72,394.71 L967.73,394.91 L968.74,395.12 L969.75,395.32 L970.76,395.53 L971.77,395.73 L972.78,395.94 L973.79,396.14 L974.80,396.35 L975.80,396.55 L976.81,396.76 L977.82,396.96 L978.83,397.17 L979.84,397.37 L980.85,397.58 L981.86,397.78 L982.87,397.99 L983.88,398.19 L984.89,398.40 L985.90,398.60 L986.91,398.81 L987.92,399.01 L988.93,399.21 L989.94,399.42 L990.95,399.62 L991.96,399.83 L992.97,400.03 L993.98,400.24 L994.99,400.44 L996.00,400.65 L997.00,400.85 L998.01,401.06 L999.02,401.26 L1000.03,401.47 L1001.04,401.67 L1002.05,401.88 L1003.06,402.08 L1004.07,402.29 L1005.08,402.49 L1006.09,402.70 L1007.10,402.90 L1008.11,403.10 L1009.12,403.31 L1010.13,403.51 L1011.14,403.72 L1012.15,403.92 L1013.16,404.12 L1014.17,404.32 L1015.18,404.53 L1016.19,404.73 L1017.20,404.93 L1018.20,405.13 L1019.21,405.33 L1020.22,405.52 L1021.23,405.72 L1022.24,405.92 L1023.25,406.12 L1024.26,406.31 L1025.27,406.51 L1026.28,406.70 L1027.29,406.90 L1028.30,407.09 L1029.31,407.28 L1030.32,407.47 L1031.33,407.66 L1032.34,407.85 L1033.35,408.04 L1034.36,408.23 L1035.37,408.41 L1036.38,408.60 L1037.39,408.78 L1038.40,408.96 L1039.40,409.15 L1040.41,409.33 L1041.42,409.51 L1042.43,409.69 L1043.44,409.86 L1044.45,410.04 L1045.46,410.21 L1046.47,410.39 L1047.48,410.56 L1048.49,410.73 L1049.50,410.90 L1050.51,411.06 L1051.52,411.22 L1052.53,411.37 L1053.54,411.51 L1054.55,411.64 L1055.56,411.76 L1056.57,411.88 L1057.58,411.99 L1058.59,412.09 L1059.60,412.19 L1060.60,412.28 L1061.61,412.36 L1062.62,412.44 L1063.63,412.51 L1064.64,412.58 L1065.65,412.64 L1066.66,412.69 L1067.67,412.74 L1068.68,412.78 L1069.69,412.83 L1070.70,412.86 L1071.71,412.89 L1072.72,412.92 L1073.73,412.95 L1074.74,412.97 L1075.75,412.98 L1076.76,413.00 L1077.77,413.01 L1078.78,413.02 L1079.79,413.03 L1080.80,413.03 L1081.80,413.03 L1082.81,413.03 L1083.82,413.03 L1084.83,413.03 L1085.84,413.03 L1086.85,413.02 L1087.86,413.02 L1088.87,413.02 L1089.88,413.01 L1090.89,413.00 L1091.90,413.00 L1092.91,412.99 L1093.91,412.99 L1094.92,412.98 L1095.93,412.97 L1096.94,412.96 L1097.94,412.95 L1098.95,412.94 L1099.96,412.92 L1100.96,412.91 L1101.97,412.89 L1102.98,412.88 L1103.99,412.86 L1104.99,412.84 L1106.00,412.82 L1107.01,412.80 L1108.01,412.77 L1109.02,412.75 L1110.03,412.72 L1111.04,412.70 L1112.04,412.67 L1113.05,412.64 L1114.06,412.61 L1115.06,412.58 L1116.07,412.55 L1117.08,412.52 L1118.09,412.48 L1119.09,412.45 L1120.10,412.41 L1121.11,412.38 L1122.11,412.34 L1123.12,412.30 L1124.13,412.26 L1125.14,412.22 L1126.14,412.17 L1127.15,412.13 L1128.16,412.09 L1129.16,412.04 L1130.17,412.00 L1131.18,411.95 L1132.19,411.90 L1133.19,411.85 L1134.20,411.80 L1135.23,411.75 L1136.26,411.69 L1137.30,411.62 L1138.33,411.55 L1139.36,411.48 L1140.39,411.40 L1141.42,411.32 L1142.46,411.24 L1143.49,411.15 L1144.52,411.06 L1145.55,410.97 L1146.58,410.87 L1147.62,410.77 L1148.65,410.67 L1149.68,410.57 L1150.71,410.46 L1151.74,410.36 L1152.78,410.25 L1153.81,410.15 L1154.84,410.04 L1155.87,409.93 L1156.90,409.82 L1157.94,409.71 L1158.97,409.61 L1160.00,409.50 L1161.03,409.38 L1162.07,409.23 L1163.10,409.05 L1164.13,408.86 L1165.17,408.64 L1166.20,408.40 L1167.23,408.14 L1168.27,407.88 L1169.30,407.59 L1170.33,407.30 L1171.37,407.00 L1172.40,406.70 L1173.52,406.22 L1174.64,405.49 L1175.76,404.58 L1176.88,403.56 L1178.00,402.50 L1179.00,401.29 L1180.00,399.67 L1181.00,397.84 L1182.00,396.00 L1183.15,392.93 L1184.30,388.00 L1184.80,383.09 L1185.30,375.00 L1185.80,307.50 L1186.31,333.76 L1186.82,343.51 L1187.33,350.71 L1187.84,356.52 L1188.35,361.42 L1188.86,365.64 L1189.37,369.30 L1189.88,372.50 L1190.39,375.31 L1190.90,377.75 L1191.41,379.88 L1191.92,381.72 L1192.43,383.29 L1192.94,384.60 L1193.45,385.68 L1193.96,386.54 L1194.47,387.19 L1194.98,387.65 L1195.49,387.91 L1196.00,388.00 L1196.51,387.92 L1197.02,387.67 L1197.53,387.27 L1198.04,386.71 L1198.55,386.02 L1199.06,385.18 L1199.57,384.21 L1200.08,383.11 L1200.59,381.88 L1201.10,380.51 L1201.61,379.02 L1202.12,377.38 L1202.63,375.59 L1203.14,373.64 L1203.65,371.48 L1204.16,369.07 L1204.67,366.30 L1205.18,362.98 L1205.69,358.51 L1206.20,345.70 L1206.71,357.63 L1207.22,362.99 L1207.73,367.08 L1208.24,370.46 L1208.75,373.32 L1209.26,375.78 L1209.77,377.90 L1210.28,379.72 L1210.78,381.28 L1211.29,382.59 L1211.80,383.67 L1212.31,384.53 L1212.82,385.18 L1213.33,385.64 L1213.84,385.91 L1214.35,386.00 L1214.86,385.91 L1215.37,385.66 L1215.88,385.24 L1216.39,384.66 L1216.90,383.92 L1217.41,383.04 L1217.92,381.99 L1218.42,380.80 L1218.93,379.44 L1219.44,377.92 L1219.95,376.21 L1220.46,374.28 L1220.97,372.08 L1221.48,369.46 L1221.99,366.10 L1222.50,358.40 L1223.01,364.14 L1223.52,367.19 L1224.03,369.60 L1224.54,371.62 L1225.06,373.34 L1225.57,374.81 L1226.08,376.06 L1226.59,377.10 L1227.10,377.95 L1227.61,378.61 L1228.12,379.10 L1228.63,379.42 L1229.14,379.58 L1229.66,379.58 L1230.17,379.43 L1230.68,379.13 L1231.19,378.68 L1231.70,378.10 L1232.21,377.37 L1232.72,376.51 L1233.23,375.51 L1233.74,374.37 L1234.26,373.08 L1234.77,371.60 L1235.28,369.88 L1235.79,367.75 L1236.30,363.70 L1236.81,366.60 L1237.31,368.41 L1237.82,369.91 L1238.33,371.20 L1238.83,372.32 L1239.34,373.31 L1239.85,374.16 L1240.36,374.89 L1240.86,375.51 L1241.37,376.01 L1241.88,376.41 L1242.38,376.70 L1242.89,376.89 L1243.40,376.99 L1243.90,376.99 L1244.41,376.90 L1244.92,376.72 L1245.42,376.46 L1245.93,376.13 L1246.44,375.71 L1246.94,375.23 L1247.45,374.68 L1247.96,374.06 L1248.47,373.37 L1248.97,372.62 L1249.48,371.79 L1249.99,370.86 L1250.49,369.77 L1251.00,368.00 L1251.50,369.39 L1252.00,370.38 L1252.50,371.24 L1253.00,372.01 L1253.50,372.69 L1254.00,373.30 L1254.50,373.84 L1255.00,374.31 L1255.50,374.72 L1256.00,375.05 L1256.50,375.33 L1257.00,375.54 L1257.50,375.68 L1258.00,375.77 L1258.50,375.80 L1259.00,375.77 L1259.50,375.69 L1260.00,375.56 L1260.50,375.37 L1261.00,375.14 L1261.50,374.87 L1262.00,374.56 L1262.50,374.20 L1263.00,373.82 L1263.50,373.40 L1264.00,372.94 L1264.50,372.45 L1265.00,371.92 L1265.50,371.33 L1266.00,370.50 L1266.50,371.20 L1267.00,371.76 L1267.50,372.28 L1268.00,372.76 L1268.50,373.19 L1269.00,373.59 L1269.50,373.96 L1270.00,374.28 L1270.50,374.57 L1271.00,374.82 L1271.50,375.03 L1272.00,375.20 L1272.50,375.33 L1273.00,375.43 L1273.50,375.48 L1274.00,375.50 L1274.50,375.48 L1275.00,375.43 L1275.50,375.34 L1276.00,375.22 L1276.50,375.07 L1277.00,374.89 L1277.50,374.68 L1278.00,374.45 L1278.50,374.20 L1279.00,373.92 L1279.50,373.62 L1280.00,373.31 L1280.50,372.98 L1281.00,372.63 L1281.50,372.25 L1282.00,371.80 L1282.50,372.23 L1283.00,372.63 L1283.50,373.01 L1284.00,373.37 L1284.50,373.71 L1285.00,374.02 L1285.50,374.31 L1286.00,374.58 L1286.50,374.81 L1287.00,375.02 L1287.50,375.20 L1288.00,375.34 L1288.50,375.46 L1289.00,375.54 L1289.50,375.58 L1290.00,375.60 L1290.50,375.58 L1291.00,375.54 L1291.50,375.46 L1292.00,375.35 L1292.50,375.22 L1293.00,375.06 L1293.50,374.88 L1294.00,374.68 L1294.50,374.45 L1295.00,374.21 L1295.50,373.95 L1296.00,373.68 L1296.50,373.40 L1297.00,373.12 L1297.50,372.82 L1298.00,372.50 L1298.50,372.83 L1299.00,373.17 L1299.50,373.51 L1300.00,373.84 L1300.50,374.16 L1301.00,374.46 L1301.50,374.74 L1302.00,374.99 L1302.50,375.22 L1303.00,375.43 L1303.50,375.60 L1304.00,375.74 L1304.50,375.86 L1305.00,375.94 L1305.50,375.98 L1306.00,376.00 L1306.50,375.98 L1307.00,375.94 L1307.50,375.86 L1308.00,375.76 L1308.50,375.63 L1309.00,375.47 L1309.50,375.30 L1310.00,375.10 L1310.50,374.89 L1311.00,374.66 L1311.50,374.42 L1312.00,374.18 L1312.50,373.93 L1313.00,373.68 L1313.50,373.43 L1314.00,373.20 L1314.50,373.44 L1315.00,373.71 L1315.50,373.99 L1316.00,374.27 L1316.50,374.54 L1317.00,374.81 L1317.50,375.06 L1318.00,375.30 L1318.50,375.52 L1319.00,375.72 L1319.50,375.90 L1320.00,376.05 L1320.50,376.18 L1321.00,376.27 L1321.50,376.34 L1322.00,376.39 L1322.50,376.40 L1323.00,376.39 L1323.50,376.35 L1324.00,376.28 L1324.50,376.19 L1325.00,376.07 L1325.50,375.93 L1326.00,375.78 L1326.50,375.60 L1327.00,375.42 L1327.50,375.22 L1328.00,375.01 L1328.50,374.79 L1329.00,374.58 L1329.50,374.36 L1330.00,374.16 L1330.50,373.96 L1331.00,373.80 L1331.50,373.98 L1332.00,374.22 L1332.50,374.47 L1333.00,374.73 L1333.50,374.98 L1334.00,375.24 L1334.50,375.48 L1335.00,375.71 L1335.50,375.93 L1336.00,376.13 L1336.50,376.30 L1337.00,376.45 L1337.50,376.58 L1338.00,376.67 L1338.50,376.74 L1339.00,376.79 L1339.50,376.80 L1340.00,376.79 L1340.50,376.75 L1341.00,376.68 L1341.50,376.59 L1342.00,376.47 L1342.50,376.34 L1343.00,376.18 L1343.50,376.02 L1344.00,375.83 L1344.50,375.64 L1345.00,375.45 L1345.50,375.25 L1346.00,375.05 L1346.50,374.86 L1347.00,374.68 L1347.50,374.52 L1348.00,374.40 L1348.50,374.55 L1349.00,374.74 L1349.50,374.97 L1350.00,375.20 L1350.50,375.44 L1351.00,375.68 L1351.50,375.91 L1352.00,376.14 L1352.50,376.34 L1353.00,376.54 L1353.50,376.71 L1354.00,376.85 L1354.50,376.98 L1355.00,377.07 L1355.50,377.14 L1356.00,377.19 L1356.50,377.20 L1357.00,377.19 L1357.50,377.15 L1358.00,377.08 L1358.50,376.99 L1359.00,376.88 L1359.50,376.75 L1360.00,376.60 L1360.50,376.44 L1361.00,376.26 L1361.50,376.08 L1362.00,375.90 L1362.50,375.72 L1363.00,375.54 L1363.50,375.37 L1364.00,375.21 L1364.50,375.08 L1365.00,375.00 L1365.50,375.10 L1366.00,375.26 L1366.50,375.44 L1367.00,375.64 L1367.50,375.84 L1368.00,376.05 L1368.50,376.26 L1369.00,376.46 L1369.50,376.66 L1370.00,376.84 L1370.50,377.01 L1371.00,377.16 L1371.50,377.29 L1372.00,377.40 L1372.50,377.49 L1373.00,377.55 L1373.50,377.59 L1374.00,377.60 L1374.50,377.59 L1375.00,377.55 L1375.50,377.49 L1376.00,377.41 L1376.50,377.31 L1377.00,377.19 L1377.50,377.06 L1378.00,376.91 L1378.50,376.76 L1379.00,376.59 L1379.50,376.42 L1380.00,376.26 L1380.50,376.09 L1381.00,375.94 L1381.50,375.79 L1382.00,375.66 L1382.50,375.56 L1383.00,375.50 L1383.50,375.58 L1384.00,375.72 L1384.50,375.88 L1385.00,376.06 L1385.50,376.26 L1386.00,376.46 L1386.50,376.66 L1387.00,376.86 L1387.50,377.06 L1388.00,377.24 L1388.50,377.41 L1389.00,377.56 L1389.50,377.69 L1390.00,377.80 L1390.50,377.89 L1391.00,377.95 L1391.50,377.99 L1392.00,378.00 L1392.50,377.99 L1393.00,377.95 L1393.50,377.89 L1394.00,377.81 L1394.50,377.71 L1395.00,377.59 L1395.50,377.46 L1396.00,377.31 L1396.50,377.16 L1397.00,377.00 L1397.50,376.83 L1398.00,376.67 L1398.50,376.52 L1399.00,376.37 L1399.50,376.24 L1400.00,376.13 L1400.50,376.04 L1401.00,376.00 L1401.50,376.07 L1402.00,376.19 L1402.50,376.34 L1403.00,376.51 L1403.50,376.69 L1404.00,376.89 L1404.50,377.08 L1405.00,377.28 L1405.50,377.47 L1406.00,377.65 L1406.50,377.81 L1407.00,377.96 L1407.50,378.09 L1408.00,378.20 L1408.50,378.29 L1409.00,378.35 L1409.50,378.39 L1410.00,378.40 L1410.50,378.39 L1411.00,378.35 L1411.50,378.29 L1412.00,378.21 L1412.50,378.12 L1413.00,378.00 L1413.50,377.87 L1414.00,377.74 L1414.50,377.59 L1415.00,377.44 L1415.50,377.29 L1416.00,377.15 L1416.50,377.01 L1417.00,376.89 L1417.50,376.78 L1418.00,376.69 L1418.50,376.63 L1419.00,376.60 L1419.50,376.67 L1420.00,376.78 L1420.50,376.92 L1421.00,377.09 L1421.50,377.27 L1422.00,377.47 L1422.50,377.66 L1423.00,377.86 L1423.50,378.05 L1424.00,378.23 L1424.50,378.40 L1425.00,378.55 L1425.50,378.69 L1426.00,378.80 L1426.50,378.89 L1427.00,378.95 L1427.50,378.99 L1428.00,379.00 L1428.50,378.99 L1429.00,378.95 L1429.50,378.89 L1430.00,378.82 L1430.50,378.72 L1431.00,378.61 L1431.50,378.49 L1432.00,378.36 L1432.50,378.22 L1433.00,378.09 L1433.50,377.95 L1434.00,377.83 L1434.50,377.71 L1435.00,377.60 L1435.50,377.52 L1436.00,377.45 L1436.50,377.41 L1437.00,377.40 L1437.50,377.47 L1438.00,377.58 L1438.50,377.73 L1439.00,377.89 L1439.50,378.08 L1440.00,378.27 L1440.50,378.47 L1441.00,378.67 L1441.50,378.86 L1442.00,379.04 L1442.50,379.21 L1443.00,379.36 L1443.50,379.49 L1444.00,379.60 L1444.50,379.69 L1445.00,379.75 L1445.50,379.79 L1446.00,379.80 L1446.50,379.79 L1447.00,379.76 L1447.50,379.70 L1448.00,379.63 L1448.50,379.55 L1449.00,379.45 L1449.50,379.35 L1450.00,379.24 L1450.50,379.13 L1451.00,379.02 L1451.50,378.92 L1452.00,378.83 L1452.50,378.75 L1453.00,378.68 L1453.50,378.63 L1454.00,378.60 L1454.50,378.59 L1455.00,378.60 L1455.51,378.71 L1456.03,378.87 L1456.54,379.08 L1457.06,379.30 L1457.57,379.54 L1458.09,379.77 L1458.60,380.00 L1459.11,380.21 L1459.63,380.39 L1460.14,380.54 L1460.66,380.66 L1461.17,380.74 L1461.69,380.79 L1462.20,380.80 L1462.71,380.79 L1463.23,380.75 L1463.74,380.70 L1464.26,380.63 L1464.77,380.56 L1465.29,380.50 L1465.80,380.44 L1466.31,380.39 L1466.83,380.37 L1467.34,380.36 L1467.86,380.36 L1468.37,380.39 L1468.89,380.44 L1469.40,380.50" fill="none" stroke="#1a4aa8" stroke-width="2.7" stroke-linejoin="round" stroke-dasharray="13.5 2.9 7 3" stroke-dashoffset="7.66" clip-path="url(#clipd)"/>
<path d="M114.90,650.90 L420.00,650.90 L428.00,650.40 L431.50,649.40 L432.80,646.90 L433.10,577.00 L433.40,662.50 L434.50,655.00 L437.00,651.50 L450.00,650.50 L459.00,650.00 L460.10,644.00 L460.60,657.00 L462.00,651.50 L481.50,650.50 L482.10,648.00 L482.60,655.00 L484.00,651.00 L503.50,650.80 L504.00,649.00 L504.60,653.50 L506.00,651.00 L530.00,650.80 L699.50,650.90" fill="none" stroke="#201414" stroke-width="2.7" stroke-linejoin="round" clip-path="url(#clipe)"/>
<path d="M114.90,650.90 L410.00,650.90 L417.00,649.90 L420.50,647.90 L421.70,642.90 L422.00,577.70 L422.30,658.60 L424.00,652.00 L430.00,650.50 L443.00,650.00 L443.90,645.00 L444.50,656.00 L446.00,651.00 L470.00,650.20 L471.00,647.50 L471.80,654.00 L473.00,650.80 L699.50,650.90" fill="none" stroke="#e3141c" stroke-width="2.7" stroke-linejoin="round" stroke-dasharray="9.4 8.8" stroke-dashoffset="10.36" clip-path="url(#clipe)"/>
<path d="M114.90,650.90 L400.00,650.90 L408.50,649.50 L412.00,647.00 L414.70,643.00 L416.00,630.00 L416.50,573.10 L417.00,660.90 L419.00,652.00 L430.00,650.50 L436.00,648.00 L437.00,643.00 L437.80,655.50 L440.00,651.00 L452.50,650.50 L453.20,646.00 L454.00,655.00 L456.00,651.00 L499.00,650.50 L500.00,648.00 L501.00,653.00 L503.00,650.80 L699.50,650.90" fill="none" stroke="#1a4aa8" stroke-width="2.7" stroke-linejoin="round" stroke-dasharray="13.5 2.9 7 3" stroke-dashoffset="3.54" clip-path="url(#clipe)"/>
<rect x="114.9" y="19.8" width="584.60" height="154.70" fill="none" stroke="#423f3d" stroke-width="3"/>
<path d="M231.82,174.50v-7M231.82,19.80v7M348.74,174.50v-7M348.74,19.80v7M465.66,174.50v-7M465.66,19.80v7M582.58,174.50v-7M582.58,19.80v7M114.90,97.15h7M699.50,97.15h-7" stroke="#423f3d" stroke-width="2.8" fill="none"/>
<rect x="884.3" y="19.8" width="585.10" height="154.70" fill="none" stroke="#423f3d" stroke-width="3"/>
<path d="M1001.32,174.50v-7M1001.32,19.80v7M1118.34,174.50v-7M1118.34,19.80v7M1235.36,174.50v-7M1235.36,19.80v7M1352.38,174.50v-7M1352.38,19.80v7M884.30,55.60h7M1469.40,55.60h-7M884.30,61.00h4.4M1469.40,61.00h-4.4M884.30,67.30h4.4M1469.40,67.30h-4.4M884.30,73.80h4.4M1469.40,73.80h-4.4M884.30,81.70h4.4M1469.40,81.70h-4.4M884.30,91.60h4.4M1469.40,91.60h-4.4M884.30,102.90h4.4M1469.40,102.90h-4.4M884.30,117.80h4.4M1469.40,117.80h-4.4M884.30,138.50h4.4M1469.40,138.50h-4.4" stroke="#423f3d" stroke-width="2.8" fill="none"/>
<rect x="114.9" y="284.5" width="584.60" height="155.00" fill="none" stroke="#423f3d" stroke-width="3"/>
<path d="M231.82,439.50v-7M231.82,284.50v7M348.74,439.50v-7M348.74,284.50v7M465.66,439.50v-7M465.66,284.50v7M582.58,439.50v-7M582.58,284.50v7M114.90,363.40h7M699.50,363.40h-7M114.90,294.60h4.4M699.50,294.60h-4.4M114.90,329.10h4.4M699.50,329.10h-4.4M114.90,398.30h4.4M699.50,398.30h-4.4M114.90,432.10h4.4M699.50,432.10h-4.4" stroke="#423f3d" stroke-width="2.8" fill="none"/>
<rect x="884.3" y="284.5" width="585.10" height="155.00" fill="none" stroke="#423f3d" stroke-width="3"/>
<path d="M1001.32,439.50v-7M1001.32,284.50v7M1118.34,439.50v-7M1118.34,284.50v7M1235.36,439.50v-7M1235.36,284.50v7M1352.38,439.50v-7M1352.38,284.50v7M884.30,289.80h7M1469.40,289.80h-7M884.30,308.40h4.4M1469.40,308.40h-4.4M884.30,326.90h4.4M1469.40,326.90h-4.4M884.30,345.90h4.4M1469.40,345.90h-4.4M884.30,364.50h4.4M1469.40,364.50h-4.4M884.30,383.00h4.4M1469.40,383.00h-4.4M884.30,401.60h4.4M1469.40,401.60h-4.4M884.30,420.10h4.4M1469.40,420.10h-4.4" stroke="#423f3d" stroke-width="2.8" fill="none"/>
<rect x="114.9" y="545.4" width="584.60" height="155.10" fill="none" stroke="#423f3d" stroke-width="3"/>
<path d="M231.82,700.50v-7M231.82,545.40v7M348.74,700.50v-7M348.74,545.40v7M465.66,700.50v-7M465.66,545.40v7M582.58,700.50v-7M582.58,545.40v7M114.90,595.20h7M699.50,595.20h-7M114.90,563.80h4.4M699.50,563.80h-4.4M114.90,600.00h4.4M699.50,600.00h-4.4M114.90,605.40h4.4M699.50,605.40h-4.4M114.90,611.50h4.4M699.50,611.50h-4.4M114.90,618.50h4.4M699.50,618.50h-4.4M114.90,626.90h4.4M699.50,626.90h-4.4M114.90,637.10h4.4M699.50,637.10h-4.4M114.90,650.20h4.4M699.50,650.20h-4.4M114.90,668.70h4.4M699.50,668.70h-4.4" stroke="#423f3d" stroke-width="2.8" fill="none"/>
<g fill="#000" font-family="'Liberation Serif', serif">
<text transform="matrix(0.38328,0,0,0.34232,67.431,28.566)" font-size="100" style="" stroke="#fff" stroke-width="1.380">10</text>
<text transform="matrix(0.36988,0,0,0.34760,86.551,105.761)" font-size="100" style="" stroke="#fff" stroke-width="1.394">5</text>
<text transform="matrix(0.37515,0,0,0.34529,86.771,183.263)" font-size="100" style="" stroke="#fff" stroke-width="1.389">0</text>
<text transform="matrix(0.37751,0,0,0.34234,102.812,208.800)" font-size="100" style="" stroke="#fff" stroke-width="1.391">0</text>
<text transform="matrix(0.36926,0,0,0.34234,221.655,208.800)" font-size="100" style="" stroke="#fff" stroke-width="1.406">1</text>
<text transform="matrix(0.39912,0,0,0.34234,337.946,208.800)" font-size="100" style="" stroke="#fff" stroke-width="1.353">2</text>
<text transform="matrix(0.39701,0,0,0.34234,456.000,208.800)" font-size="100" style="" stroke="#fff" stroke-width="1.356">3</text>
<text transform="matrix(0.35066,0,0,0.34234,574.265,208.800)" font-size="100" style="" stroke="#fff" stroke-width="1.443">4</text>
<text transform="matrix(0.38726,0,0,0.34234,693.650,208.800)" font-size="100" style="" stroke="#fff" stroke-width="1.373">5</text>
<text transform="matrix(0.40824,0,0,0.34668,300.362,246.400)" font-size="100" style="" stroke="#fff" stroke-width="1.329">Time</text>
<text transform="matrix(0.35431,0,0,0.36725,401.143,246.582)" font-size="100" style="" stroke="#fff" stroke-width="1.386">(</text>
<text transform="matrix(0.38214,0,0,0.34380,413.541,246.464)" font-size="100" style="" stroke="#fff" stroke-width="1.379">10</text>
<text transform="matrix(0.33739,0,0,0.32125,452.620,240.967)" font-size="100" style="" stroke="#fff" stroke-width="1.519">−</text>
<text transform="matrix(0.26314,0,0,0.24227,471.971,236.463)" font-size="100" style="" stroke="#fff" stroke-width="1.980">5</text>
<text transform="matrix(0.43909,0,0,0.31396,493.399,246.493)" font-size="100" style="" stroke="#fff" stroke-width="1.347">s</text>
<text transform="matrix(0.37378,0,0,0.36725,510.195,246.582)" font-size="100" style="" stroke="#fff" stroke-width="1.350">)</text>
<text transform="matrix(0.35042,0,0,0.37166,138.560,58.788)" font-size="100" style="" stroke="#fff" stroke-width="1.385">(</text>
<text transform="matrix(0.43036,0,0,0.31524,151.387,58.092)" font-size="100" style="" stroke="#fff" stroke-width="1.357">a</text>
<text transform="matrix(0.35042,0,0,0.37166,171.371,58.788)" font-size="100" style="" stroke="#fff" stroke-width="1.385">)</text>
<text transform="matrix(0,-0.33522,0.31461,0,34.800,125.320)" font-size="100" style="font-style:italic;" stroke="#fff" stroke-width="1.540">R</text>
<text transform="matrix(0,-0.42472,0.43651,0,40.974,103.400)" font-size="100" style="" stroke="#fff" stroke-width="1.161">/</text>
<text transform="matrix(0,-0.33355,0.31461,0,34.800,87.821)" font-size="100" style="font-style:italic;" stroke="#fff" stroke-width="1.543">R</text>
<text transform="matrix(0,-0.20527,0.20599,0,38.699,67.182)" font-size="100" style="" stroke="#fff" stroke-width="2.432">0</text>
<text transform="matrix(0.38100,0,0,0.33788,801.451,64.370)" font-size="100" style="" stroke="#fff" stroke-width="1.394">10</text>
<text transform="matrix(0.33739,0,0,0.32125,840.320,58.867)" font-size="100" style="" stroke="#fff" stroke-width="1.519">−</text>
<text transform="matrix(0.26479,0,0,0.24856,860.347,54.457)" font-size="100" style="" stroke="#fff" stroke-width="1.949">9</text>
<text transform="matrix(0.37751,0,0,0.33780,872.662,205.500)" font-size="100" style="" stroke="#fff" stroke-width="1.400">0</text>
<text transform="matrix(0.36926,0,0,0.33780,991.355,205.500)" font-size="100" style="" stroke="#fff" stroke-width="1.416">1</text>
<text transform="matrix(0.39912,0,0,0.33780,1108.746,205.500)" font-size="100" style="" stroke="#fff" stroke-width="1.362">2</text>
<text transform="matrix(0.39701,0,0,0.33780,1226.200,205.500)" font-size="100" style="" stroke="#fff" stroke-width="1.365">3</text>
<text transform="matrix(0.35066,0,0,0.33780,1344.165,205.500)" font-size="100" style="" stroke="#fff" stroke-width="1.453">4</text>
<text transform="matrix(0.38726,0,0,0.33780,1463.450,205.500)" font-size="100" style="" stroke="#fff" stroke-width="1.382">5</text>
<text transform="matrix(0.40824,0,0,0.34668,1071.362,243.600)" font-size="100" style="" stroke="#fff" stroke-width="1.329">Time</text>
<text transform="matrix(0.35431,0,0,0.36725,1172.143,243.782)" font-size="100" style="" stroke="#fff" stroke-width="1.386">(</text>
<text transform="matrix(0.38214,0,0,0.34380,1184.541,243.664)" font-size="100" style="" stroke="#fff" stroke-width="1.379">10</text>
<text transform="matrix(0.33739,0,0,0.32125,1223.620,238.167)" font-size="100" style="" stroke="#fff" stroke-width="1.519">−</text>
<text transform="matrix(0.26314,0,0,0.24227,1242.971,233.663)" font-size="100" style="" stroke="#fff" stroke-width="1.980">5</text>
<text transform="matrix(0.43909,0,0,0.31396,1264.399,243.693)" font-size="100" style="" stroke="#fff" stroke-width="1.347">s</text>
<text transform="matrix(0.37378,0,0,0.36725,1281.195,243.782)" font-size="100" style="" stroke="#fff" stroke-width="1.350">)</text>
<text transform="matrix(0.35042,0,0,0.36504,908.560,59.929)" font-size="100" style="" stroke="#fff" stroke-width="1.398">(</text>
<text transform="matrix(0.39618,0,0,0.33257,922.300,59.675)" font-size="100" style="" stroke="#fff" stroke-width="1.377">b</text>
<text transform="matrix(0.33874,0,0,0.36504,943.608,59.929)" font-size="100" style="" stroke="#fff" stroke-width="1.422">)</text>
<text transform="matrix(0,-0.34816,0.30392,0,775.200,184.603)" font-size="100" style="" stroke="#fff" stroke-width="1.537">Energy</text>
<text transform="matrix(0,-0.37424,0.32424,0,775.697,70.045)" font-size="100" style="" stroke="#fff" stroke-width="1.435">(J)</text>
<text transform="matrix(0.38557,0,0,0.33788,42.311,373.170)" font-size="100" style="" stroke="#fff" stroke-width="1.385">10</text>
<text transform="matrix(0.26773,0,0,0.24303,80.647,363.663)" font-size="100" style="" stroke="#fff" stroke-width="1.960">10</text>
<text transform="matrix(0.37751,0,0,0.33780,102.812,472.300)" font-size="100" style="" stroke="#fff" stroke-width="1.400">0</text>
<text transform="matrix(0.36926,0,0,0.33780,221.655,472.300)" font-size="100" style="" stroke="#fff" stroke-width="1.416">1</text>
<text transform="matrix(0.39912,0,0,0.33780,337.946,472.300)" font-size="100" style="" stroke="#fff" stroke-width="1.362">2</text>
<text transform="matrix(0.39701,0,0,0.33780,456.000,472.300)" font-size="100" style="" stroke="#fff" stroke-width="1.365">3</text>
<text transform="matrix(0.35066,0,0,0.33780,574.265,472.300)" font-size="100" style="" stroke="#fff" stroke-width="1.453">4</text>
<text transform="matrix(0.38726,0,0,0.33780,693.650,472.300)" font-size="100" style="" stroke="#fff" stroke-width="1.382">5</text>
<text transform="matrix(0.40824,0,0,0.34668,300.862,509.600)" font-size="100" style="" stroke="#fff" stroke-width="1.329">Time</text>
<text transform="matrix(0.35431,0,0,0.36725,401.643,509.782)" font-size="100" style="" stroke="#fff" stroke-width="1.386">(</text>
<text transform="matrix(0.38214,0,0,0.34380,414.041,509.664)" font-size="100" style="" stroke="#fff" stroke-width="1.379">10</text>
<text transform="matrix(0.33739,0,0,0.32125,453.120,504.167)" font-size="100" style="" stroke="#fff" stroke-width="1.519">−</text>
<text transform="matrix(0.26314,0,0,0.24227,472.471,499.663)" font-size="100" style="" stroke="#fff" stroke-width="1.980">5</text>
<text transform="matrix(0.43909,0,0,0.31396,493.899,509.693)" font-size="100" style="" stroke="#fff" stroke-width="1.347">s</text>
<text transform="matrix(0.37378,0,0,0.36725,510.695,509.782)" font-size="100" style="" stroke="#fff" stroke-width="1.350">)</text>
<text transform="matrix(0.35042,0,0,0.37166,138.560,326.988)" font-size="100" style="" stroke="#fff" stroke-width="1.385">(</text>
<text transform="matrix(0.38400,0,0,0.32643,151.137,326.581)" font-size="100" style="" stroke="#fff" stroke-width="1.412">c</text>
<text transform="matrix(0.35042,0,0,0.37166,171.371,326.988)" font-size="100" style="" stroke="#fff" stroke-width="1.385">)</text>
<text transform="matrix(0,-0.31303,0.31461,0,24.700,467.802)" font-size="100" style="" stroke="#fff" stroke-width="1.593">Number</text>
<text transform="matrix(0,-0.30695,0.31461,0,24.700,353.869)" font-size="100" style="" stroke="#fff" stroke-width="1.609">of</text>
<text transform="matrix(0,-0.30497,0.31461,0,24.700,318.440)" font-size="100" style="" stroke="#fff" stroke-width="1.614">molecules</text>
<text transform="matrix(0.38214,0,0,0.33788,809.441,302.370)" font-size="100" style="" stroke="#fff" stroke-width="1.391">10</text>
<text transform="matrix(0.26429,0,0,0.24303,847.777,292.563)" font-size="100" style="" stroke="#fff" stroke-width="1.973">10</text>
<text transform="matrix(0.37751,0,0,0.33477,872.662,470.300)" font-size="100" style="" stroke="#fff" stroke-width="1.406">0</text>
<text transform="matrix(0.36926,0,0,0.33477,991.355,470.300)" font-size="100" style="" stroke="#fff" stroke-width="1.422">1</text>
<text transform="matrix(0.39912,0,0,0.33477,1108.746,470.300)" font-size="100" style="" stroke="#fff" stroke-width="1.368">2</text>
<text transform="matrix(0.39701,0,0,0.33477,1226.200,470.300)" font-size="100" style="" stroke="#fff" stroke-width="1.371">3</text>
<text transform="matrix(0.35066,0,0,0.33477,1344.165,470.300)" font-size="100" style="" stroke="#fff" stroke-width="1.459">4</text>
<text transform="matrix(0.38726,0,0,0.33477,1463.450,470.300)" font-size="100" style="" stroke="#fff" stroke-width="1.389">5</text>
<text transform="matrix(0.40824,0,0,0.34668,1071.562,508.400)" font-size="100" style="" stroke="#fff" stroke-width="1.329">Time</text>
<text transform="matrix(0.35431,0,0,0.36725,1172.343,508.582)" font-size="100" style="" stroke="#fff" stroke-width="1.386">(</text>
<text transform="matrix(0.38214,0,0,0.34380,1184.741,508.464)" font-size="100" style="" stroke="#fff" stroke-width="1.379">10</text>
<text transform="matrix(0.33739,0,0,0.32125,1223.820,502.967)" font-size="100" style="" stroke="#fff" stroke-width="1.519">−</text>
<text transform="matrix(0.26314,0,0,0.24227,1243.171,498.463)" font-size="100" style="" stroke="#fff" stroke-width="1.980">5</text>
<text transform="matrix(0.43909,0,0,0.31396,1264.599,508.493)" font-size="100" style="" stroke="#fff" stroke-width="1.347">s</text>
<text transform="matrix(0.37378,0,0,0.36725,1281.395,508.582)" font-size="100" style="" stroke="#fff" stroke-width="1.350">)</text>
<text transform="matrix(0.35042,0,0,0.37166,908.560,323.788)" font-size="100" style="" stroke="#fff" stroke-width="1.385">(</text>
<text transform="matrix(0.39853,0,0,0.33825,920.860,323.070)" font-size="100" style="" stroke="#fff" stroke-width="1.362">d</text>
<text transform="matrix(0.33874,0,0,0.37166,943.608,323.788)" font-size="100" style="" stroke="#fff" stroke-width="1.409">)</text>
<text transform="matrix(0,-0.36154,0.30392,0,783.700,465.942)" font-size="100" style="" stroke="#fff" stroke-width="1.508">Pressure</text>
<text transform="matrix(0,-0.36119,0.32314,0,784.221,330.387)" font-size="100" style="" stroke="#fff" stroke-width="1.464">(Pa)</text>
<text transform="matrix(0.38557,0,0,0.34232,53.611,609.166)" font-size="100" style="" stroke="#fff" stroke-width="1.376">10</text>
<text transform="matrix(0.26387,0,0,0.24260,91.737,599.263)" font-size="100" style="" stroke="#fff" stroke-width="1.976">3</text>
<text transform="matrix(0.38557,0,0,0.34232,53.611,707.866)" font-size="100" style="" stroke="#fff" stroke-width="1.376">10</text>
<text transform="matrix(0.27190,0,0,0.23712,91.805,697.600)" font-size="100" style="" stroke="#fff" stroke-width="1.969">2</text>
<text transform="matrix(0.37751,0,0,0.32720,102.812,733.400)" font-size="100" style="" stroke="#fff" stroke-width="1.423">0</text>
<text transform="matrix(0.36926,0,0,0.32720,221.655,733.400)" font-size="100" style="" stroke="#fff" stroke-width="1.438">1</text>
<text transform="matrix(0.39912,0,0,0.32720,337.946,733.400)" font-size="100" style="" stroke="#fff" stroke-width="1.384">2</text>
<text transform="matrix(0.39701,0,0,0.32720,456.000,733.400)" font-size="100" style="" stroke="#fff" stroke-width="1.387">3</text>
<text transform="matrix(0.35066,0,0,0.32720,574.265,733.400)" font-size="100" style="" stroke="#fff" stroke-width="1.476">4</text>
<text transform="matrix(0.38726,0,0,0.32720,693.650,733.400)" font-size="100" style="" stroke="#fff" stroke-width="1.405">5</text>
<text transform="matrix(0.40824,0,0,0.34668,299.362,771.600)" font-size="100" style="" stroke="#fff" stroke-width="1.329">Time</text>
<text transform="matrix(0.35431,0,0,0.36725,400.143,771.782)" font-size="100" style="" stroke="#fff" stroke-width="1.386">(</text>
<text transform="matrix(0.38214,0,0,0.34380,412.541,771.664)" font-size="100" style="" stroke="#fff" stroke-width="1.379">10</text>
<text transform="matrix(0.33739,0,0,0.32125,451.620,766.167)" font-size="100" style="" stroke="#fff" stroke-width="1.519">−</text>
<text transform="matrix(0.26314,0,0,0.24227,470.971,761.663)" font-size="100" style="" stroke="#fff" stroke-width="1.980">5</text>
<text transform="matrix(0.43909,0,0,0.31396,492.399,771.693)" font-size="100" style="" stroke="#fff" stroke-width="1.347">s</text>
<text transform="matrix(0.37378,0,0,0.36725,509.195,771.782)" font-size="100" style="" stroke="#fff" stroke-width="1.350">)</text>
<text transform="matrix(0.35042,0,0,0.36504,138.560,588.329)" font-size="100" style="" stroke="#fff" stroke-width="1.398">(</text>
<text transform="matrix(0.39717,0,0,0.31396,150.749,587.793)" font-size="100" style="" stroke="#fff" stroke-width="1.416">e</text>
<text transform="matrix(0.35042,0,0,0.36504,171.371,588.329)" font-size="100" style="" stroke="#fff" stroke-width="1.398">)</text>
<text transform="matrix(0,-0.36379,0.30544,0,24.700,742.357)" font-size="100" style="" stroke="#fff" stroke-width="1.500">Temperature</text>
<text transform="matrix(0,-0.33915,0.32755,0,24.827,543.290)" font-size="100" style="" stroke="#fff" stroke-width="1.500">(K)</text>
</g>
<g fill="none" stroke-width="2.8">
<path d="M891.7,572.8H937.4" stroke="#201414"/>
<path d="M891.7,616.6H937.4" stroke="#e3141c" stroke-dasharray="9.4 8.8"/>
<path d="M891.7,659.7H937.4" stroke="#1a4aa8" stroke-dasharray="13.5 2.9 7 3"/>
</g>
<g fill="#000">
<text transform="matrix(0.45227,0,0,0.32259,952.067,580.000)" font-size="100" style="font-style:italic;" stroke="#fff" stroke-width="1.309">r</text>
<text transform="matrix(0.29023,0,0,0.23735,969.795,584.968)" font-size="100" style="" stroke="#fff" stroke-width="1.905">cluster</text>
<text transform="matrix(0.37211,0,0,0.33477,1089.730,579.800)" font-size="100" style="" stroke="#fff" stroke-width="1.417">1</text>
<text transform="matrix(0.39367,0,0,0.32683,1122.173,580.000)" font-size="100" style="" stroke="#fff" stroke-width="1.394">mm</text>
<text transform="matrix(0.45227,0,0,0.32259,952.067,623.800)" font-size="100" style="font-style:italic;" stroke="#fff" stroke-width="1.309">r</text>
<text transform="matrix(0.29023,0,0,0.23735,969.795,628.768)" font-size="100" style="" stroke="#fff" stroke-width="1.905">cluster</text>
<text transform="matrix(0.35102,0,0,0.34084,1090.320,623.767)" font-size="100" style="" stroke="#fff" stroke-width="1.446">3</text>
<text transform="matrix(0.39367,0,0,0.32683,1122.173,623.800)" font-size="100" style="" stroke="#fff" stroke-width="1.394">mm</text>
<text transform="matrix(0.45227,0,0,0.32259,952.067,666.900)" font-size="100" style="font-style:italic;" stroke="#fff" stroke-width="1.309">r</text>
<text transform="matrix(0.29023,0,0,0.23735,969.795,671.868)" font-size="100" style="" stroke="#fff" stroke-width="1.905">cluster</text>
<text transform="matrix(0.35995,0,0,0.34459,1089.908,666.863)" font-size="100" style="" stroke="#fff" stroke-width="1.420">5</text>
<text transform="matrix(0.39367,0,0,0.32683,1122.173,666.900)" font-size="100" style="" stroke="#fff" stroke-width="1.394">mm</text>
</g>
<path d="M1057.8,568.00H1080.2M1057.8,575.10H1080.2M1057.8,611.80H1080.2M1057.8,618.90H1080.2M1057.8,654.90H1080.2M1057.8,662.00H1080.2" stroke="#000" stroke-width="2.1" stroke-linecap="round" fill="none"/>
</svg></body></html>
